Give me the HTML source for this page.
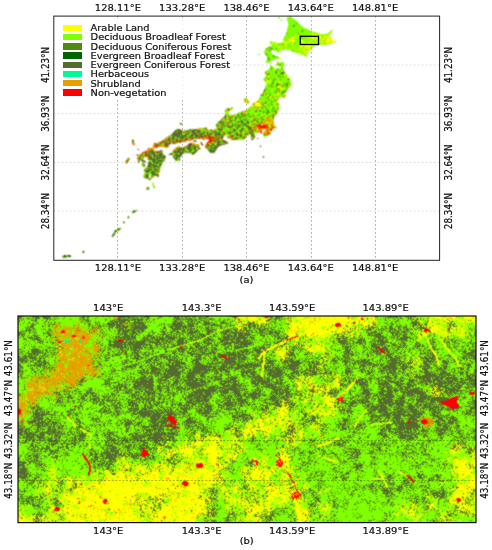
<!DOCTYPE html>
<html><head><meta charset="utf-8"><title>Land cover map of Japan</title>
<style>
html,body{margin:0;padding:0;background:#fff;}
body{width:492px;height:550px;overflow:hidden;position:relative;}
svg{position:absolute;left:0;top:0;}
text{font-family:'DejaVu Sans', 'Liberation Sans', sans-serif;fill:#111;stroke:#111;stroke-width:0.22px;}
</style></head><body>
<svg width="492" height="550" viewBox="0 0 492 550" shape-rendering="crispEdges">

<path d="M117.5 16.1V260.3M182.5 16.1V260.3M246.5 16.1V260.3M311.5 16.1V260.3M375.5 16.1V260.3" stroke="#a8a8a8" stroke-width="1" stroke-dasharray="1.5 2.5" fill="none" shape-rendering="auto"/>
<path d="M53.8 65.0H439.6M53.8 113.7H439.6M53.8 162.4H439.6M53.8 211.1H439.6" stroke="#cccccc" stroke-width="0.8" stroke-dasharray="1.6 2.4" fill="none" shape-rendering="auto"/>
<defs><filter id="tb" x="0" y="0" width="492" height="300" filterUnits="userSpaceOnUse" color-interpolation-filters="sRGB"><feConvolveMatrix order="3" kernelMatrix="1 2 1 2 4 2 1 2 1" edgeMode="none"/></filter></defs>
<g id="topmap" filter="url(#tb)"><path stroke="#7fff00" fill="none" d="M290 16.5h1M278 17.5h2m7 0h5M279 18.5h1m7 0h6M281 19.5h1m5 0h8M281 20.5h1m5 0h9M288 21.5h9M288 22.5h10M288 23.5h8m1 0h2M289 24.5h11M288 25.5h5m2 0h6M288 26.5h5m1 0h9M288 27.5h15M287 28.5h19M287 29.5h21M287 30.5h15m1 0h7m21 0h2M287 31.5h15m1 0h8m19 0h1M286 32.5h26m1 0h3m13 0h3M287 33.5h2m1 0h8m1 0h13m1 0h6m9 0h3M286 34.5h8m1 0h15m1 0h1m2 0h1m2 0h2m1 0h3m1 0h5M285 35.5h8m2 0h1m2 0h11m2 0h1m5 0h3m1 0h4m1 0h3M284 36.5h9m1 0h7m1 0h9m3 0h3m4 0h3M284 37.5h5m1 0h1m3 0h1m1 0h1m1 0h3m1 0h6m2 0h2m2 0h2m2 0h2m2 0h2m3 0h1m2 0h1M283 38.5h1m1 0h4m1 0h1m3 0h15m1 0h1m3 0h2m5 0h1m8 0h1M283 39.5h6m5 0h12m1 0h6m3 0h2m1 0h2m1 0h1M283 40.5h6m6 0h5m3 0h9m1 0h5m1 0h2m1 0h5m4 0h1M271 41.5h1m13 0h3m3 0h1m3 0h4m1 0h1m3 0h1m1 0h3m2 0h4m1 0h2m2 0h1m2 0h2m4 0h1m5 0h1M270 42.5h6m5 0h2m6 0h3m1 0h9m2 0h4m1 0h3m1 0h4m1 0h1m1 0h1m3 0h2m3 0h1M270 43.5h2m3 0h1m1 0h1m3 0h2m1 0h1m2 0h5m1 0h1m1 0h5m1 0h3m2 0h2m2 0h2m3 0h2m2 0h4m1 0h3m1 0h2m1 0h1M272 44.5h4m1 0h4m1 0h10m1 0h5m1 0h3m1 0h3m6 0h1m1 0h2m1 0h1m1 0h2m1 0h5M272 45.5h4m1 0h6m1 0h1m1 0h3m1 0h2m1 0h7m4 0h1m6 0h2m1 0h3M270 46.5h9m1 0h2m1 0h2m2 0h8m1 0h4m3 0h2m6 0h3M270 47.5h8m2 0h1m1 0h2m1 0h7m2 0h6m2 0h2m3 0h1m2 0h2M267 48.5h1m1 0h1m2 0h4m1 0h1m1 0h2m1 0h7m1 0h3m1 0h5m1 0h4m1 0h1m4 0h2M265 49.5h2m1 0h1m1 0h1m2 0h7m1 0h4m2 0h8m1 0h1m2 0h1m5 0h4M265 50.5h4m5 0h6m1 0h1m11 0h9m3 0h2m1 0h1M264 51.5h7m6 0h3m12 0h12M264 52.5h7m7 0h1m16 0h2m1 0h1m1 0h4m2 0h2M266 53.5h6m26 0h1m2 0h1m1 0h1m2 0h2M258 54.5h2m7 0h6m28 0h5M266 55.5h1m1 0h5m1 0h1m29 0h3M267 56.5h6m2 0h3m28 0h1M267 57.5h1m1 0h7m1 0h2M267 58.5h1m1 0h9m2 0h1M267 59.5h1m2 0h4M266 60.5h6M266 61.5h5m6 0h1M266 62.5h4m8 0h1m2 0h3M277 63.5h7M276 64.5h1m1 0h1m2 0h3M270 65.5h1m5 0h1m1 0h6M270 66.5h3m6 0h5M270 67.5h1m1 0h2m7 0h2M269 68.5h5m6 0h1M269 69.5h2m1 0h12M268 70.5h7m2 0h2m1 0h4M265 71.5h10m2 0h6M266 72.5h9m2 0h4M265 73.5h3m2 0h6m1 0h3m4 0h2M265 74.5h1m4 0h2m1 0h7m3 0h1m1 0h1M268 75.5h10m1 0h5m1 0h2M267 76.5h1m1 0h9m2 0h1m1 0h1m1 0h4M266 77.5h5m1 0h12m1 0h2m1 0h1M264 78.5h4m1 0h2m1 0h2m1 0h3m1 0h1m1 0h3m1 0h2m1 0h2M263 79.5h5m1 0h4m1 0h1m1 0h8m1 0h2M266 80.5h1m2 0h4m1 0h6m1 0h3m1 0h5M265 81.5h2m4 0h2m1 0h5m2 0h10M266 82.5h2m1 0h1m1 0h1m1 0h5m2 0h8m1 0h2M267 83.5h5m2 0h3m4 0h3m1 0h1m2 0h3M266 84.5h5m1 0h3m7 0h2m1 0h1m2 0h2m1 0h1M266 85.5h4m1 0h5m7 0h3m2 0h2M265 86.5h3m1 0h2m2 0h2m1 0h3m5 0h1m1 0h3M265 87.5h6m1 0h5m3 0h3m2 0h2m1 0h1M266 88.5h11m5 0h1m1 0h5M265 89.5h2m2 0h8m2 0h1m1 0h1m2 0h2m1 0h1M266 90.5h3m1 0h1m1 0h4m1 0h2m2 0h3m1 0h2M265 91.5h10m1 0h3m1 0h2m3 0h1M264 92.5h12m1 0h3m1 0h1m1 0h1m1 0h1M264 93.5h2m1 0h2m1 0h4m1 0h2m2 0h2m2 0h2M263 94.5h3m1 0h3m1 0h3m5 0h2m3 0h1M261 95.5h1m2 0h3m3 0h2m1 0h2m3 0h6M260 96.5h1m1 0h6m1 0h1m1 0h1m1 0h3m1 0h4m2 0h1M260 97.5h5m1 0h2m3 0h4m1 0h1m2 0h1M244 98.5h3m13 0h6m1 0h1m1 0h5m3 0h2M247 99.5h1m11 0h12m1 0h4m2 0h1M245 100.5h2m11 0h7m1 0h2m1 0h6m1 0h1M261 101.5h1m1 0h6m3 0h1m1 0h3M247 102.5h1m10 0h4m1 0h2m2 0h10M247 103.5h1m6 0h1m7 0h1m3 0h5m1 0h1m1 0h3M254 104.5h1m5 0h2m4 0h2m1 0h2m2 0h1m1 0h1M254 105.5h2m8 0h15M253 106.5h4m2 0h2m1 0h2m2 0h3m1 0h9M231 107.5h1m17 0h2m2 0h1m2 0h1m2 0h3m1 0h7m2 0h1m1 0h5M229 108.5h4m15 0h4m1 0h1m4 0h2m3 0h3m1 0h5m2 0h3M247 109.5h7m2 0h1m1 0h1m1 0h1m1 0h4m1 0h11M226 110.5h2m1 0h1m18 0h1m1 0h5m2 0h2m2 0h6m2 0h3m1 0h1m2 0h3M225 111.5h1m1 0h2m14 0h1m3 0h8m2 0h3m1 0h2m2 0h2m2 0h3m1 0h2m1 0h2M225 112.5h1m1 0h2m10 0h2m1 0h2m3 0h16m1 0h2m4 0h5m2 0h1M225 113.5h4m8 0h1m1 0h2m4 0h3m1 0h4m1 0h12m2 0h3m1 0h2M226 114.5h3m6 0h3m1 0h2m6 0h1m1 0h10m1 0h11M227 115.5h2m1 0h1m4 0h2m2 0h2m1 0h2m1 0h4m1 0h2m2 0h3m2 0h3m1 0h1m1 0h2m1 0h3m3 0h1M227 116.5h1m1 0h2m2 0h2m1 0h1m3 0h1m5 0h1m1 0h1m3 0h1m1 0h8m2 0h4m2 0h2m2 0h1M226 117.5h1m6 0h2m2 0h2m1 0h1m1 0h13m1 0h4m2 0h4m3 0h4M224 118.5h1m1 0h1m4 0h4m2 0h2m2 0h2m1 0h2m1 0h4m1 0h2m2 0h1m1 0h3m1 0h4m3 0h1m1 0h2M222 119.5h3m2 0h1m2 0h1m1 0h3m1 0h4m1 0h3m2 0h2m1 0h4m3 0h3m1 0h1m3 0h2m4 0h3M221 120.5h2m3 0h3m6 0h6m2 0h1m1 0h1m1 0h6m5 0h6m4 0h1M222 121.5h1m1 0h5m3 0h3m2 0h1m5 0h3m3 0h2m2 0h4m1 0h3m5 0h1M217 122.5h1m6 0h1m5 0h1m1 0h5m2 0h2m3 0h3m3 0h1m1 0h4m3 0h2m1 0h1M179 123.5h1m37 0h2m1 0h1m3 0h1m4 0h3m1 0h2m1 0h5m1 0h1m6 0h4m2 0h4m6 0h2M180 124.5h1m37 0h2m1 0h1m2 0h1m1 0h1m3 0h2m2 0h1m1 0h1m3 0h1m1 0h1m1 0h1m1 0h6m3 0h2m1 0h1m3 0h1m2 0h1m4 0h1M217 125.5h1m1 0h1m3 0h1m1 0h1m3 0h3m4 0h1m4 0h1m6 0h7m13 0h1m4 0h2M216 126.5h1m9 0h1m6 0h1m2 0h2m3 0h5m4 0h2m2 0h1m13 0h3m2 0h1m1 0h1M206 127.5h1m9 0h5m2 0h5m4 0h4m3 0h3m1 0h3m10 0h1m12 0h2M201 128.5h2m13 0h2m4 0h2m1 0h8m1 0h2m2 0h3m3 0h3m4 0h2m14 0h1m2 0h1M176 129.5h1m14 0h1m6 0h1m1 0h5m5 0h1m5 0h1m6 0h7m2 0h1m3 0h1m1 0h3m2 0h1m1 0h3M185 130.5h1m2 0h1m1 0h1m10 0h4m10 0h4m3 0h4m2 0h2m3 0h1m2 0h3m4 0h1m2 0h4m1 0h1m4 0h2m11 0h1M177 131.5h1m6 0h1m5 0h1m5 0h1m5 0h1m2 0h6m3 0h1m2 0h2m1 0h1m1 0h1m1 0h5m1 0h2m4 0h4m2 0h3m1 0h2m5 0h6m6 0h2m2 0h1M187 132.5h1m2 0h1m5 0h1m3 0h3m2 0h1m3 0h3m5 0h1m3 0h2m3 0h1m6 0h4m1 0h1m3 0h4m1 0h1m5 0h3M182 133.5h4m4 0h1m14 0h1m7 0h1m6 0h2m1 0h1m2 0h2m3 0h4m3 0h2m1 0h3m1 0h1m5 0h1m2 0h1m9 0h3m3 0h1M182 134.5h2m5 0h2m12 0h1m1 0h2m1 0h1m3 0h2m7 0h1m3 0h4m2 0h3m1 0h1m6 0h2m4 0h1m1 0h1m3 0h1m12 0h1M171 135.5h1m8 0h1m6 0h3m4 0h1m4 0h1m11 0h1m1 0h2m2 0h1m6 0h2m1 0h3m4 0h2m7 0h2m1 0h2m15 0h2m1 0h1M169 136.5h3m2 0h1m12 0h1m5 0h2m12 0h1m6 0h1m2 0h1m2 0h1m13 0h3m1 0h2m2 0h2m2 0h1m6 0h1m10 0h2M168 137.5h1m6 0h2m7 0h1m3 0h1m1 0h1m16 0h1m8 0h1m16 0h2m2 0h1m1 0h1m1 0h1M170 138.5h1m4 0h1m2 0h2m4 0h1m12 0h1m13 0h1m5 0h1m1 0h2m12 0h1m5 0h4m9 0h1m5 0h1M166 139.5h1m7 0h1m3 0h1m1 0h1m2 0h1m4 0h1m23 0h1m7 0h2m9 0h1m3 0h1m1 0h1m1 0h2M171 140.5h2m1 0h1m3 0h1m38 0h1m1 0h2M164 141.5h1m1 0h1m2 0h1m40 0h1m2 0h1M175 142.5h2m1 0h1m33 0h2m2 0h1m3 0h3M133 143.5h1m28 0h3m41 0h1m1 0h3m1 0h1m2 0h2m3 0h1m1 0h2M160 144.5h1m1 0h2m30 0h1m3 0h1m11 0h1m3 0h2M153 145.5h2m7 0h1m29 0h1m17 0h1M191 146.5h1m4 0h1m11 0h1m3 0h3M166 147.5h1m24 0h1m1 0h1m5 0h1m8 0h3M185 148.5h1m6 0h1m3 0h2m14 0h1M150 149.5h1m25 0h1m8 0h2m5 0h1m3 0h1m10 0h1m1 0h1m2 0h1m1 0h1M153 150.5h1m22 0h1m4 0h1m3 0h4m3 0h3M172 151.5h2m10 0h1m2 0h2m2 0h3M161 152.5h2m9 0h1m12 0h1m4 0h1M149 153.5h2m5 0h1m1 0h1m14 0h1m3 0h1m1 0h1m10 0h1M143 154.5h2m11 0h1m1 0h1m9 0h1m5 0h1m3 0h1M143 155.5h1m7 0h2m3 0h1m17 0h1M139 156.5h2m2 0h1m3 0h1m4 0h1m9 0h1m11 0h1M141 157.5h2m5 0h1m3 0h2m1 0h1m19 0h1m2 0h1M127 158.5h1m13 0h1m13 0h1m4 0h1m4 0h1m12 0h1M139 159.5h1m1 0h1m16 0h1m2 0h1m1 0h2m12 0h2M140 160.5h1m8 0h3m4 0h1m20 0h2M150 161.5h2m4 0h1M151 162.5h2m6 0h1m1 0h2M152 163.5h2m1 0h1m3 0h1M141 164.5h3m11 0h1m1 0h2M142 165.5h1m4 0h1m3 0h1m5 0h2m2 0h1M142 166.5h2m8 0h1m7 0h1M146 167.5h1m2 0h1m5 0h1m3 0h1M145 168.5h1m2 0h1m2 0h2m3 0h1m1 0h1M146 169.5h1m6 0h1M150 170.5h1m1 0h2m1 0h1m1 0h2M144 171.5h1m5 0h1M145 172.5h2m1 0h3m4 0h3M146 173.5h1m1 0h1m1 0h1m4 0h1m1 0h1M144 174.5h2m2 0h1m1 0h2M143 175.5h2m5 0h2M143 176.5h1m1 0h1m8 0h1M148 177.5h1M147 178.5h1m3 0h1M149 180.5h1M152 183.5h2M152 184.5h2M153 185.5h1M153 186.5h1M153 187.5h1M147 188.5h3M134 210.5h2M127 217.5h1M128 218.5h1M119 228.5h1M116 229.5h1M114 232.5h2M115 233.5h1M63 255.5h1M67 256.5h1"/>
<path stroke="#556b2f" fill="none" d="M302 30.5h1M302 31.5h1M286 33.5h1M262 104.5h1M227 108.5h1M228 109.5h2M225 110.5h1m2 0h1m20 0h1m6 0h1m2 0h2m14 0h1M242 111.5h1m13 0h1m18 0h1M241 112.5h1m33 0h1M238 113.5h1m2 0h1m6 0h1m27 0h1M225 114.5h1m12 0h1m2 0h3m1 0h2m1 0h1M229 115.5h1m2 0h1m4 0h2m5 0h1m13 0h1M224 116.5h3m1 0h1m8 0h1m1 0h1m2 0h1m1 0h2m7 0h1M224 117.5h2m4 0h3m2 0h2m2 0h1M225 118.5h1m3 0h2m4 0h2m2 0h1m3 0h1m2 0h1m10 0h1m3 0h1M221 119.5h1m3 0h1m3 0h1m5 0h1m4 0h1m3 0h2M220 120.5h1m2 0h1m1 0h1m4 0h3m1 0h1m6 0h2m1 0h1m1 0h1m6 0h1M220 121.5h2m8 0h1m4 0h1m2 0h5m3 0h3m2 0h1M219 122.5h3m1 0h1m1 0h1m1 0h3m1 0h1m5 0h2m2 0h2m5 0h1M180 123.5h2m37 0h1m1 0h1m1 0h1m8 0h1m2 0h1m5 0h1m1 0h2m1 0h3m11 0h1M181 124.5h1m34 0h2m2 0h1m1 0h2m1 0h1m1 0h1m1 0h1m2 0h1m4 0h1m1 0h1m1 0h1m1 0h1m1 0h1m6 0h1M216 125.5h1m1 0h1m3 0h1m1 0h1m2 0h1m4 0h2m1 0h1m1 0h2m1 0h1m1 0h2m1 0h3M217 126.5h2m3 0h1m1 0h2m1 0h6m2 0h1m2 0h3m5 0h1m1 0h2M221 127.5h2m5 0h4m4 0h3m3 0h1m5 0h3m3 0h1M203 128.5h2m1 0h1m11 0h2m1 0h1m2 0h1m8 0h1m3 0h1m3 0h3m5 0h2M177 129.5h3m9 0h2m2 0h1m1 0h2m8 0h1m11 0h6m7 0h1m2 0h3m1 0h1m3 0h2m1 0h1m3 0h5M175 130.5h7m2 0h1m2 0h1m1 0h1m1 0h9m7 0h1m2 0h2m2 0h1m4 0h1m1 0h1m4 0h1m5 0h1m1 0h2m3 0h4m7 0h1m1 0h1m1 0h2M174 131.5h3m1 0h4m4 0h4m1 0h4m2 0h5m1 0h2m6 0h1m1 0h1m1 0h2m2 0h1m1 0h1m7 0h1m3 0h3m4 0h2m3 0h1m2 0h2m1 0h1M173 132.5h3m1 0h6m1 0h2m2 0h1m2 0h5m1 0h3m3 0h2m1 0h3m4 0h4m1 0h3m2 0h2m2 0h6m4 0h1m3 0h1m4 0h1m3 0h3M173 133.5h9m4 0h4m3 0h4m1 0h1m1 0h3m3 0h2m1 0h4m3 0h4m2 0h1m5 0h3m4 0h2m3 0h1m5 0h1m2 0h2m1 0h1M171 134.5h11m3 0h2m1 0h1m2 0h6m2 0h4m1 0h1m2 0h1m1 0h3m2 0h7m1 0h1m11 0h1m1 0h1m3 0h2m2 0h4m3 0h3M172 135.5h8m1 0h6m3 0h4m1 0h1m1 0h2m1 0h2m2 0h3m2 0h1m5 0h2m1 0h3m1 0h1m7 0h1m1 0h2m2 0h6m9 0h2m1 0h1M168 136.5h1m3 0h2m1 0h12m1 0h5m2 0h6m1 0h3m4 0h2m2 0h1m1 0h2m4 0h3m8 0h2m6 0h2m2 0h1m6 0h2m1 0h1M169 137.5h2m1 0h3m2 0h2m1 0h4m1 0h1m3 0h1m1 0h3m1 0h2m2 0h1m1 0h2m10 0h1m1 0h1m3 0h4m6 0h2m1 0h1m2 0h2m1 0h1m1 0h1m1 0h4m7 0h2M165 138.5h1m2 0h1m3 0h3m2 0h1m2 0h4m1 0h2m3 0h3m2 0h2m5 0h1m12 0h2m1 0h1m2 0h2m11 0h4m6 0h1m8 0h1m3 0h1M168 139.5h2m1 0h3m1 0h3m1 0h1m1 0h2m1 0h2m27 0h1m2 0h1m1 0h2m12 0h2m2 0h1m14 0h1M132 140.5h2m31 0h6m2 0h1m2 0h2m1 0h1m4 0h1m9 0h2m17 0h1m9 0h2M132 141.5h2m28 0h2m1 0h1m2 0h1m1 0h1m1 0h3m2 0h1m1 0h1m2 0h2m9 0h1m2 0h1m19 0h11M162 142.5h2m1 0h2m2 0h2m6 0h1m23 0h1m8 0h1m3 0h1m2 0h3m3 0h3m1 0h1M155 143.5h1m4 0h2m3 0h2m1 0h2m2 0h4m13 0h2m20 0h1m1 0h1m3 0h3m1 0h1m3 0h3M157 144.5h2m2 0h1m3 0h3m1 0h1m18 0h1m2 0h1m9 0h2m9 0h2m3 0h4m1 0h3M155 145.5h4m6 0h3m19 0h5m1 0h2m7 0h1m4 0h3m1 0h5m1 0h4M168 146.5h1m19 0h2m2 0h4m2 0h1m7 0h2m1 0h3m3 0h4M185 147.5h1m1 0h4m1 0h1m1 0h3m1 0h1m6 0h1m1 0h1m3 0h7M178 148.5h7m2 0h5m1 0h3m2 0h2m8 0h4m1 0h4M177 149.5h8m2 0h5m1 0h3m14 0h2m3 0h1M151 150.5h2m7 0h2m13 0h1m1 0h4m1 0h3m4 0h3m3 0h3m10 0h8M148 151.5h2m1 0h3m2 0h3m1 0h1m1 0h1m11 0h7m1 0h2m1 0h2m2 0h2m3 0h3m12 0h6M142 152.5h1m3 0h1m1 0h7m1 0h1m1 0h1m1 0h1m12 0h10m1 0h1m1 0h4m1 0h5m14 0h3m1 0h1M145 153.5h2m1 0h1m2 0h4m2 0h1m1 0h4m7 0h2m4 0h1m4 0h3m8 0h3M140 154.5h1m1 0h1m2 0h2m1 0h4m1 0h3m1 0h1m2 0h3m6 0h4m2 0h3m1 0h2m11 0h1M137 155.5h2m1 0h1m3 0h6m3 0h3m1 0h8m8 0h1m1 0h7M141 156.5h1m6 0h1m1 0h2m1 0h5m1 0h3m1 0h3m7 0h1m1 0h6M139 157.5h2m2 0h1m6 0h2m2 0h1m1 0h9m8 0h2m1 0h2m1 0h1m83 0h1M128 158.5h1m8 0h1m1 0h2m8 0h6m1 0h4m1 0h4m9 0h4m1 0h1M140 159.5h1m1 0h1m5 0h10m1 0h1m2 0h1m12 0h2m2 0h1M126 160.5h3m9 0h1m2 0h3m8 0h4m1 0h6m1 0h1m11 0h1m2 0h1M127 161.5h1m10 0h1m3 0h4m3 0h1m2 0h4m1 0h6M127 162.5h1m10 0h1m5 0h1m3 0h3m2 0h6m1 0h1M142 163.5h2m4 0h4m2 0h1m1 0h3m1 0h2M144 164.5h1m3 0h7m1 0h1m2 0h3M143 165.5h2m3 0h3m1 0h5m2 0h2M144 166.5h1m4 0h3m1 0h7M148 167.5h1m1 0h2m1 0h2m1 0h1m1 0h1M146 168.5h2m1 0h2m3 0h2M144 169.5h1m3 0h5m1 0h5M145 170.5h5m1 0h1m2 0h1m1 0h1M145 171.5h1m2 0h2m1 0h9M147 172.5h1m3 0h4M147 173.5h1m1 0h1m1 0h4m1 0h1M146 174.5h2m4 0h6M145 175.5h4m3 0h1m1 0h1m1 0h3M146 176.5h3m2 0h1m5 0h1M144 177.5h4m3 0h1M146 178.5h1m1 0h2M149 179.5h1M147 187.5h2M146 188.5h1M147 189.5h2M133 210.5h1M134 211.5h2M133 212.5h1M118 230.5h1M113 233.5h2M114 234.5h1M67 255.5h1M62 256.5h1M65 257.5h1"/>
<path stroke="#006400" fill="none" d="M196 135.5h1m70 0h1M252 139.5h1M215 140.5h1M186 146.5h1m3 0h1m69 0h1M176 148.5h1M213 149.5h1M180 153.5h1M181 154.5h1M263 156.5h1M148 166.5h1M159 168.5h1M146 171.5h2M136 210.5h1M133 211.5h1M132 212.5h1M128 216.5h1M128 217.5h1M123 222.5h2M118 228.5h1m1 0h1M118 229.5h2M115 230.5h1M114 231.5h3M113 234.5h1M112 235.5h2M112 236.5h1M83 251.5h1M83 252.5h1M64 255.5h2m2 0h2M64 256.5h3m1 0h3M63 257.5h1"/>
<path stroke="#4f8a10" fill="none" d="M296 23.5h1M293 25.5h2M293 26.5h1M311 31.5h1M298 33.5h1M293 35.5h1m16 0h1M301 36.5h1M301 37.5h1M325 38.5h1M318 44.5h1M268 47.5h2M266 48.5h1m3 0h2m4 0h1M267 49.5h1m3 0h2M269 50.5h2m21 0h1M265 54.5h2M267 55.5h1m5 0h1M273 56.5h2M268 57.5h1m7 0h1M268 58.5h1M268 59.5h2M277 64.5h1m1 0h2M271 67.5h1M277 68.5h1m4 0h1M271 69.5h1M276 70.5h1m2 0h1M275 71.5h2m6 0h1M275 72.5h2m4 0h4M268 73.5h1m7 0h1m3 0h4M267 74.5h2m11 0h1m1 0h1M278 75.5h1M278 76.5h2m1 0h1m1 0h1M265 77.5h1m5 0h1M268 78.5h1m5 0h1m5 0h1m3 0h1M268 79.5h1m4 0h1m1 0h1m11 0h3M273 80.5h1m6 0h1M273 81.5h1M272 82.5h1m15 0h1M272 83.5h2m3 0h2m5 0h1m1 0h2M271 84.5h1m4 0h5m3 0h1m1 0h2M270 85.5h1m5 0h2m2 0h1m1 0h1m3 0h2M268 86.5h1m2 0h2m2 0h1m6 0h2m1 0h1M287 87.5h1M265 88.5h1m11 0h1m1 0h1M264 89.5h1m2 0h1m9 0h2m7 0h1M264 90.5h2m3 0h1m6 0h1m2 0h1m4 0h1M275 91.5h1m6 0h3m1 0h1M276 92.5h1m5 0h1m1 0h1M263 93.5h1m2 0h1m2 0h1m4 0h1m6 0h2M261 94.5h1m4 0h1m3 0h1m5 0h1m5 0h1M260 95.5h1m1 0h2m5 0h1M268 96.5h1m7 0h1M268 97.5h1m14 0h1M259 98.5h1m6 0h1m1 0h1m5 0h1M276 99.5h1M268 100.5h1m6 0h1M270 101.5h2m1 0h1M248 102.5h1m13 0h1m2 0h2M261 103.5h1m2 0h2m5 0h1M268 104.5h1m2 0h2m5 0h1M262 105.5h1M264 106.5h2m3 0h1M257 107.5h2m3 0h1m10 0h1M254 108.5h1m6 0h2m3 0h1m5 0h2m4 0h1M266 109.5h1M255 110.5h1m11 0h2m3 0h1m1 0h1M246 111.5h1m8 0h1m4 0h1m2 0h2m2 0h2m3 0h1M263 112.5h1m2 0h4m6 0h1M266 113.5h2M259 114.5h1m13 0h1M234 115.5h1m6 0h1m7 0h1m3 0h1m17 0h1m1 0h1M241 116.5h1m5 0h1m1 0h2m12 0h1m5 0h1m2 0h2M241 117.5h1m19 0h1m11 0h1M240 118.5h1m14 0h1M248 119.5h1m10 0h1m2 0h1M254 120.5h1m1 0h2m13 0h1M223 121.5h1m33 0h1m3 0h1M222 122.5h1m20 0h1m3 0h1m9 0h1m3 0h1M245 123.5h1M235 124.5h1M234 125.5h1m9 0h1M255 127.5h1M248 128.5h1"/>
<path stroke="#ffff00" fill="none" d="M289 16.5h1M288 24.5h1M303 27.5h1M312 31.5h1m18 0h1M312 32.5h1M312 33.5h1m6 0h1m7 0h1M294 34.5h1m15 0h1m1 0h2m1 0h2m2 0h1m3 0h1m5 0h1M294 35.5h1m1 0h2m11 0h1m2 0h5m3 0h1m4 0h1m3 0h1M293 36.5h1m17 0h3m3 0h4m3 0h6M291 37.5h3m1 0h1m1 0h1m10 0h2m2 0h2m2 0h2m2 0h2m2 0h3m1 0h2M284 38.5h1m4 0h1m1 0h3m15 0h1m1 0h3m2 0h5m1 0h3m1 0h4m1 0h1M289 39.5h5m12 0h1m6 0h3m2 0h1m2 0h1m1 0h9M289 40.5h6m5 0h3m9 0h1m5 0h1m2 0h1m5 0h4m1 0h2M270 41.5h1m12 0h2m3 0h3m1 0h3m4 0h1m1 0h3m1 0h1m3 0h2m4 0h1m2 0h2m1 0h2m2 0h4m1 0h5m1 0h1M283 42.5h6m3 0h1m9 0h2m4 0h1m3 0h1m4 0h1m1 0h1m1 0h3m2 0h3m1 0h5M272 43.5h3m1 0h1m3 0h1m4 0h2m5 0h1m7 0h1m3 0h2m2 0h2m2 0h3m2 0h2m4 0h1m3 0h1m2 0h1M271 44.5h1m4 0h1m15 0h1m5 0h1m3 0h1m3 0h6m1 0h1m2 0h1m4 0h1m5 0h1M271 45.5h1m4 0h1m8 0h1m6 0h1m7 0h4m1 0h6m2 0h1M269 46.5h1m9 0h1m2 0h1m2 0h2m8 0h1m4 0h3m2 0h6M278 47.5h2m1 0h1m10 0h2m6 0h2m2 0h3m1 0h2m2 0h1M278 48.5h1m2 0h1m7 0h1m3 0h1m5 0h1m4 0h1m1 0h4M269 49.5h1m10 0h1m14 0h1m1 0h2m1 0h5m4 0h2M280 50.5h1m9 0h2m10 0h3m2 0h1m1 0h1M304 51.5h5M297 52.5h1m1 0h1m4 0h2M299 53.5h2m1 0h1m1 0h2M306 54.5h1M305 56.5h1M279 57.5h1M278 58.5h2M279 62.5h1M277 65.5h1M274 68.5h1M275 70.5h1M281 74.5h1m2 0h1M267 75.5h1m16 0h1M268 76.5h1M284 77.5h1m2 0h1M271 78.5h1m6 0h1m8 0h1M284 79.5h1M267 80.5h2m15 0h1m5 0h1M267 81.5h4m8 0h2M268 82.5h1m1 0h1m7 0h2M266 83.5h1m12 0h2M275 84.5h1m5 0h1M278 85.5h2m1 0h1M279 86.5h3M278 87.5h2m3 0h2M278 88.5h1m1 0h2m1 0h1M268 89.5h1m11 0h1m1 0h2M271 90.5h1m8 0h1M280 92.5h1M277 93.5h2M274 94.5h2m1 0h2m2 0h1m1 0h1M267 95.5h2m3 0h1m2 0h3M261 96.5h1m8 0h1M269 97.5h2m4 0h1m8 0h1M275 98.5h2M277 99.5h1M246 101.5h1m9 0h1m2 0h1m2 0h1m6 0h1m7 0h1M245 102.5h1m9 0h3m19 0h1M246 103.5h1m8 0h6m12 0h1M255 104.5h5m4 0h2m8 0h1M252 105.5h1m3 0h6M252 106.5h1m4 0h2M252 107.5h1m17 0h2M255 108.5h1m4 0h1M254 109.5h2m3 0h1m1 0h1M226 112.5h1m18 0h2M234 114.5h1m36 0h1M262 115.5h1M227 117.5h1M266 118.5h1M224 120.5h1m45 0h1M263 121.5h1m7 0h1M266 122.5h4m1 0h1M269 123.5h1M269 125.5h1M234 126.5h1M274 128.5h1M257 129.5h1M270 131.5h1M64 257.5h1"/>
<path stroke="#e6a000" fill="none" d="M289 33.5h1M289 37.5h1M278 43.5h2m3 0h1m10 0h1M281 44.5h1M283 45.5h1m5 0h1M284 47.5h1M268 48.5h1M265 53.5h1M277 62.5h1M278 68.5h1m2 0h1M267 70.5h1M269 73.5h1M266 74.5h1m2 0h1m2 0h1m13 0h1M266 75.5h1M266 76.5h1M264 80.5h2M290 84.5h1M290 85.5h1M289 86.5h1M271 87.5h1m5 0h1M263 91.5h1M263 92.5h1M262 93.5h1M262 94.5h1M284 95.5h2M281 96.5h2m1 0h2M265 97.5h1m11 0h2M244 99.5h3m24 0h1M244 100.5h1m2 0h1m17 0h1m11 0h1M244 101.5h2m1 0h2m9 0h1m1 0h1M246 102.5h1m7 0h1M253 103.5h1m9 0h1m13 0h2M252 104.5h2m9 0h1m12 0h2M253 105.5h1m9 0h1M251 106.5h1m9 0h1M232 107.5h1m18 0h1m2 0h2M228 108.5h1m23 0h1m3 0h2m19 0h1M226 109.5h2m2 0h2m25 0h1m20 0h1M245 110.5h3M226 111.5h1m17 0h2M244 112.5h1M242 113.5h3m8 0h1m17 0h1m2 0h2M244 114.5h1m27 0h1m1 0h2M225 115.5h2m4 0h1m1 0h1m18 0h1m4 0h1m6 0h1m2 0h1m4 0h1m2 0h1M231 116.5h2m2 0h1m2 0h1m4 0h1m7 0h1m10 0h1m5 0h1M223 117.5h1m4 0h2m25 0h1m4 0h1m5 0h3M223 118.5h1m3 0h2m22 0h1m2 0h1m13 0h1m1 0h1M226 119.5h1m1 0h1m2 0h1m21 0h1m1 0h1m5 0h1m4 0h4m3 0h1M229 120.5h1m3 0h1m21 0h1m8 0h4m1 0h1m2 0h1M218 121.5h2m9 0h1m1 0h1m4 0h1m27 0h2m1 0h2m1 0h1m1 0h2M218 122.5h1m7 0h1m22 0h1m1 0h1m4 0h1m6 0h3m4 0h1m1 0h2M222 123.5h1m2 0h4m24 0h2m4 0h1m1 0h4m2 0h2m1 0h4M228 124.5h1m4 0h1m4 0h1m14 0h1m6 0h2m1 0h2m2 0h3m1 0h3M220 125.5h2m4 0h1m1 0h1m10 0h1m16 0h1m4 0h2m3 0h1m3 0h1m1 0h1M219 126.5h3m1 0h1m28 0h2m1 0h2m10 0h1m3 0h1m2 0h1M205 127.5h1m40 0h2m4 0h2m3 0h3m5 0h1m5 0h2m1 0h3M198 128.5h3m4 0h1m14 0h1m15 0h1m10 0h1m5 0h6m2 0h3m2 0h1m1 0h2m3 0h1M180 129.5h1m11 0h1m1 0h1m2 0h1m1 0h1m6 0h2m3 0h1m2 0h2m15 0h1m21 0h4m1 0h5m3 0h1m1 0h2M182 130.5h1m3 0h1m13 0h1m4 0h2m1 0h2m2 0h2m6 0h1m6 0h1m2 0h2m12 0h2m7 0h1m4 0h4m3 0h2m1 0h1M182 131.5h2m1 0h1m9 0h1m16 0h1m10 0h1m8 0h1m17 0h1m9 0h1m3 0h1m2 0h2M176 132.5h1m6 0h1m2 0h1m2 0h1m22 0h1m12 0h1m13 0h2m7 0h2m6 0h1m6 0h4m1 0h3M172 133.5h1m18 0h2m4 0h1m1 0h1m4 0h1m3 0h1m5 0h2m9 0h1m18 0h1m2 0h2m4 0h1m7 0h1m1 0h1M184 134.5h1m2 0h1m9 0h2m24 0h1m5 0h2m7 0h2m9 0h1m13 0h1m2 0h1m1 0h2M169 135.5h2m31 0h2m6 0h1m1 0h1m8 0h1m1 0h1m18 0h1m2 0h1m7 0h1m11 0h1M206 136.5h1m4 0h2m5 0h2m7 0h5m5 0h1m7 0h1M166 137.5h2m3 0h1m7 0h1m6 0h2m6 0h1m2 0h2m1 0h1m2 0h3m8 0h1m12 0h2m22 0h2M166 138.5h2m3 0h1m4 0h1m10 0h1m1 0h1m3 0h2m5 0h2m1 0h3m2 0h1m5 0h1m13 0h1m2 0h2m5 0h1m4 0h1m7 0h1M132 139.5h1m31 0h2m1 0h1m2 0h1m18 0h3m1 0h1m10 0h1m3 0h1m5 0h2m14 0h1m7 0h1m2 0h3M162 140.5h1m1 0h1m10 0h1m5 0h3m1 0h5m26 0h1m4 0h2M160 141.5h2m5 0h1m3 0h1m12 0h1m9 0h2m16 0h1m2 0h1M132 142.5h2m24 0h2m1 0h1m5 0h2m2 0h2m1 0h1m4 0h1m20 0h1m7 0h1m6 0h1m10 0h1M134 143.5h1m21 0h4m16 0h1m15 0h3m5 0h3m11 0h1m9 0h1M134 144.5h1m18 0h2m1 0h1m2 0h1m8 0h1m23 0h2m1 0h3m7 0h2m2 0h1m1 0h1m4 0h1M160 145.5h2m1 0h2m3 0h1m26 0h3m7 0h2m9 0h1m43 0h1M154 146.5h1m2 0h7m1 0h1m1 0h1m10 0h2m4 0h2m1 0h1m9 0h1m7 0h1M153 147.5h3m1 0h1m7 0h1m1 0h1m8 0h9m1 0h1m10 0h1m8 0h1M149 148.5h2m1 0h2m21 0h1m1 0h1m8 0h1m13 0h1m5 0h2M137 149.5h1m9 0h3m1 0h3m20 0h2m21 0h3m8 0h1m7 0h1M146 150.5h4m4 0h1m19 0h1M144 151.5h1m1 0h2m2 0h1m3 0h2m5 0h1m19 0h1M144 152.5h1m2 0h1m7 0h1m3 0h1m23 0h1m29 0h1M141 153.5h4m2 0h1m7 0h1m16 0h1m1 0h2m2 0h1m12 0h1M136 154.5h2m3 0h1m5 0h1m4 0h1m20 0h1m19 0h1M139 155.5h1m1 0h1m8 0h1M138 156.5h1m3 0h1m1 0h2m12 0h1M137 157.5h2m8 0h1m17 0h1M129 158.5h1m8 0h1m3 0h2m3 0h2M127 159.5h3m30 0h1M139 160.5h1m4 0h1m18 0h1m11 0h1M125 161.5h2m12 0h1m23 0h1M125 162.5h2M126 163.5h1M147 166.5h1M147 167.5h1m4 0h1m4 0h1m2 0h1M153 168.5h1m3 0h1M145 169.5h1m1 0h1m11 0h1M144 170.5h1m14 0h1M158 172.5h1M144 173.5h2m12 0h1M158 174.5h1M153 175.5h1m1 0h1M144 176.5h1m7 0h2m4 0h1M152 177.5h1M150 178.5h1M150 179.5h1M154 186.5h1M154 187.5h1M134 212.5h1M123 221.5h1M117 229.5h1M116 230.5h2M82 251.5h1m1 0h1M82 252.5h1M70 255.5h1M63 256.5h1"/>
<path stroke="#ff0000" fill="none" d="M265 72.5h1M264 91.5h1m14 0h1M272 96.5h1M257 101.5h1M222 118.5h1m44 0h1m5 0h1M254 119.5h1m8 0h1M252 121.5h1m9 0h1m6 0h1M258 122.5h1M254 124.5h1m2 0h1m1 0h1m6 0h1M255 125.5h1m1 0h4m2 0h3m1 0h1m3 0h1M247 126.5h1m9 0h10m5 0h1M251 127.5h1m8 0h5m1 0h3m4 0h1M259 128.5h2m3 0h2m5 0h2M267 129.5h1m2 0h2M267 130.5h1m2 0h2M252 131.5h1m6 0h1m1 0h1M257 132.5h1m2 0h2m5 0h1M203 133.5h1m20 0h1m12 0h1m29 0h3M224 134.5h1m12 0h1m26 0h2M207 135.5h2m22 0h1M201 136.5h1m3 0h1m2 0h1M206 137.5h1m1 0h5m4 0h2m12 0h1M169 138.5h1m18 0h1m9 0h2m6 0h2m1 0h2m1 0h2M186 139.5h2m4 0h1m10 0h1m5 0h3m5 0h1m4 0h1m11 0h1M163 140.5h1m16 0h1m9 0h1m18 0h4m1 0h1m3 0h1M175 141.5h2m1 0h1m1 0h2m3 0h1m22 0h2m1 0h1m2 0h1M160 142.5h1m3 0h1m8 0h1m6 0h1m26 0h1m1 0h1m1 0h1M132 143.5h1m21 0h1m12 0h1m2 0h1m20 0h1m15 0h1M133 144.5h1m21 0h1m8 0h1m24 0h2m16 0h2m12 0h1M159 145.5h1m38 0h1M153 146.5h1m1 0h2m7 0h1m1 0h1M156 147.5h1M148 148.5h1m2 0h1M138 149.5h1M150 150.5h1m22 0h1M145 151.5h1m13 0h1M143 152.5h1m1 0h1m11 0h1M159 154.5h1M142 155.5h1M146 156.5h1m2 0h1M149 157.5h1M138 159.5h1"/></g>
<g id="topover"></g>
<rect x="56" y="19" width="176" height="81" fill="#fff" fill-opacity="0.85"/>
<rect x="300.2" y="36.3" width="18.3" height="8.2" fill="none" stroke="#000" stroke-width="1.3" shape-rendering="auto"/>
<rect x="53.8" y="16.1" width="385.8" height="244.2" fill="none" stroke="#222" stroke-width="1" shape-rendering="auto"/>
<text transform="translate(117.9 11.1) scale(1 0.88)" font-size="10" text-anchor="middle">128.11°E</text>
<text transform="translate(117.9 271.3) scale(1 0.88)" font-size="10" text-anchor="middle">128.11°E</text>
<text transform="translate(182.2 11.1) scale(1 0.88)" font-size="10" text-anchor="middle">133.28°E</text>
<text transform="translate(182.2 271.3) scale(1 0.88)" font-size="10" text-anchor="middle">133.28°E</text>
<text transform="translate(246.5 11.1) scale(1 0.88)" font-size="10" text-anchor="middle">138.46°E</text>
<text transform="translate(246.5 271.3) scale(1 0.88)" font-size="10" text-anchor="middle">138.46°E</text>
<text transform="translate(310.8 11.1) scale(1 0.88)" font-size="10" text-anchor="middle">143.64°E</text>
<text transform="translate(310.8 271.3) scale(1 0.88)" font-size="10" text-anchor="middle">143.64°E</text>
<text transform="translate(375.1 11.1) scale(1 0.88)" font-size="10" text-anchor="middle">148.81°E</text>
<text transform="translate(375.1 271.3) scale(1 0.88)" font-size="10" text-anchor="middle">148.81°E</text>
<text transform="translate(48.6 65.0) scale(1 0.88) rotate(-90)" font-size="10" text-anchor="middle">41.23°N</text>
<text transform="translate(451.6 65.0) scale(1 0.88) rotate(-90)" font-size="10" text-anchor="middle">41.23°N</text>
<text transform="translate(48.6 113.7) scale(1 0.88) rotate(-90)" font-size="10" text-anchor="middle">36.93°N</text>
<text transform="translate(451.6 113.7) scale(1 0.88) rotate(-90)" font-size="10" text-anchor="middle">36.93°N</text>
<text transform="translate(48.6 162.4) scale(1 0.88) rotate(-90)" font-size="10" text-anchor="middle">32.64°N</text>
<text transform="translate(451.6 162.4) scale(1 0.88) rotate(-90)" font-size="10" text-anchor="middle">32.64°N</text>
<text transform="translate(48.6 211.1) scale(1 0.88) rotate(-90)" font-size="10" text-anchor="middle">28.34°N</text>
<text transform="translate(451.6 211.1) scale(1 0.88) rotate(-90)" font-size="10" text-anchor="middle">28.34°N</text>
<text transform="translate(246.5 283.2) scale(1 0.88)" font-size="10" text-anchor="middle">(a)</text>
<rect x="62.8" y="24.80" width="19.5" height="6.3" fill="#ffff00"/>
<text transform="translate(90.6 31.2) scale(1 0.88)" font-size="9.85">Arable Land</text>
<rect x="62.8" y="34.03" width="19.5" height="6.3" fill="#7fff00"/>
<text transform="translate(90.6 40.43) scale(1 0.88)" font-size="9.85">Deciduous Broadleaf Forest</text>
<rect x="62.8" y="43.26" width="19.5" height="6.3" fill="#4f8a10"/>
<text transform="translate(90.6 49.66) scale(1 0.88)" font-size="9.85">Deciduous Coniferous Forest</text>
<rect x="62.8" y="52.49" width="19.5" height="6.3" fill="#006400"/>
<text transform="translate(90.6 58.89) scale(1 0.88)" font-size="9.85">Evergreen Broadleaf Forest</text>
<rect x="62.8" y="61.72" width="19.5" height="6.3" fill="#556b2f"/>
<text transform="translate(90.6 68.12) scale(1 0.88)" font-size="9.85">Evergreen Coniferous Forest</text>
<rect x="62.8" y="70.95" width="19.5" height="6.3" fill="#00fa9a"/>
<text transform="translate(90.6 77.35) scale(1 0.88)" font-size="9.85">Herbaceous</text>
<rect x="62.8" y="80.18" width="19.5" height="6.3" fill="#e6a000"/>
<text transform="translate(90.6 86.58) scale(1 0.88)" font-size="9.85">Shrubland</text>
<rect x="62.8" y="89.41" width="19.5" height="6.3" fill="#ff0000"/>
<text transform="translate(90.6 95.81) scale(1 0.88)" font-size="9.85">Non-vegetation</text>
<defs><clipPath id="bclip"><rect x="18" y="316" width="458" height="206.6"/></clipPath><filter id="bl" x="0" y="0" width="1" height="1" color-interpolation-filters="sRGB"><feConvolveMatrix order="3" kernelMatrix="1 2 1 2 8 2 1 2 1" edgeMode="duplicate" preserveAlpha="true"/></filter></defs>
<g clip-path="url(#bclip)"><g filter="url(#bl)"><rect x="18" y="316" width="458" height="207" fill="#7fff00"/>
<path stroke="#556b2f" fill="none" d="M18 316.5h5m9 0h7m2 0h9m4 0h1m1 0h2m24 0h2m1 0h1m1 0h2m14 0h1m3 0h1m5 0h1m1 0h1m2 0h12m3 0h3m8 0h6m9 0h3m7 0h2m3 0h2m1 0h3m2 0h1m2 0h1m1 0h3m3 0h3m5 0h1m4 0h3m19 0h1m1 0h1m1 0h5m1 0h1m29 0h5m2 0h9m9 0h1m68 0h1m12 0h2m3 0h1m2 0h1m2 0h1m2 0h3m1 0h5m1 0h2m4 0h2m1 0h1m1 0h6m27 0h1m1 0h1m12 0h1M18 317.5h4m5 0h1m2 0h1m2 0h1m1 0h5m3 0h8m3 0h1m9 0h1m15 0h1m1 0h3m2 0h2m8 0h1m11 0h1m8 0h7m1 0h1m1 0h6m2 0h2m2 0h5m1 0h3m10 0h1m1 0h1m11 0h6m2 0h2m1 0h3m2 0h1m2 0h2m1 0h1m2 0h3m1 0h2m1 0h3m25 0h4m30 0h2m1 0h3m2 0h5m1 0h1m6 0h1m86 0h1m1 0h1m7 0h1m1 0h7m1 0h3m2 0h1m6 0h2m1 0h2m2 0h1m2 0h1m2 0h1m7 0h1m20 0h1m6 0h1m16 0h1M18 318.5h3m2 0h1m2 0h1m1 0h2m2 0h2m1 0h5m3 0h6m1 0h1m3 0h1m1 0h1m1 0h1m4 0h1m15 0h1m1 0h3m3 0h1m7 0h1m22 0h3m2 0h1m1 0h1m1 0h3m1 0h1m1 0h3m1 0h2m2 0h1m5 0h3m7 0h2m16 0h6m1 0h1m3 0h2m1 0h3m2 0h1m4 0h3m1 0h3m2 0h1m1 0h3m7 0h1m14 0h1m1 0h1m32 0h1m1 0h1m2 0h5m1 0h1m2 0h2m1 0h2m1 0h1m76 0h1m3 0h1m11 0h1m1 0h1m2 0h1m4 0h1m4 0h1m1 0h3m5 0h4m1 0h1m3 0h1m2 0h1m6 0h1m23 0h1M18 319.5h1m2 0h1m1 0h1m4 0h1m2 0h1m3 0h2m9 0h2m1 0h2m1 0h1m2 0h1m14 0h1m9 0h1m2 0h3m1 0h2m16 0h2m7 0h1m1 0h12m1 0h1m1 0h13m1 0h3m5 0h2m18 0h2m1 0h5m1 0h11m1 0h3m1 0h2m1 0h1m3 0h1m1 0h1m1 0h3m1 0h2m4 0h1m4 0h1m2 0h3m5 0h1m2 0h2m19 0h1m8 0h4m1 0h4m2 0h1m1 0h1m1 0h1m83 0h1m7 0h1m1 0h1m2 0h1m4 0h1m8 0h2m2 0h1m9 0h1m1 0h1m1 0h2m2 0h3m1 0h1m2 0h1m23 0h1M19 320.5h1m1 0h1m9 0h6m5 0h1m3 0h1m6 0h1m28 0h1m2 0h4m1 0h1m14 0h1m4 0h1m1 0h3m1 0h1m1 0h12m1 0h2m1 0h2m1 0h6m3 0h1m2 0h1m3 0h1m11 0h1m8 0h3m1 0h1m1 0h1m1 0h1m5 0h2m1 0h3m1 0h2m3 0h5m1 0h1m1 0h1m3 0h1m5 0h2m3 0h2m2 0h1m4 0h1m1 0h1m4 0h1m26 0h4m5 0h1m3 0h2m10 0h1m93 0h2m2 0h1m7 0h2m8 0h1m3 0h1m3 0h2m11 0h1m20 0h1m18 0h1m1 0h1m4 0h1M18 321.5h2m4 0h1m10 0h2m8 0h2m2 0h1m31 0h1m1 0h1m1 0h1m1 0h3m5 0h1m3 0h1m10 0h3m1 0h12m2 0h2m4 0h2m1 0h3m1 0h1m2 0h1m2 0h1m3 0h1m20 0h1m1 0h4m2 0h2m3 0h4m1 0h3m1 0h1m1 0h1m1 0h2m4 0h3m1 0h1m6 0h2m3 0h1m1 0h2m1 0h1m4 0h1m1 0h1m7 0h2m2 0h1m3 0h1m4 0h1m3 0h1m8 0h1m1 0h1m2 0h3m1 0h1m9 0h1m78 0h1m8 0h1m18 0h1m2 0h3m14 0h1m1 0h3m1 0h1m6 0h1m1 0h1m16 0h1m6 0h2M28 322.5h2m3 0h1m3 0h1m6 0h1m3 0h1m2 0h1m2 0h2m3 0h1m21 0h1m5 0h1m2 0h1m4 0h1m1 0h2m9 0h2m1 0h7m1 0h6m2 0h1m1 0h1m3 0h11m1 0h1m2 0h1m1 0h1m3 0h1m18 0h3m1 0h7m3 0h2m1 0h3m1 0h1m2 0h4m2 0h7m1 0h2m7 0h5m1 0h1m3 0h1m5 0h1m1 0h2m8 0h3m1 0h3m15 0h1m3 0h2m5 0h1m8 0h1m57 0h1m6 0h1m17 0h1m1 0h1m3 0h1m4 0h1m2 0h1m3 0h1m3 0h1m3 0h1m11 0h7m1 0h1m7 0h1m4 0h1m16 0h1m1 0h1m13 0h1M18 323.5h1m4 0h1m5 0h1m2 0h1m3 0h1m1 0h1m5 0h1m3 0h1m1 0h1m3 0h1m4 0h1m24 0h2m2 0h2m5 0h2m2 0h1m3 0h1m3 0h8m1 0h2m1 0h3m1 0h1m1 0h3m2 0h14m1 0h1m15 0h1m1 0h2m7 0h10m1 0h1m4 0h3m1 0h3m1 0h2m3 0h1m2 0h7m2 0h2m1 0h1m4 0h8m1 0h1m16 0h1m1 0h5m2 0h1m4 0h1m1 0h1m2 0h1m1 0h1m1 0h1m3 0h1m2 0h1m6 0h1m1 0h1m1 0h1m83 0h1m1 0h1m10 0h2m3 0h3m2 0h1m15 0h9m5 0h2m12 0h1m7 0h2m1 0h2m2 0h1m16 0h1M20 324.5h1m6 0h1m3 0h5m9 0h1m3 0h1m1 0h4m33 0h3m6 0h1m1 0h1m4 0h1m1 0h17m6 0h1m2 0h1m1 0h2m2 0h7m14 0h1m1 0h1m2 0h1m2 0h3m1 0h12m1 0h1m2 0h7m1 0h3m4 0h8m1 0h5m1 0h1m2 0h2m5 0h1m2 0h1m5 0h1m6 0h3m2 0h4m1 0h3m1 0h1m3 0h1m1 0h1m1 0h2m1 0h1m2 0h1m3 0h1m3 0h1m1 0h1m5 0h2m72 0h1m11 0h3m1 0h1m1 0h1m7 0h2m3 0h2m3 0h1m1 0h1m5 0h1m4 0h1m2 0h4m1 0h2m1 0h2m1 0h3m22 0h2m1 0h3m14 0h1M31 325.5h3m8 0h1m5 0h2m6 0h1m2 0h1m14 0h1m3 0h1m10 0h1m1 0h1m1 0h1m1 0h1m1 0h1m1 0h2m1 0h2m4 0h7m1 0h5m1 0h3m2 0h1m2 0h10m1 0h5m1 0h1m1 0h1m9 0h1m1 0h1m2 0h1m6 0h1m1 0h10m1 0h2m2 0h6m10 0h3m1 0h1m1 0h11m5 0h1m1 0h1m1 0h5m8 0h1m2 0h1m1 0h3m1 0h4m1 0h2m1 0h2m4 0h1m1 0h1m3 0h1m7 0h1m51 0h1m13 0h1m6 0h1m4 0h1m3 0h1m5 0h2m3 0h1m1 0h1m14 0h3m3 0h1m3 0h2m4 0h1m5 0h5m1 0h4m4 0h1m5 0h1m16 0h3m1 0h1M27 326.5h2m1 0h4m8 0h2m1 0h1m2 0h2m2 0h1m4 0h1m30 0h2m2 0h1m5 0h3m2 0h1m1 0h2m1 0h2m1 0h3m2 0h13m3 0h1m1 0h13m10 0h1m6 0h1m3 0h27m1 0h2m1 0h2m1 0h1m5 0h1m2 0h1m4 0h1m1 0h1m1 0h3m2 0h2m2 0h2m8 0h1m1 0h2m5 0h3m1 0h4m1 0h2m2 0h5m2 0h1m6 0h2m69 0h2m7 0h1m9 0h2m1 0h1m2 0h2m3 0h1m4 0h2m1 0h3m2 0h3m4 0h5m2 0h1m1 0h2m3 0h1m1 0h2m3 0h1m2 0h2m1 0h1m2 0h1m20 0h2m1 0h1m2 0h4m4 0h1m6 0h1m5 0h1M25 327.5h1m1 0h1m1 0h4m22 0h1m4 0h1m17 0h1m13 0h3m1 0h1m1 0h1m1 0h2m7 0h4m2 0h6m1 0h6m2 0h18m15 0h3m4 0h3m2 0h6m1 0h5m1 0h1m1 0h2m5 0h1m1 0h1m1 0h1m3 0h5m1 0h2m1 0h1m5 0h2m2 0h1m2 0h1m5 0h1m1 0h1m7 0h4m1 0h4m2 0h2m1 0h1m2 0h2m2 0h1m4 0h1m1 0h1m1 0h2m6 0h1m6 0h1m42 0h1m23 0h1m2 0h1m4 0h1m4 0h2m1 0h5m1 0h1m7 0h1m3 0h4m2 0h1m2 0h2m1 0h1m1 0h4m6 0h1m2 0h1m1 0h7m1 0h1m2 0h2m18 0h2M26 328.5h2m1 0h1m2 0h3m8 0h1m5 0h1m23 0h1m3 0h1m10 0h1m3 0h1m2 0h1m1 0h1m1 0h1m4 0h1m3 0h2m2 0h1m3 0h2m1 0h5m1 0h2m4 0h1m1 0h14m13 0h1m2 0h3m5 0h10m1 0h2m1 0h2m1 0h1m1 0h5m1 0h1m4 0h1m1 0h1m1 0h4m1 0h1m1 0h1m3 0h1m3 0h3m1 0h1m5 0h3m1 0h1m1 0h2m3 0h1m1 0h4m2 0h2m2 0h2m1 0h5m1 0h1m1 0h5m1 0h2m6 0h1m1 0h2m1 0h1m59 0h1m6 0h1m1 0h1m2 0h1m6 0h1m5 0h3m1 0h2m4 0h1m2 0h3m1 0h3m1 0h4m1 0h1m3 0h3m2 0h2m1 0h2m1 0h1m1 0h1m2 0h1m2 0h2m1 0h6m21 0h3m1 0h1m17 0h2m2 0h1M22 329.5h1m3 0h1m1 0h3m2 0h1m1 0h1m5 0h1m2 0h2m2 0h3m39 0h1m1 0h1m8 0h2m6 0h1m8 0h6m1 0h1m1 0h11m1 0h6m16 0h1m1 0h1m1 0h1m6 0h10m1 0h2m2 0h5m1 0h2m2 0h1m2 0h1m5 0h4m1 0h5m10 0h4m3 0h3m1 0h1m2 0h2m1 0h1m1 0h2m2 0h1m4 0h1m3 0h3m1 0h4m1 0h1m3 0h4m12 0h1m57 0h1m4 0h1m3 0h1m6 0h2m1 0h2m1 0h5m1 0h1m2 0h1m1 0h1m1 0h2m1 0h2m4 0h7m2 0h1m1 0h1m2 0h1m1 0h4m1 0h3m1 0h3m3 0h2m2 0h1m23 0h2m6 0h1m12 0h1m1 0h1m2 0h2M25 330.5h7m1 0h1m1 0h1m13 0h1m1 0h1m25 0h1m1 0h1m9 0h1m4 0h1m1 0h1m4 0h1m4 0h1m2 0h1m4 0h1m2 0h4m1 0h9m1 0h3m2 0h3m1 0h3m7 0h2m9 0h1m3 0h1m3 0h1m2 0h3m1 0h1m4 0h4m1 0h2m1 0h3m2 0h4m3 0h1m1 0h2m1 0h6m1 0h1m1 0h1m6 0h9m2 0h4m1 0h3m1 0h10m2 0h2m2 0h6m2 0h2m1 0h1m1 0h1m2 0h1m1 0h3m4 0h1m62 0h1m4 0h1m5 0h1m7 0h6m3 0h1m2 0h2m1 0h2m2 0h2m2 0h2m1 0h1m1 0h3m1 0h4m2 0h1m1 0h3m9 0h1m1 0h1m26 0h3m21 0h2M18 331.5h1m2 0h4m1 0h1m2 0h1m3 0h1m12 0h3m1 0h2m3 0h1m33 0h1m3 0h2m5 0h1m2 0h1m7 0h1m3 0h1m2 0h3m1 0h7m2 0h9m1 0h3m1 0h1m6 0h1m7 0h6m5 0h4m1 0h3m2 0h4m2 0h1m1 0h9m1 0h1m2 0h1m3 0h7m2 0h1m4 0h1m1 0h2m1 0h5m1 0h2m2 0h2m1 0h1m1 0h1m1 0h2m2 0h3m2 0h1m4 0h1m2 0h4m2 0h2m1 0h5m1 0h3m2 0h2m1 0h1m14 0h1m34 0h1m2 0h1m6 0h1m2 0h1m2 0h1m1 0h1m12 0h1m2 0h1m6 0h4m4 0h1m1 0h1m4 0h3m1 0h1m1 0h1m1 0h3m3 0h4m1 0h1m1 0h1m11 0h2m7 0h1m18 0h1m25 0h1M18 332.5h4m3 0h1m3 0h2m1 0h1m1 0h3m6 0h1m3 0h2m40 0h1m1 0h1m8 0h1m1 0h1m1 0h1m13 0h2m2 0h6m1 0h1m1 0h5m2 0h3m1 0h1m6 0h2m1 0h2m1 0h1m6 0h3m2 0h1m1 0h4m3 0h4m3 0h4m1 0h9m1 0h2m7 0h4m1 0h2m6 0h9m1 0h13m1 0h1m1 0h1m1 0h2m1 0h3m1 0h3m1 0h6m1 0h1m2 0h11m2 0h1m60 0h2m2 0h2m1 0h1m4 0h1m4 0h1m5 0h3m1 0h7m2 0h1m1 0h1m5 0h1m2 0h6m1 0h3m1 0h6m1 0h1m1 0h1m1 0h1m17 0h1m17 0h1m1 0h1m14 0h1m3 0h1m4 0h2M18 333.5h4m1 0h2m4 0h1m4 0h1m8 0h8m1 0h1m49 0h1m3 0h1m7 0h1m2 0h3m1 0h2m1 0h3m2 0h2m1 0h6m2 0h1m7 0h1m4 0h2m3 0h1m2 0h1m1 0h3m1 0h1m3 0h1m2 0h2m1 0h1m1 0h4m4 0h7m1 0h1m1 0h1m1 0h2m1 0h1m3 0h4m1 0h1m3 0h2m4 0h1m1 0h4m2 0h2m1 0h5m1 0h12m8 0h1m1 0h1m1 0h1m1 0h1m1 0h1m1 0h5m2 0h5m3 0h1m12 0h1m39 0h1m2 0h1m1 0h1m2 0h1m4 0h1m18 0h5m1 0h2m1 0h6m8 0h3m1 0h4m1 0h1m3 0h1m1 0h1m3 0h3m2 0h1m1 0h1m2 0h1m9 0h1m3 0h1m30 0h1m4 0h1m4 0h1M18 334.5h2m1 0h4m9 0h1m1 0h1m11 0h3m46 0h1m2 0h1m2 0h1m1 0h1m2 0h1m7 0h1m1 0h1m1 0h8m2 0h4m2 0h2m1 0h1m8 0h2m2 0h1m5 0h1m1 0h1m1 0h5m1 0h4m1 0h1m2 0h2m1 0h1m2 0h2m2 0h1m1 0h1m1 0h3m2 0h1m1 0h1m1 0h6m1 0h4m3 0h2m1 0h1m4 0h1m1 0h7m1 0h1m2 0h3m1 0h5m1 0h8m5 0h1m2 0h3m1 0h1m1 0h2m1 0h2m1 0h1m1 0h2m1 0h2m2 0h1m2 0h3m9 0h1m8 0h1m28 0h2m1 0h2m3 0h1m1 0h1m1 0h1m6 0h3m4 0h1m7 0h2m1 0h1m1 0h1m1 0h6m5 0h1m5 0h2m1 0h3m1 0h3m1 0h5m3 0h1m1 0h1m6 0h2m10 0h1m1 0h1m34 0h1m4 0h1M18 335.5h2m1 0h2m1 0h1m3 0h1m3 0h4m1 0h1m1 0h1m3 0h1m4 0h4m47 0h1m6 0h1m4 0h1m6 0h1m1 0h1m3 0h6m1 0h2m1 0h2m2 0h1m4 0h1m2 0h7m3 0h1m3 0h1m1 0h2m2 0h3m2 0h1m1 0h2m1 0h1m2 0h2m2 0h1m3 0h2m1 0h1m1 0h3m1 0h2m1 0h7m7 0h2m7 0h1m1 0h1m2 0h5m1 0h4m1 0h12m2 0h4m4 0h5m6 0h1m1 0h2m1 0h3m1 0h1m2 0h1m3 0h1m17 0h1m5 0h1m5 0h1m16 0h1m2 0h2m3 0h2m6 0h1m8 0h2m6 0h15m1 0h1m3 0h1m4 0h2m1 0h3m1 0h1m2 0h4m5 0h1m2 0h1m6 0h1m7 0h2m3 0h1m16 0h1m1 0h1m16 0h2m2 0h2M22 336.5h2m3 0h1m3 0h1m2 0h4m8 0h2m2 0h1m4 0h1m3 0h1m39 0h1m2 0h1m1 0h1m4 0h1m3 0h1m1 0h5m2 0h14m8 0h1m2 0h5m1 0h2m1 0h1m1 0h2m2 0h1m2 0h7m1 0h2m1 0h1m1 0h2m4 0h1m2 0h1m2 0h1m1 0h3m1 0h1m1 0h2m1 0h5m3 0h3m1 0h3m1 0h1m4 0h15m1 0h7m2 0h1m2 0h2m11 0h2m2 0h1m4 0h1m1 0h3m1 0h2m1 0h2m1 0h1m1 0h3m14 0h1m1 0h1m8 0h1m17 0h1m4 0h2m1 0h5m9 0h1m4 0h1m1 0h1m9 0h1m2 0h10m1 0h1m3 0h1m1 0h1m1 0h2m2 0h3m3 0h5m1 0h1m5 0h1m1 0h1m9 0h1m1 0h1m4 0h1m12 0h2m16 0h1m2 0h1m2 0h1m3 0h1M19 337.5h2m2 0h1m4 0h5m1 0h1m1 0h4m6 0h1m3 0h1m1 0h1m1 0h3m45 0h1m6 0h1m2 0h1m2 0h2m1 0h12m1 0h5m3 0h1m3 0h6m2 0h4m1 0h2m1 0h5m1 0h12m2 0h2m1 0h2m1 0h1m3 0h4m1 0h7m1 0h2m3 0h2m2 0h1m6 0h1m2 0h1m1 0h7m1 0h1m1 0h2m1 0h12m1 0h6m8 0h1m4 0h1m6 0h1m1 0h4m2 0h1m1 0h3m12 0h1m2 0h1m3 0h1m19 0h1m9 0h1m1 0h1m2 0h2m1 0h4m4 0h2m3 0h2m2 0h1m11 0h1m1 0h11m4 0h2m1 0h1m1 0h2m2 0h11m2 0h1m2 0h1m11 0h1m3 0h1m7 0h2m3 0h1m1 0h1m6 0h1m2 0h1m9 0h1m4 0h2M24 338.5h1m1 0h1m2 0h4m1 0h5m1 0h1m61 0h1m8 0h1m1 0h1m1 0h4m1 0h2m1 0h3m1 0h9m6 0h3m1 0h2m2 0h5m1 0h2m1 0h6m1 0h1m1 0h7m1 0h2m1 0h7m1 0h1m2 0h3m2 0h1m1 0h2m1 0h2m3 0h1m1 0h4m1 0h1m5 0h4m1 0h7m1 0h16m4 0h3m8 0h1m2 0h1m8 0h1m2 0h11m15 0h1m26 0h1m2 0h1m1 0h12m3 0h2m1 0h2m1 0h1m3 0h3m1 0h1m3 0h1m1 0h1m2 0h1m1 0h1m2 0h3m1 0h2m1 0h1m3 0h1m1 0h1m1 0h2m2 0h2m1 0h8m2 0h3m3 0h1m15 0h1m12 0h1m2 0h1m5 0h1m5 0h1m5 0h1m1 0h1m1 0h1M23 339.5h3m6 0h9m2 0h1m1 0h1m3 0h1m1 0h1m5 0h1m48 0h2m1 0h1m3 0h1m1 0h1m2 0h1m1 0h12m1 0h1m1 0h1m5 0h1m1 0h8m1 0h1m1 0h12m1 0h8m3 0h6m1 0h1m2 0h6m1 0h2m1 0h1m5 0h8m1 0h1m4 0h3m1 0h13m1 0h4m1 0h1m1 0h3m1 0h1m1 0h1m1 0h1m1 0h2m5 0h1m5 0h1m2 0h2m3 0h1m2 0h2m2 0h2m2 0h1m13 0h2m4 0h1m4 0h2m25 0h3m3 0h2m1 0h2m1 0h2m1 0h1m2 0h1m1 0h5m1 0h2m7 0h1m1 0h2m2 0h6m1 0h3m8 0h1m1 0h9m3 0h1m2 0h1m1 0h1m9 0h1m4 0h1m1 0h4m8 0h1m1 0h1m1 0h1m1 0h4m3 0h1m13 0h1m2 0h1M26 340.5h1m3 0h1m2 0h1m3 0h3m1 0h1m13 0h3m39 0h1m4 0h1m6 0h2m3 0h4m5 0h1m2 0h3m1 0h1m1 0h2m1 0h2m3 0h1m1 0h4m1 0h2m1 0h1m1 0h1m2 0h5m1 0h3m1 0h3m2 0h1m1 0h2m1 0h1m1 0h7m1 0h2m2 0h1m1 0h1m1 0h4m6 0h2m1 0h8m1 0h1m4 0h9m1 0h3m2 0h6m2 0h7m1 0h1m2 0h1m1 0h1m2 0h1m1 0h1m3 0h1m9 0h1m4 0h2m1 0h1m6 0h1m16 0h1m1 0h1m1 0h1m18 0h1m2 0h1m2 0h1m1 0h9m3 0h2m1 0h1m4 0h7m7 0h3m1 0h8m1 0h1m1 0h1m4 0h1m3 0h2m1 0h1m1 0h2m1 0h4m5 0h1m15 0h2m1 0h1m11 0h2m3 0h1m1 0h2m2 0h2m1 0h2m1 0h1m9 0h1M28 341.5h1m5 0h1m4 0h5m3 0h1m2 0h1m8 0h1m40 0h1m7 0h11m3 0h2m1 0h2m2 0h3m1 0h2m1 0h11m1 0h7m1 0h4m2 0h3m1 0h6m4 0h8m2 0h2m3 0h1m11 0h4m1 0h1m3 0h1m1 0h1m5 0h5m1 0h2m3 0h4m1 0h12m1 0h2m1 0h1m9 0h1m3 0h1m2 0h1m2 0h1m1 0h1m2 0h5m1 0h1m6 0h1m3 0h1m4 0h1m5 0h1m26 0h3m3 0h10m1 0h1m2 0h2m3 0h5m1 0h3m4 0h2m2 0h2m1 0h11m13 0h3m2 0h1m2 0h2m5 0h1m13 0h1m1 0h3m3 0h1m4 0h2m2 0h2m2 0h1m1 0h3m4 0h1m9 0h2M25 342.5h1m11 0h4m1 0h1m3 0h2m2 0h1m1 0h2m1 0h1m37 0h1m2 0h1m2 0h1m9 0h2m2 0h32m2 0h1m1 0h13m1 0h1m1 0h2m1 0h3m1 0h2m3 0h10m1 0h1m6 0h3m1 0h1m1 0h1m1 0h3m1 0h5m2 0h1m2 0h2m1 0h3m1 0h29m2 0h1m2 0h1m5 0h4m2 0h1m2 0h2m1 0h4m6 0h1m9 0h1m1 0h1m2 0h1m1 0h2m3 0h1m7 0h1m16 0h1m4 0h8m1 0h1m1 0h1m3 0h9m1 0h1m1 0h1m3 0h2m1 0h2m1 0h1m1 0h2m1 0h9m1 0h2m3 0h1m2 0h1m2 0h1m1 0h2m7 0h1m3 0h3m11 0h1m1 0h4m8 0h1m1 0h4m2 0h1m1 0h2m1 0h1m4 0h3m3 0h3m2 0h1m1 0h1M23 343.5h1m5 0h1m5 0h1m4 0h1m1 0h1m9 0h2m42 0h1m1 0h2m2 0h1m6 0h2m3 0h9m1 0h2m2 0h6m1 0h11m3 0h1m2 0h1m1 0h4m1 0h2m2 0h4m2 0h1m1 0h1m3 0h1m1 0h7m1 0h2m6 0h7m1 0h1m2 0h8m2 0h1m2 0h1m1 0h1m3 0h9m2 0h5m1 0h12m1 0h1m16 0h1m3 0h4m6 0h3m2 0h1m8 0h2m26 0h1m1 0h1m4 0h2m1 0h1m3 0h8m1 0h2m1 0h2m2 0h2m1 0h4m1 0h2m5 0h1m1 0h3m2 0h1m1 0h5m5 0h2m1 0h2m3 0h1m1 0h1m1 0h4m9 0h2m1 0h2m6 0h1m3 0h2m1 0h1m5 0h1m6 0h1m2 0h1m4 0h1m1 0h1m1 0h2m5 0h1m1 0h1m2 0h3m1 0h2M26 344.5h1m4 0h1m11 0h1m8 0h1m2 0h1m1 0h1m42 0h1m1 0h1m5 0h43m4 0h8m1 0h1m2 0h2m2 0h4m2 0h7m5 0h2m2 0h3m1 0h3m2 0h1m4 0h3m1 0h1m1 0h1m1 0h2m1 0h1m2 0h7m1 0h2m3 0h1m1 0h1m1 0h13m1 0h2m9 0h8m7 0h1m4 0h3m2 0h1m4 0h1m2 0h1m1 0h1m2 0h1m1 0h1m14 0h1m19 0h1m1 0h1m1 0h3m1 0h3m1 0h1m2 0h1m5 0h2m1 0h1m2 0h1m3 0h1m1 0h14m1 0h1m5 0h5m2 0h2m1 0h1m1 0h2m4 0h1m4 0h3m1 0h2m1 0h1m4 0h1m3 0h3m2 0h1m5 0h1m4 0h1m1 0h1m2 0h1m1 0h1m3 0h1m9 0h1m3 0h2m1 0h1M24 345.5h2m2 0h1m5 0h1m11 0h1m11 0h1m42 0h2m2 0h1m2 0h15m1 0h2m1 0h1m1 0h2m1 0h10m1 0h1m1 0h3m1 0h4m3 0h2m2 0h1m2 0h2m2 0h1m5 0h7m5 0h1m7 0h1m1 0h5m2 0h1m1 0h5m2 0h2m1 0h4m3 0h1m1 0h3m2 0h4m2 0h2m1 0h2m1 0h2m1 0h5m1 0h1m1 0h1m9 0h1m1 0h1m3 0h1m1 0h1m3 0h1m6 0h3m1 0h1m10 0h1m1 0h1m1 0h1m1 0h2m1 0h1m5 0h2m9 0h1m10 0h1m2 0h1m6 0h1m1 0h1m1 0h1m3 0h1m1 0h1m1 0h1m1 0h1m6 0h2m6 0h6m1 0h1m1 0h3m1 0h1m1 0h1m1 0h2m1 0h5m1 0h1m2 0h2m1 0h3m1 0h1m5 0h1m1 0h1m1 0h4m1 0h2m9 0h1m1 0h1m11 0h1m1 0h1m3 0h1m3 0h1m6 0h1m1 0h3m3 0h1M31 346.5h1m1 0h1m1 0h1m3 0h1m1 0h1m3 0h1m3 0h1m4 0h1m4 0h3m36 0h1m1 0h1m4 0h1m4 0h2m1 0h10m1 0h3m1 0h1m1 0h2m1 0h8m1 0h3m5 0h2m3 0h2m1 0h1m1 0h2m1 0h2m1 0h3m2 0h5m6 0h5m3 0h2m3 0h7m1 0h2m1 0h1m5 0h1m3 0h2m7 0h1m1 0h2m2 0h1m2 0h14m8 0h1m1 0h2m2 0h3m1 0h1m2 0h1m7 0h1m1 0h1m1 0h2m3 0h1m2 0h3m1 0h4m1 0h1m2 0h2m6 0h1m21 0h1m10 0h2m1 0h7m4 0h1m4 0h1m1 0h2m3 0h1m2 0h9m2 0h1m1 0h2m1 0h3m5 0h1m1 0h4m1 0h3m1 0h1m7 0h6m1 0h4m2 0h2m3 0h2m1 0h1m11 0h1m1 0h1m4 0h3m1 0h1m2 0h3m3 0h1m4 0h4M22 347.5h1m1 0h1m7 0h1m1 0h1m3 0h1m2 0h1m5 0h4m1 0h1m5 0h1m3 0h1m41 0h1m2 0h3m2 0h3m1 0h11m1 0h1m1 0h12m2 0h4m1 0h4m1 0h1m2 0h1m4 0h2m1 0h1m1 0h2m1 0h3m6 0h1m2 0h1m3 0h1m3 0h3m2 0h4m1 0h7m2 0h1m1 0h5m5 0h1m2 0h1m1 0h3m2 0h1m2 0h10m2 0h1m6 0h1m1 0h2m2 0h6m2 0h3m6 0h2m1 0h1m1 0h1m4 0h1m2 0h1m2 0h3m1 0h1m1 0h1m1 0h1m9 0h1m14 0h1m4 0h1m12 0h6m1 0h1m2 0h2m8 0h1m1 0h2m2 0h1m1 0h1m1 0h4m2 0h1m2 0h5m4 0h3m1 0h2m1 0h4m1 0h1m1 0h2m6 0h1m1 0h1m1 0h2m7 0h1m5 0h4m12 0h3m2 0h2m1 0h1m5 0h1m6 0h2m1 0h1m2 0h1M24 348.5h1m4 0h1m3 0h1m1 0h2m6 0h1m5 0h1m1 0h1m1 0h5m4 0h1m37 0h1m1 0h1m2 0h1m3 0h2m3 0h1m2 0h2m1 0h4m1 0h1m1 0h2m1 0h2m1 0h10m2 0h1m2 0h1m1 0h4m1 0h1m1 0h1m1 0h1m1 0h1m2 0h3m9 0h12m1 0h6m1 0h1m1 0h5m1 0h1m1 0h3m2 0h1m2 0h3m7 0h3m1 0h1m2 0h1m2 0h6m1 0h1m10 0h4m1 0h1m1 0h8m7 0h1m1 0h1m9 0h1m4 0h1m1 0h2m1 0h2m1 0h1m1 0h1m1 0h1m3 0h1m18 0h1m5 0h1m6 0h1m2 0h1m2 0h4m1 0h1m1 0h1m10 0h2m2 0h1m3 0h1m1 0h1m1 0h3m3 0h7m6 0h1m2 0h2m3 0h1m6 0h2m1 0h2m2 0h2m1 0h1m1 0h1m2 0h2m1 0h1m5 0h2m4 0h1m3 0h1m5 0h1m1 0h1m3 0h1m7 0h1m1 0h1m3 0h1m3 0h1M18 349.5h4m9 0h9m5 0h3m7 0h1m2 0h1m41 0h1m3 0h1m2 0h3m1 0h1m3 0h1m4 0h3m2 0h1m1 0h2m2 0h6m2 0h1m1 0h1m2 0h1m2 0h1m1 0h2m1 0h1m7 0h1m3 0h2m9 0h1m1 0h8m4 0h2m1 0h1m1 0h1m1 0h1m1 0h5m1 0h4m3 0h7m1 0h2m4 0h2m2 0h3m2 0h1m1 0h1m6 0h5m1 0h2m3 0h7m2 0h2m8 0h2m1 0h1m3 0h1m5 0h2m1 0h2m1 0h2m1 0h1m2 0h1m1 0h3m1 0h2m25 0h1m2 0h2m7 0h1m1 0h3m1 0h2m3 0h1m1 0h1m9 0h2m2 0h3m1 0h1m1 0h2m1 0h1m2 0h6m1 0h2m1 0h2m3 0h3m3 0h1m1 0h1m1 0h1m1 0h1m2 0h1m1 0h1m4 0h2m3 0h1m4 0h2m2 0h6m2 0h2m8 0h1m4 0h2m2 0h1m1 0h1m2 0h1m2 0h3m1 0h1m1 0h2M18 350.5h1m4 0h1m4 0h1m2 0h8m1 0h1m1 0h2m1 0h2m2 0h2m1 0h3m44 0h3m1 0h2m3 0h1m1 0h1m6 0h3m1 0h5m1 0h1m2 0h2m1 0h7m8 0h1m3 0h2m11 0h2m2 0h1m1 0h1m1 0h1m1 0h1m2 0h2m1 0h6m2 0h1m2 0h2m1 0h3m1 0h2m1 0h2m1 0h2m1 0h2m1 0h2m1 0h1m1 0h1m1 0h1m3 0h1m2 0h1m7 0h2m4 0h4m1 0h5m3 0h9m5 0h1m3 0h1m4 0h1m2 0h1m10 0h1m1 0h4m3 0h1m1 0h1m5 0h1m20 0h1m7 0h1m1 0h4m4 0h6m12 0h1m1 0h1m2 0h1m3 0h8m3 0h6m5 0h4m3 0h1m7 0h2m7 0h1m1 0h1m1 0h2m1 0h1m1 0h4m3 0h1m2 0h1m13 0h1m7 0h1m1 0h1m2 0h2m4 0h6M19 351.5h1m1 0h2m1 0h1m3 0h1m2 0h10m1 0h1m3 0h2m38 0h1m10 0h2m3 0h2m8 0h2m1 0h1m3 0h1m2 0h2m1 0h2m5 0h1m1 0h2m1 0h2m1 0h1m5 0h1m5 0h2m4 0h1m6 0h3m1 0h1m1 0h1m1 0h4m1 0h6m3 0h2m2 0h5m2 0h1m1 0h3m1 0h3m1 0h1m2 0h4m1 0h1m6 0h1m2 0h1m2 0h1m3 0h1m1 0h1m1 0h2m1 0h9m1 0h1m1 0h1m2 0h8m4 0h2m3 0h2m14 0h3m2 0h1m6 0h1m1 0h1m5 0h1m20 0h1m7 0h1m6 0h6m1 0h2m3 0h1m6 0h2m5 0h2m1 0h6m1 0h1m3 0h1m1 0h4m1 0h1m1 0h1m2 0h1m4 0h1m2 0h2m2 0h2m6 0h1m3 0h1m2 0h1m3 0h1m1 0h1m1 0h1m20 0h1m1 0h1m3 0h3m1 0h5m4 0h5M20 352.5h2m4 0h1m1 0h1m3 0h11m2 0h1m1 0h2m1 0h2m1 0h3m1 0h2m40 0h1m2 0h1m4 0h3m3 0h1m4 0h2m1 0h2m1 0h3m5 0h6m1 0h2m1 0h1m1 0h3m1 0h2m2 0h1m2 0h1m1 0h2m6 0h2m5 0h4m4 0h1m1 0h3m2 0h5m2 0h1m1 0h1m1 0h1m1 0h5m4 0h7m6 0h1m1 0h1m1 0h5m1 0h4m1 0h3m1 0h4m1 0h2m1 0h5m2 0h6m4 0h2m4 0h3m11 0h1m2 0h5m5 0h1m5 0h1m1 0h3m1 0h1m13 0h1m5 0h1m9 0h1m1 0h2m1 0h4m2 0h1m2 0h2m1 0h1m3 0h2m3 0h1m1 0h2m1 0h3m1 0h6m3 0h1m1 0h3m3 0h1m1 0h2m2 0h2m2 0h2m3 0h1m2 0h1m8 0h1m3 0h2m1 0h2m1 0h1m1 0h1m4 0h2m4 0h1m19 0h3m2 0h8M18 353.5h2m2 0h1m4 0h9m1 0h2m1 0h1m1 0h4m5 0h1m1 0h1m2 0h1m32 0h1m11 0h1m6 0h2m5 0h1m1 0h2m1 0h2m2 0h1m1 0h1m2 0h1m1 0h2m1 0h5m2 0h1m2 0h2m2 0h1m1 0h1m1 0h1m2 0h1m8 0h1m4 0h1m2 0h3m1 0h2m1 0h1m2 0h1m4 0h8m1 0h2m1 0h1m2 0h10m1 0h3m1 0h4m3 0h1m1 0h10m1 0h4m1 0h2m1 0h2m1 0h2m4 0h1m2 0h4m10 0h1m14 0h3m1 0h4m2 0h2m7 0h1m1 0h1m1 0h1m1 0h1m4 0h1m4 0h1m3 0h4m2 0h1m12 0h9m1 0h1m4 0h1m7 0h1m3 0h1m3 0h3m1 0h2m4 0h1m1 0h2m1 0h4m3 0h2m1 0h2m9 0h1m3 0h2m3 0h6m1 0h1m1 0h4m4 0h1m16 0h1m6 0h1m1 0h11m1 0h1M18 354.5h1m2 0h1m1 0h1m1 0h1m3 0h3m1 0h6m5 0h3m1 0h1m2 0h1m1 0h3m42 0h1m4 0h1m1 0h1m1 0h2m3 0h1m1 0h4m1 0h2m2 0h1m2 0h2m4 0h1m1 0h1m1 0h3m3 0h3m1 0h1m1 0h2m1 0h3m6 0h5m1 0h2m2 0h1m3 0h2m3 0h4m1 0h1m5 0h15m1 0h3m1 0h1m2 0h2m3 0h9m1 0h16m1 0h4m3 0h1m1 0h1m1 0h2m1 0h1m6 0h1m2 0h1m1 0h1m14 0h1m1 0h7m2 0h1m6 0h5m1 0h1m4 0h1m3 0h1m3 0h1m1 0h2m1 0h1m6 0h1m8 0h3m1 0h1m1 0h4m2 0h1m1 0h1m3 0h1m1 0h1m1 0h3m1 0h2m1 0h1m2 0h5m5 0h6m1 0h1m6 0h1m2 0h1m1 0h1m13 0h2m1 0h1m2 0h1m1 0h2m1 0h1m1 0h2m7 0h1m6 0h1m13 0h1m3 0h7m1 0h2M18 355.5h1m5 0h2m1 0h3m1 0h2m1 0h1m1 0h2m2 0h1m1 0h3m2 0h1m1 0h1m2 0h1m41 0h1m2 0h1m2 0h2m2 0h1m1 0h1m1 0h3m1 0h2m1 0h5m6 0h1m1 0h1m1 0h3m1 0h6m3 0h1m1 0h4m7 0h1m2 0h5m1 0h1m2 0h3m3 0h1m1 0h2m3 0h1m1 0h1m1 0h1m1 0h1m2 0h3m3 0h1m1 0h4m3 0h2m1 0h1m2 0h1m1 0h1m1 0h1m1 0h4m2 0h14m1 0h7m6 0h5m1 0h3m2 0h1m7 0h2m1 0h1m1 0h1m9 0h1m1 0h8m3 0h1m6 0h1m6 0h1m5 0h1m1 0h1m6 0h1m1 0h1m5 0h1m6 0h3m1 0h4m1 0h3m1 0h2m10 0h2m3 0h1m4 0h1m2 0h1m1 0h1m1 0h1m1 0h5m1 0h1m2 0h1m1 0h2m5 0h2m1 0h1m4 0h3m11 0h3m1 0h5m2 0h1m2 0h1m4 0h6m12 0h4m1 0h8M18 356.5h3m1 0h5m1 0h5m1 0h2m3 0h1m1 0h2m2 0h3m4 0h1m2 0h1m38 0h1m4 0h1m2 0h1m2 0h2m5 0h2m12 0h2m2 0h1m3 0h2m1 0h4m4 0h1m1 0h2m4 0h6m1 0h8m1 0h2m1 0h3m1 0h2m6 0h1m2 0h2m3 0h1m1 0h7m4 0h1m2 0h2m4 0h2m2 0h3m4 0h2m1 0h2m1 0h1m1 0h8m2 0h4m8 0h4m3 0h1m5 0h1m4 0h2m5 0h1m8 0h1m1 0h1m2 0h2m11 0h1m1 0h1m2 0h1m1 0h1m4 0h1m4 0h2m2 0h1m7 0h2m1 0h1m3 0h3m1 0h2m2 0h1m6 0h1m3 0h1m4 0h2m1 0h1m2 0h1m2 0h1m3 0h1m2 0h1m1 0h2m1 0h4m2 0h3m2 0h1m1 0h4m13 0h3m3 0h2m2 0h2m2 0h3m9 0h1m4 0h2m7 0h1m1 0h1m2 0h2m1 0h2m1 0h1m1 0h5M18 357.5h2m2 0h1m1 0h4m1 0h8m2 0h2m1 0h2m1 0h1m2 0h1m2 0h1m45 0h1m1 0h1m4 0h2m2 0h2m10 0h2m4 0h2m3 0h1m2 0h5m1 0h4m1 0h1m5 0h3m1 0h2m1 0h1m1 0h2m1 0h5m1 0h2m1 0h1m1 0h3m1 0h2m2 0h1m3 0h1m8 0h2m1 0h4m1 0h2m5 0h1m2 0h10m5 0h8m1 0h9m1 0h1m6 0h2m1 0h1m3 0h2m2 0h3m1 0h1m15 0h3m1 0h1m2 0h1m1 0h2m10 0h1m8 0h1m1 0h2m2 0h2m2 0h2m3 0h1m1 0h1m2 0h1m1 0h1m5 0h7m8 0h1m8 0h1m7 0h1m5 0h3m2 0h1m1 0h5m2 0h6m4 0h1m4 0h2m8 0h3m1 0h4m1 0h7m2 0h1m2 0h2m6 0h1m1 0h1m9 0h6m1 0h2m1 0h1m1 0h3M18 358.5h9m2 0h7m1 0h1m1 0h3m1 0h2m10 0h1m35 0h1m1 0h1m1 0h2m2 0h2m4 0h5m10 0h1m9 0h1m1 0h7m2 0h2m2 0h2m1 0h1m1 0h3m2 0h3m2 0h1m2 0h2m1 0h2m1 0h2m1 0h4m1 0h1m4 0h1m2 0h2m4 0h1m4 0h5m2 0h3m4 0h2m1 0h4m3 0h1m3 0h2m3 0h8m1 0h2m1 0h6m1 0h1m3 0h2m1 0h2m4 0h2m2 0h2m2 0h2m1 0h1m8 0h1m3 0h2m1 0h2m1 0h2m2 0h1m3 0h1m2 0h1m2 0h1m1 0h1m2 0h3m2 0h3m2 0h3m5 0h1m4 0h3m1 0h3m1 0h2m2 0h3m1 0h2m1 0h1m5 0h1m2 0h1m2 0h1m7 0h2m6 0h1m4 0h2m1 0h1m1 0h6m1 0h3m1 0h2m1 0h2m5 0h1m2 0h1m1 0h1m4 0h13m1 0h1m2 0h3m2 0h1m2 0h1m1 0h1m3 0h1m4 0h2m3 0h3m1 0h2m1 0h7M18 359.5h7m1 0h2m4 0h1m1 0h3m2 0h2m3 0h1m56 0h1m4 0h1m19 0h3m4 0h1m2 0h5m7 0h5m1 0h3m1 0h2m1 0h1m4 0h7m1 0h1m1 0h2m1 0h4m3 0h1m4 0h1m1 0h9m3 0h1m2 0h1m2 0h1m1 0h6m2 0h3m1 0h12m1 0h8m1 0h1m1 0h1m2 0h1m1 0h5m1 0h2m4 0h2m1 0h1m4 0h1m5 0h3m2 0h1m1 0h1m1 0h4m1 0h1m4 0h1m1 0h1m3 0h2m1 0h2m3 0h1m4 0h2m3 0h1m8 0h3m3 0h2m1 0h2m1 0h2m1 0h3m1 0h1m1 0h1m6 0h2m1 0h4m1 0h2m1 0h2m7 0h3m3 0h1m3 0h8m1 0h1m4 0h1m5 0h1m1 0h1m7 0h1m2 0h1m1 0h4m2 0h5m3 0h2m6 0h1m2 0h1m2 0h2m3 0h1m1 0h1m2 0h2m1 0h2m5 0h3M18 360.5h9m1 0h1m1 0h1m1 0h2m1 0h1m1 0h4m2 0h3m2 0h1m5 0h1m3 0h2m33 0h1m2 0h1m7 0h5m3 0h2m8 0h1m1 0h3m1 0h1m7 0h2m6 0h7m2 0h6m5 0h1m3 0h10m1 0h1m1 0h1m3 0h2m5 0h7m1 0h1m2 0h1m3 0h1m2 0h1m1 0h3m1 0h2m4 0h1m1 0h11m3 0h2m1 0h1m1 0h2m2 0h1m8 0h3m2 0h2m2 0h1m1 0h7m1 0h2m3 0h2m2 0h10m2 0h4m3 0h2m8 0h1m2 0h1m6 0h1m2 0h2m3 0h7m2 0h1m2 0h5m1 0h1m1 0h4m1 0h4m1 0h5m1 0h3m2 0h1m4 0h1m1 0h2m2 0h1m3 0h14m3 0h1m1 0h1m2 0h3m1 0h1m1 0h1m5 0h1m1 0h2m1 0h6m1 0h2m7 0h4m1 0h2m2 0h1m1 0h2m5 0h2m4 0h1m2 0h2m4 0h1M18 361.5h1m1 0h4m1 0h3m2 0h3m4 0h5m1 0h3m48 0h1m2 0h1m1 0h2m1 0h1m3 0h1m14 0h1m3 0h3m1 0h4m3 0h1m3 0h1m1 0h1m3 0h2m1 0h3m2 0h1m1 0h1m2 0h1m1 0h1m6 0h3m2 0h1m1 0h5m1 0h1m5 0h1m3 0h3m1 0h4m6 0h1m2 0h1m3 0h1m1 0h2m1 0h2m1 0h1m1 0h1m1 0h13m1 0h5m1 0h1m2 0h1m2 0h1m3 0h2m2 0h1m1 0h3m2 0h2m1 0h8m2 0h1m2 0h1m1 0h5m1 0h11m2 0h1m1 0h6m1 0h3m1 0h2m1 0h1m4 0h1m1 0h1m1 0h1m3 0h1m1 0h4m5 0h8m4 0h1m1 0h3m1 0h9m4 0h1m1 0h1m1 0h1m2 0h1m1 0h1m2 0h2m1 0h2m1 0h6m2 0h5m6 0h1m1 0h1m5 0h1m4 0h11m1 0h2m5 0h5m1 0h1m5 0h2m4 0h1m4 0h1m4 0h3m2 0h1M18 362.5h1m2 0h2m1 0h3m3 0h1m2 0h1m1 0h2m1 0h2m1 0h8m6 0h1m35 0h1m1 0h1m4 0h1m18 0h1m4 0h5m2 0h1m1 0h1m3 0h1m2 0h2m3 0h1m1 0h5m2 0h3m1 0h2m2 0h2m1 0h1m1 0h2m2 0h2m1 0h13m5 0h1m1 0h1m2 0h5m1 0h1m1 0h1m4 0h1m2 0h2m3 0h1m1 0h5m1 0h12m1 0h1m1 0h2m1 0h2m3 0h2m2 0h2m1 0h1m2 0h1m1 0h4m4 0h6m9 0h7m1 0h13m5 0h2m1 0h4m1 0h4m2 0h2m6 0h1m2 0h1m1 0h1m1 0h1m4 0h1m1 0h4m1 0h2m1 0h1m1 0h2m1 0h15m4 0h1m2 0h1m7 0h2m1 0h10m1 0h1m1 0h2m2 0h6m3 0h1m6 0h4m1 0h3m1 0h2m2 0h1m5 0h7m1 0h3m1 0h1m4 0h1m7 0h1m4 0h1m1 0h1M18 363.5h1m1 0h1m2 0h1m4 0h1m5 0h4m1 0h3m1 0h4m1 0h1m43 0h1m1 0h1m3 0h3m3 0h1m4 0h1m5 0h1m6 0h1m1 0h1m1 0h2m3 0h1m4 0h1m1 0h1m2 0h1m4 0h1m2 0h1m1 0h1m1 0h2m2 0h6m3 0h1m1 0h2m1 0h3m1 0h11m6 0h9m5 0h15m1 0h10m1 0h7m1 0h1m2 0h3m1 0h5m1 0h2m1 0h2m1 0h1m4 0h10m4 0h1m2 0h1m2 0h1m1 0h2m2 0h10m1 0h1m2 0h1m1 0h1m1 0h2m1 0h3m1 0h3m3 0h1m7 0h1m2 0h1m1 0h2m1 0h1m6 0h2m3 0h1m1 0h5m1 0h1m1 0h1m2 0h4m1 0h6m3 0h1m1 0h1m1 0h1m1 0h2m1 0h1m1 0h15m1 0h2m1 0h5m8 0h1m2 0h5m2 0h2m2 0h2m8 0h4m8 0h1m2 0h7m2 0h2m1 0h2M18 364.5h3m9 0h1m3 0h1m1 0h1m1 0h4m1 0h3m2 0h2m4 0h1m38 0h1m5 0h3m9 0h1m8 0h1m1 0h3m7 0h7m1 0h1m3 0h1m3 0h1m1 0h2m2 0h1m2 0h4m2 0h1m1 0h5m2 0h2m1 0h5m1 0h5m3 0h1m3 0h1m1 0h9m3 0h1m1 0h2m1 0h2m1 0h2m5 0h3m1 0h2m1 0h7m1 0h3m1 0h3m1 0h16m4 0h1m1 0h1m2 0h1m1 0h2m2 0h1m1 0h1m4 0h3m2 0h12m4 0h1m3 0h2m1 0h1m2 0h8m2 0h3m6 0h2m9 0h4m1 0h1m3 0h2m3 0h7m1 0h6m1 0h6m1 0h4m3 0h1m1 0h7m3 0h2m1 0h3m1 0h1m1 0h1m5 0h1m1 0h1m4 0h1m2 0h6m1 0h1m1 0h1m2 0h1m4 0h1m1 0h2m1 0h2m1 0h1m5 0h1m8 0h1m1 0h5M18 365.5h3m6 0h2m1 0h15m2 0h1m2 0h1m1 0h1m35 0h2m7 0h1m2 0h1m3 0h1m1 0h1m3 0h2m2 0h1m3 0h1m8 0h1m1 0h3m1 0h4m4 0h1m1 0h1m3 0h2m1 0h3m1 0h1m1 0h2m2 0h2m1 0h1m2 0h15m4 0h1m1 0h1m3 0h1m1 0h1m1 0h13m1 0h3m2 0h1m2 0h2m2 0h7m1 0h1m1 0h4m1 0h23m1 0h2m2 0h2m1 0h2m1 0h4m1 0h1m1 0h2m6 0h1m1 0h12m4 0h2m3 0h4m1 0h2m1 0h1m1 0h1m4 0h2m1 0h1m13 0h1m2 0h1m1 0h1m3 0h2m2 0h1m1 0h1m5 0h5m1 0h1m1 0h2m1 0h5m1 0h1m1 0h3m2 0h16m1 0h5m1 0h1m1 0h1m3 0h1m5 0h1m2 0h1m1 0h5m3 0h4m4 0h3m1 0h2m15 0h2m2 0h5m4 0h1M18 366.5h5m5 0h1m1 0h1m3 0h1m2 0h4m2 0h4m2 0h1m6 0h1m38 0h4m1 0h1m1 0h1m4 0h1m1 0h2m5 0h1m5 0h1m1 0h12m3 0h4m2 0h2m3 0h5m4 0h3m1 0h2m3 0h15m1 0h2m2 0h2m3 0h19m1 0h5m1 0h8m2 0h4m4 0h11m1 0h3m1 0h8m3 0h7m1 0h1m1 0h1m2 0h1m1 0h1m2 0h3m1 0h12m1 0h2m5 0h1m2 0h3m1 0h4m6 0h2m2 0h1m2 0h1m2 0h1m1 0h1m2 0h1m7 0h3m2 0h1m1 0h1m5 0h7m2 0h1m3 0h3m1 0h2m2 0h2m1 0h13m4 0h8m2 0h3m6 0h11m5 0h1m1 0h1m1 0h1m3 0h5m1 0h1m18 0h2m1 0h1M18 367.5h1m1 0h3m9 0h1m3 0h1m3 0h1m1 0h1m1 0h1m1 0h1m1 0h2m1 0h4m38 0h2m1 0h1m15 0h1m11 0h1m1 0h7m2 0h1m3 0h3m6 0h2m1 0h6m3 0h1m1 0h2m5 0h7m1 0h1m1 0h5m1 0h2m5 0h1m1 0h22m2 0h1m1 0h23m1 0h11m1 0h1m4 0h1m2 0h7m1 0h7m1 0h2m1 0h4m2 0h7m1 0h2m2 0h1m3 0h1m3 0h3m1 0h4m1 0h2m3 0h1m7 0h1m4 0h1m1 0h1m6 0h1m1 0h1m1 0h1m2 0h1m1 0h1m4 0h2m2 0h1m2 0h1m2 0h2m1 0h1m1 0h1m4 0h1m2 0h16m3 0h3m1 0h8m6 0h2m1 0h1m1 0h2m1 0h5m1 0h1m2 0h2m2 0h2m1 0h4m2 0h1m6 0h1m1 0h4m1 0h1m1 0h1m1 0h3m1 0h1m2 0h1M18 368.5h3m1 0h1m7 0h3m3 0h2m5 0h2m1 0h2m1 0h1m1 0h1m44 0h1m4 0h2m9 0h1m1 0h1m6 0h3m1 0h2m4 0h1m1 0h2m6 0h2m2 0h1m1 0h1m2 0h10m1 0h2m1 0h1m1 0h2m1 0h12m1 0h1m2 0h4m1 0h1m1 0h15m1 0h2m3 0h3m1 0h8m2 0h3m1 0h2m1 0h7m1 0h2m1 0h4m4 0h3m8 0h3m1 0h1m1 0h1m1 0h2m1 0h5m1 0h1m1 0h1m1 0h14m2 0h1m4 0h2m1 0h6m1 0h2m2 0h1m3 0h2m2 0h2m3 0h1m1 0h2m4 0h1m4 0h5m1 0h1m1 0h4m1 0h1m2 0h3m1 0h1m2 0h1m2 0h1m5 0h3m1 0h5m1 0h10m1 0h8m3 0h1m2 0h2m7 0h8m1 0h1m3 0h1m1 0h5m1 0h4m6 0h2m2 0h2m1 0h4m3 0h2M18 369.5h2m2 0h1m9 0h2m5 0h1m2 0h1m1 0h1m4 0h2m1 0h1m1 0h1m40 0h1m14 0h1m2 0h2m7 0h2m1 0h2m1 0h1m1 0h1m1 0h1m9 0h3m2 0h1m1 0h1m1 0h10m1 0h1m1 0h3m1 0h11m3 0h3m4 0h2m2 0h24m1 0h10m1 0h1m1 0h1m3 0h4m2 0h4m3 0h7m4 0h3m3 0h8m1 0h7m1 0h2m1 0h1m2 0h1m1 0h6m1 0h1m3 0h2m3 0h2m1 0h2m2 0h2m1 0h4m2 0h1m1 0h2m1 0h1m4 0h1m2 0h1m9 0h2m1 0h2m2 0h1m7 0h3m1 0h1m4 0h1m1 0h1m1 0h1m4 0h1m1 0h2m1 0h2m1 0h5m1 0h5m1 0h1m3 0h4m1 0h1m2 0h1m1 0h1m9 0h6m3 0h1m4 0h1m1 0h5m1 0h2m1 0h1m1 0h1m1 0h2m1 0h1m5 0h4m2 0h3m5 0h1M18 370.5h4m3 0h2m4 0h2m1 0h1m2 0h2m2 0h1m1 0h1m2 0h1m7 0h1m38 0h1m5 0h1m11 0h2m1 0h3m1 0h2m1 0h2m1 0h1m1 0h1m10 0h4m1 0h3m1 0h3m2 0h7m1 0h3m1 0h1m1 0h13m2 0h1m1 0h3m2 0h1m1 0h22m1 0h2m1 0h3m1 0h9m1 0h1m3 0h3m5 0h1m1 0h2m1 0h6m1 0h1m5 0h2m3 0h2m1 0h16m1 0h1m2 0h1m2 0h1m1 0h3m1 0h2m1 0h2m3 0h11m1 0h1m1 0h1m1 0h2m2 0h1m1 0h1m1 0h2m6 0h1m8 0h7m7 0h7m1 0h2m2 0h2m1 0h1m5 0h8m1 0h7m3 0h2m1 0h3m3 0h1m1 0h1m5 0h1m2 0h2m3 0h4m2 0h1m3 0h1m1 0h2m1 0h1m1 0h4m3 0h1m5 0h2m2 0h1m2 0h1m2 0h1m3 0h2m4 0h2M18 371.5h6m10 0h2m4 0h2m2 0h1m4 0h2m53 0h1m3 0h1m1 0h1m1 0h3m8 0h1m10 0h1m5 0h2m1 0h2m1 0h2m3 0h5m1 0h3m2 0h2m1 0h18m4 0h1m1 0h2m1 0h9m1 0h1m1 0h4m1 0h1m1 0h2m1 0h4m2 0h2m3 0h5m4 0h1m3 0h1m1 0h11m1 0h5m7 0h1m1 0h2m1 0h6m1 0h7m1 0h1m2 0h1m5 0h6m2 0h5m3 0h8m1 0h2m2 0h1m2 0h3m2 0h2m1 0h2m7 0h1m2 0h6m1 0h1m5 0h1m2 0h2m2 0h1m1 0h3m1 0h2m1 0h1m3 0h6m2 0h1m2 0h3m1 0h3m2 0h3m2 0h1m1 0h1m3 0h1m3 0h1m1 0h1m4 0h3m1 0h5m2 0h1m1 0h1m2 0h2m2 0h1m1 0h5m4 0h2m1 0h1m3 0h1m1 0h1m1 0h1m2 0h3m6 0h2M18 372.5h2m2 0h1m8 0h1m2 0h3m3 0h1m4 0h1m59 0h1m5 0h1m2 0h1m7 0h1m2 0h1m4 0h1m6 0h24m3 0h2m1 0h14m1 0h3m2 0h21m1 0h1m4 0h1m1 0h3m2 0h1m1 0h1m1 0h5m11 0h15m3 0h1m5 0h1m2 0h14m1 0h2m6 0h8m1 0h3m2 0h4m1 0h1m1 0h5m3 0h1m3 0h3m2 0h3m3 0h1m1 0h1m5 0h1m1 0h8m8 0h3m1 0h1m2 0h4m1 0h1m4 0h1m2 0h2m1 0h1m1 0h10m2 0h1m2 0h4m5 0h2m2 0h1m1 0h1m2 0h1m1 0h2m1 0h9m1 0h1m3 0h1m1 0h7m2 0h2m2 0h2m3 0h6m2 0h3m5 0h2M18 373.5h1m1 0h3m9 0h1m5 0h1m2 0h1m27 0h1m22 0h1m9 0h2m4 0h1m2 0h2m2 0h1m1 0h1m9 0h1m2 0h1m1 0h2m5 0h4m1 0h2m1 0h2m1 0h3m1 0h8m1 0h3m1 0h14m3 0h3m1 0h12m1 0h5m1 0h2m5 0h5m2 0h1m2 0h1m3 0h1m5 0h1m6 0h3m1 0h3m2 0h5m1 0h1m8 0h1m1 0h5m1 0h11m1 0h2m3 0h5m1 0h3m2 0h1m1 0h6m1 0h7m1 0h14m2 0h2m1 0h1m3 0h2m2 0h3m2 0h1m15 0h5m1 0h1m2 0h1m5 0h1m1 0h2m2 0h2m1 0h4m1 0h3m1 0h1m2 0h1m1 0h1m1 0h3m2 0h2m11 0h7m1 0h1m1 0h2m1 0h1m2 0h10m3 0h1m1 0h3m2 0h4m1 0h3m2 0h1m2 0h2M20 374.5h1m1 0h1m12 0h1m5 0h3m41 0h1m1 0h1m7 0h1m5 0h3m1 0h1m3 0h2m2 0h1m2 0h1m6 0h1m6 0h1m2 0h1m1 0h1m5 0h3m2 0h2m3 0h1m1 0h3m1 0h2m1 0h1m1 0h19m1 0h1m4 0h8m1 0h1m2 0h5m1 0h1m5 0h1m2 0h1m1 0h1m2 0h3m3 0h6m6 0h2m2 0h3m2 0h2m2 0h7m1 0h1m5 0h1m2 0h16m2 0h2m1 0h2m1 0h2m2 0h2m1 0h2m3 0h3m1 0h1m1 0h2m1 0h6m2 0h1m3 0h1m1 0h1m1 0h1m1 0h2m3 0h1m10 0h3m1 0h1m1 0h1m14 0h3m3 0h1m3 0h1m2 0h1m1 0h1m4 0h2m3 0h4m1 0h1m1 0h1m2 0h1m1 0h1m2 0h2m1 0h1m2 0h1m1 0h3m1 0h2m4 0h11m1 0h8m1 0h5m2 0h1m6 0h3m3 0h2m2 0h4M20 375.5h2m5 0h1m1 0h1m5 0h1m2 0h1m8 0h1m42 0h1m4 0h1m10 0h1m11 0h1m7 0h1m1 0h1m8 0h2m2 0h1m1 0h3m3 0h1m1 0h1m3 0h4m1 0h2m2 0h5m1 0h10m3 0h1m2 0h10m1 0h1m2 0h5m8 0h1m2 0h1m3 0h3m3 0h1m1 0h1m1 0h1m3 0h1m1 0h1m4 0h5m1 0h3m2 0h3m2 0h3m4 0h1m2 0h1m1 0h13m1 0h1m1 0h1m1 0h2m2 0h3m3 0h3m1 0h1m2 0h1m1 0h2m1 0h4m2 0h1m7 0h1m3 0h1m1 0h1m1 0h1m2 0h1m6 0h4m2 0h1m2 0h1m1 0h2m1 0h1m9 0h2m3 0h4m3 0h1m7 0h1m1 0h2m1 0h1m1 0h2m1 0h2m6 0h1m1 0h4m2 0h1m1 0h1m2 0h2m1 0h1m2 0h15m2 0h4m1 0h12m1 0h1m2 0h1m2 0h1m2 0h5m1 0h4M18 376.5h1m1 0h2m9 0h1m9 0h1m1 0h1m4 0h2m32 0h1m10 0h2m3 0h3m1 0h1m2 0h1m2 0h2m2 0h1m2 0h1m1 0h1m1 0h1m7 0h1m2 0h2m9 0h1m1 0h3m2 0h5m2 0h2m1 0h1m2 0h12m2 0h5m2 0h2m2 0h9m3 0h1m1 0h6m1 0h3m1 0h1m1 0h9m6 0h1m2 0h2m1 0h1m1 0h1m5 0h3m2 0h14m3 0h1m3 0h2m1 0h10m1 0h1m4 0h4m1 0h4m2 0h1m6 0h1m1 0h1m4 0h1m7 0h2m2 0h1m2 0h1m5 0h1m12 0h1m1 0h1m9 0h1m12 0h1m2 0h1m6 0h1m1 0h7m4 0h4m3 0h1m6 0h2m2 0h1m1 0h26m1 0h5m2 0h1m2 0h1m1 0h2m3 0h1m4 0h1m2 0h5m1 0h4M18 377.5h1m2 0h1m1 0h1m1 0h1m1 0h1m4 0h1m6 0h1m1 0h1m3 0h1m38 0h1m12 0h2m7 0h1m3 0h1m1 0h1m9 0h1m1 0h1m2 0h1m2 0h2m1 0h2m4 0h8m1 0h1m2 0h2m5 0h1m1 0h1m1 0h9m3 0h2m1 0h4m1 0h1m1 0h12m5 0h2m1 0h1m3 0h1m2 0h2m1 0h3m1 0h1m1 0h1m7 0h10m1 0h1m3 0h1m1 0h1m3 0h2m1 0h1m1 0h9m1 0h2m1 0h1m1 0h1m2 0h6m1 0h5m5 0h3m1 0h2m1 0h1m8 0h1m14 0h1m1 0h1m4 0h2m2 0h2m3 0h1m1 0h1m2 0h1m3 0h1m1 0h3m1 0h1m1 0h1m1 0h1m3 0h2m4 0h1m2 0h3m1 0h1m1 0h1m3 0h1m1 0h4m1 0h7m1 0h4m3 0h4m6 0h2m2 0h17m1 0h2m1 0h10m1 0h11m3 0h1m4 0h1m1 0h6m2 0h1M21 378.5h2m1 0h1m14 0h1m4 0h1m37 0h3m7 0h1m7 0h1m2 0h1m4 0h2m1 0h1m10 0h3m2 0h2m5 0h1m3 0h1m1 0h5m1 0h7m5 0h1m1 0h3m2 0h4m4 0h2m1 0h4m3 0h1m3 0h7m1 0h6m1 0h1m1 0h2m1 0h1m1 0h4m2 0h8m2 0h4m1 0h7m8 0h1m1 0h2m2 0h6m1 0h5m1 0h1m1 0h4m2 0h2m1 0h1m3 0h2m7 0h6m1 0h2m1 0h1m6 0h1m4 0h1m8 0h1m3 0h1m5 0h1m2 0h2m1 0h1m3 0h1m3 0h3m2 0h1m1 0h2m1 0h1m1 0h1m2 0h1m2 0h3m1 0h1m3 0h3m1 0h1m1 0h5m5 0h2m1 0h5m2 0h2m1 0h1m1 0h1m1 0h2m1 0h1m1 0h1m1 0h1m6 0h1m1 0h3m1 0h9m1 0h1m1 0h5m1 0h3m2 0h13m2 0h4m1 0h1m1 0h6m1 0h2M31 379.5h1m49 0h3m7 0h1m10 0h1m2 0h1m1 0h7m3 0h1m3 0h1m4 0h2m1 0h4m1 0h1m1 0h11m2 0h5m3 0h5m1 0h4m3 0h2m1 0h1m1 0h3m2 0h6m1 0h7m1 0h3m2 0h3m2 0h1m1 0h1m4 0h1m1 0h8m4 0h1m1 0h1m1 0h6m2 0h1m5 0h1m6 0h2m2 0h8m1 0h1m1 0h4m1 0h2m3 0h2m1 0h5m6 0h1m1 0h1m4 0h2m1 0h1m3 0h1m3 0h1m14 0h1m1 0h1m1 0h1m2 0h1m2 0h2m6 0h3m1 0h2m1 0h2m2 0h3m1 0h1m1 0h8m1 0h5m2 0h1m2 0h2m2 0h2m3 0h3m1 0h1m3 0h2m3 0h3m2 0h1m1 0h1m2 0h6m1 0h1m2 0h6m1 0h5m1 0h11m2 0h4m1 0h1m1 0h7m1 0h3m2 0h11M37 380.5h1m27 0h1m11 0h1m2 0h4m2 0h1m17 0h2m1 0h1m1 0h1m10 0h1m5 0h2m5 0h2m1 0h2m2 0h13m3 0h1m1 0h11m3 0h2m1 0h4m1 0h2m2 0h21m3 0h3m2 0h3m1 0h2m1 0h2m1 0h3m1 0h10m2 0h1m3 0h1m6 0h1m1 0h14m1 0h5m4 0h3m1 0h3m8 0h1m2 0h1m5 0h1m3 0h1m1 0h1m14 0h1m2 0h1m2 0h2m2 0h2m6 0h3m2 0h3m2 0h2m2 0h1m2 0h7m2 0h2m3 0h1m5 0h1m1 0h5m1 0h2m1 0h5m1 0h1m1 0h1m2 0h1m1 0h4m4 0h7m1 0h2m3 0h1m1 0h9m1 0h8m1 0h3m2 0h10m4 0h7m1 0h7M24 381.5h1m22 0h1m29 0h1m1 0h4m1 0h2m19 0h5m7 0h2m3 0h1m1 0h2m3 0h2m1 0h22m2 0h1m1 0h1m1 0h2m2 0h1m1 0h1m1 0h2m4 0h5m1 0h1m2 0h4m1 0h3m1 0h5m3 0h6m1 0h4m3 0h1m5 0h11m2 0h6m5 0h1m6 0h5m1 0h13m2 0h2m2 0h2m1 0h3m3 0h1m1 0h1m3 0h1m5 0h1m1 0h1m2 0h1m5 0h1m16 0h2m2 0h1m1 0h1m8 0h1m1 0h3m1 0h1m1 0h3m1 0h2m1 0h5m1 0h3m1 0h3m2 0h2m6 0h2m2 0h5m1 0h7m1 0h3m1 0h4m5 0h5m1 0h2m2 0h16m2 0h6m1 0h9m2 0h8m1 0h1m4 0h7M36 382.5h1m25 0h1m3 0h1m12 0h1m1 0h2m21 0h2m1 0h1m1 0h1m1 0h1m1 0h4m1 0h1m5 0h1m1 0h1m1 0h1m3 0h2m1 0h19m3 0h4m2 0h3m2 0h1m1 0h1m2 0h7m2 0h2m2 0h21m1 0h2m2 0h1m6 0h3m2 0h12m2 0h1m8 0h1m3 0h5m1 0h3m1 0h9m1 0h1m1 0h6m1 0h3m1 0h2m6 0h2m9 0h1m3 0h1m8 0h1m10 0h1m2 0h1m7 0h2m8 0h3m4 0h13m2 0h1m4 0h1m2 0h2m1 0h2m1 0h5m1 0h11m6 0h7m3 0h2m1 0h4m1 0h2m1 0h4m1 0h2m1 0h1m1 0h9m1 0h7m2 0h1m1 0h11m1 0h1m1 0h3M19 383.5h1m38 0h1m17 0h1m1 0h1m1 0h1m24 0h5m1 0h1m1 0h1m1 0h1m2 0h2m2 0h1m2 0h1m8 0h13m1 0h5m6 0h5m2 0h1m1 0h2m3 0h5m1 0h1m1 0h2m2 0h15m1 0h2m1 0h2m1 0h1m4 0h1m5 0h1m1 0h7m1 0h1m2 0h1m1 0h4m1 0h2m1 0h4m1 0h1m4 0h8m1 0h8m1 0h3m3 0h8m1 0h1m10 0h1m6 0h1m1 0h1m2 0h1m4 0h1m1 0h1m6 0h1m1 0h1m16 0h4m3 0h1m1 0h2m4 0h3m1 0h7m1 0h1m2 0h1m4 0h2m1 0h11m5 0h5m1 0h5m1 0h4m1 0h1m1 0h2m3 0h3m1 0h1m1 0h4m2 0h1m2 0h19m1 0h6m1 0h1m1 0h4m1 0h1m1 0h7M24 384.5h1m38 0h1m7 0h1m6 0h4m20 0h6m1 0h2m7 0h5m1 0h4m1 0h2m2 0h3m1 0h17m5 0h1m2 0h1m3 0h1m1 0h2m1 0h4m1 0h2m2 0h1m3 0h1m1 0h21m1 0h1m2 0h1m3 0h1m4 0h5m2 0h3m2 0h7m1 0h2m10 0h1m1 0h5m2 0h3m1 0h12m1 0h4m1 0h1m3 0h3m4 0h1m1 0h1m12 0h1m13 0h1m1 0h1m1 0h1m12 0h3m1 0h2m1 0h2m5 0h1m2 0h1m1 0h9m10 0h13m5 0h7m1 0h1m1 0h6m1 0h4m1 0h1m2 0h1m1 0h1m1 0h4m1 0h1m1 0h1m1 0h9m2 0h1m1 0h3m1 0h3m2 0h4m1 0h3m2 0h3m1 0h6M73 385.5h1m3 0h1m2 0h1m1 0h1m18 0h1m6 0h2m3 0h1m2 0h4m1 0h3m1 0h1m3 0h1m3 0h9m1 0h11m3 0h4m2 0h2m1 0h1m1 0h1m2 0h3m1 0h2m2 0h2m4 0h1m1 0h17m1 0h1m1 0h1m4 0h1m1 0h1m1 0h2m4 0h20m1 0h3m1 0h2m6 0h3m1 0h1m3 0h2m1 0h8m1 0h1m5 0h2m1 0h1m1 0h2m4 0h3m2 0h1m10 0h2m3 0h1m4 0h1m2 0h1m1 0h1m1 0h1m4 0h1m9 0h7m10 0h1m1 0h5m1 0h4m4 0h1m5 0h1m1 0h4m1 0h2m1 0h1m1 0h1m3 0h6m1 0h1m4 0h7m1 0h1m5 0h2m3 0h1m3 0h5m1 0h1m1 0h5m1 0h4m2 0h3m1 0h3m1 0h4m5 0h3m2 0h4M24 386.5h1m40 0h2m38 0h2m2 0h2m2 0h3m1 0h1m1 0h8m1 0h1m4 0h8m1 0h12m1 0h1m1 0h3m1 0h8m1 0h2m1 0h1m1 0h1m1 0h2m1 0h1m1 0h1m1 0h2m1 0h1m1 0h13m1 0h1m1 0h2m2 0h7m1 0h2m1 0h1m2 0h7m1 0h6m1 0h3m1 0h2m1 0h1m6 0h4m1 0h1m1 0h1m1 0h1m1 0h14m1 0h4m1 0h2m1 0h4m3 0h1m1 0h1m1 0h1m12 0h1m2 0h2m2 0h2m1 0h1m1 0h1m1 0h1m15 0h1m2 0h1m2 0h2m5 0h1m7 0h1m1 0h3m1 0h1m10 0h3m2 0h9m6 0h4m1 0h3m1 0h7m1 0h1m7 0h1m1 0h1m4 0h1m1 0h1m1 0h2m1 0h10m1 0h1m1 0h3m1 0h9m2 0h1m2 0h1m1 0h2m1 0h2M24 387.5h1m43 0h4m1 0h1m17 0h1m19 0h1m2 0h8m2 0h3m5 0h7m1 0h4m1 0h8m4 0h5m5 0h3m2 0h2m2 0h7m2 0h1m1 0h1m1 0h1m1 0h7m1 0h1m1 0h2m3 0h12m1 0h6m1 0h2m1 0h8m1 0h1m1 0h1m4 0h1m11 0h2m2 0h2m2 0h5m1 0h9m1 0h1m1 0h1m1 0h1m1 0h2m4 0h1m2 0h1m6 0h1m2 0h1m5 0h1m1 0h1m5 0h1m1 0h1m1 0h2m4 0h1m4 0h1m7 0h1m1 0h1m8 0h2m5 0h4m1 0h2m5 0h1m5 0h6m1 0h7m1 0h2m1 0h2m1 0h3m1 0h6m2 0h1m3 0h1m1 0h2m8 0h1m2 0h3m2 0h1m1 0h3m1 0h7m3 0h3m1 0h5m3 0h10m1 0h1M25 388.5h1m30 0h1m10 0h1m3 0h1m3 0h1m1 0h1m10 0h4m3 0h1m14 0h1m1 0h3m1 0h2m1 0h2m3 0h4m1 0h1m1 0h1m2 0h3m1 0h3m1 0h1m1 0h10m1 0h1m1 0h4m1 0h7m3 0h1m1 0h1m1 0h4m1 0h5m1 0h8m1 0h1m1 0h2m2 0h2m4 0h7m1 0h5m1 0h4m1 0h18m1 0h1m9 0h4m2 0h1m6 0h7m1 0h1m1 0h3m2 0h5m7 0h1m16 0h1m10 0h1m8 0h1m1 0h1m4 0h2m4 0h1m7 0h2m4 0h1m1 0h3m1 0h1m1 0h1m1 0h1m7 0h1m2 0h3m2 0h4m1 0h2m1 0h1m1 0h1m2 0h4m2 0h6m2 0h7m1 0h2m10 0h1m3 0h3m5 0h11m1 0h4m5 0h3M24 389.5h2m30 0h1m7 0h1m1 0h1m10 0h2m6 0h1m4 0h2m14 0h1m4 0h1m4 0h2m1 0h3m2 0h1m1 0h1m2 0h2m1 0h1m2 0h7m1 0h2m1 0h1m2 0h5m2 0h6m5 0h3m2 0h1m1 0h1m1 0h1m1 0h4m1 0h3m1 0h3m2 0h1m2 0h2m1 0h19m3 0h3m1 0h14m1 0h1m2 0h1m1 0h4m4 0h1m1 0h2m1 0h2m1 0h1m1 0h1m3 0h1m5 0h12m1 0h5m1 0h2m11 0h1m3 0h2m1 0h3m3 0h1m1 0h1m5 0h2m4 0h1m1 0h2m1 0h1m3 0h2m8 0h1m10 0h1m1 0h6m1 0h2m6 0h6m3 0h5m1 0h5m1 0h9m2 0h9m1 0h2m2 0h1m1 0h1m5 0h3m1 0h8m1 0h2m1 0h11m7 0h1m2 0h1m1 0h2M22 390.5h1m40 0h2m2 0h1m6 0h3m7 0h1m2 0h6m2 0h1m2 0h1m1 0h1m6 0h1m1 0h1m4 0h4m1 0h2m1 0h3m1 0h7m1 0h1m4 0h1m1 0h2m1 0h3m1 0h6m1 0h1m3 0h3m1 0h1m2 0h4m1 0h1m5 0h2m1 0h2m2 0h1m1 0h2m4 0h2m2 0h21m1 0h3m1 0h7m1 0h15m6 0h2m2 0h7m6 0h1m4 0h8m1 0h6m2 0h1m2 0h1m2 0h2m7 0h1m3 0h5m1 0h1m1 0h1m2 0h1m4 0h1m3 0h4m1 0h3m1 0h1m1 0h1m2 0h1m5 0h1m1 0h1m3 0h1m3 0h2m1 0h7m1 0h1m1 0h1m8 0h5m1 0h5m1 0h6m1 0h1m1 0h1m2 0h15m1 0h2m3 0h2m1 0h1m2 0h1m4 0h1m1 0h4m2 0h21m3 0h4m1 0h1M56 391.5h1m3 0h1m2 0h4m1 0h3m1 0h1m1 0h1m1 0h1m1 0h4m4 0h2m1 0h2m11 0h1m10 0h2m2 0h2m6 0h2m1 0h2m1 0h1m3 0h4m1 0h3m2 0h5m1 0h1m1 0h3m1 0h1m1 0h3m3 0h2m1 0h1m3 0h1m3 0h2m3 0h2m1 0h1m5 0h1m2 0h23m1 0h1m1 0h10m4 0h7m5 0h4m4 0h3m1 0h1m1 0h2m1 0h1m1 0h1m6 0h2m1 0h4m1 0h2m1 0h2m1 0h6m4 0h2m1 0h3m1 0h1m2 0h2m3 0h5m2 0h1m4 0h2m6 0h1m1 0h1m1 0h2m1 0h2m6 0h1m3 0h2m1 0h3m8 0h7m7 0h1m1 0h14m1 0h4m2 0h6m1 0h16m1 0h1m1 0h2m6 0h5m1 0h1m2 0h5m1 0h6m1 0h3m1 0h2m4 0h3m1 0h1m3 0h1M38 392.5h1m7 0h1m6 0h7m6 0h1m2 0h1m2 0h1m5 0h1m7 0h9m3 0h1m12 0h1m4 0h3m4 0h1m1 0h4m1 0h2m3 0h5m4 0h11m1 0h1m3 0h1m3 0h2m1 0h5m1 0h2m2 0h1m2 0h2m2 0h1m1 0h1m1 0h1m2 0h12m1 0h7m1 0h2m2 0h2m2 0h9m2 0h9m1 0h1m2 0h1m1 0h1m3 0h1m1 0h5m1 0h3m3 0h1m6 0h7m1 0h11m7 0h2m4 0h1m5 0h1m2 0h2m1 0h1m1 0h1m6 0h2m1 0h6m1 0h5m10 0h2m7 0h1m1 0h1m1 0h8m8 0h6m1 0h1m1 0h6m2 0h1m5 0h25m2 0h1m2 0h2m1 0h1m6 0h1m2 0h8m1 0h4m3 0h1m1 0h1m2 0h2m2 0h1M19 393.5h1m2 0h1m18 0h1m12 0h1m1 0h2m1 0h1m4 0h1m2 0h2m3 0h1m2 0h2m2 0h3m2 0h1m1 0h3m1 0h5m1 0h1m7 0h1m2 0h2m2 0h3m1 0h1m5 0h1m1 0h1m1 0h6m1 0h1m1 0h3m2 0h1m1 0h1m1 0h2m2 0h9m1 0h3m1 0h1m6 0h1m1 0h1m1 0h4m1 0h1m3 0h1m2 0h1m3 0h2m1 0h2m1 0h9m1 0h8m1 0h1m1 0h1m1 0h1m3 0h1m1 0h5m1 0h2m3 0h7m2 0h6m1 0h11m1 0h2m6 0h2m1 0h1m1 0h9m2 0h4m1 0h2m1 0h3m2 0h3m2 0h1m17 0h2m1 0h1m2 0h8m1 0h1m11 0h2m5 0h1m4 0h13m1 0h1m1 0h1m1 0h5m2 0h6m1 0h1m1 0h1m1 0h1m5 0h2m1 0h7m1 0h12m6 0h3m5 0h4m2 0h2m1 0h4m1 0h2m1 0h2m1 0h2m1 0h1M19 394.5h1m28 0h1m3 0h1m3 0h1m1 0h3m1 0h1m1 0h3m1 0h2m4 0h1m4 0h1m1 0h1m2 0h3m1 0h1m2 0h2m2 0h2m1 0h1m6 0h1m2 0h1m2 0h4m1 0h1m1 0h1m12 0h4m1 0h1m1 0h2m3 0h3m1 0h4m1 0h3m3 0h3m1 0h1m4 0h2m1 0h1m1 0h2m1 0h1m1 0h1m6 0h2m3 0h9m1 0h5m1 0h6m1 0h2m6 0h4m1 0h1m6 0h1m1 0h7m2 0h3m2 0h12m1 0h2m1 0h2m4 0h3m1 0h1m1 0h2m1 0h4m2 0h7m1 0h1m1 0h3m2 0h2m3 0h1m2 0h2m2 0h1m6 0h1m4 0h1m3 0h1m1 0h3m1 0h1m1 0h1m6 0h1m4 0h1m1 0h2m3 0h1m1 0h1m1 0h2m1 0h3m1 0h5m3 0h1m1 0h2m1 0h14m3 0h1m5 0h4m1 0h8m2 0h7m1 0h2m8 0h2m3 0h1m1 0h1m2 0h1m1 0h3m1 0h1m1 0h1m1 0h1m1 0h1m1 0h1m1 0h1m2 0h1m3 0h1M18 395.5h3m37 0h3m8 0h3m9 0h1m1 0h5m2 0h1m1 0h4m3 0h1m2 0h1m1 0h1m1 0h2m2 0h1m1 0h1m1 0h2m2 0h2m9 0h1m1 0h8m1 0h1m2 0h1m1 0h1m1 0h3m1 0h2m1 0h2m3 0h5m1 0h1m1 0h3m2 0h3m7 0h2m2 0h1m1 0h7m1 0h16m6 0h2m1 0h3m1 0h1m1 0h5m1 0h1m1 0h1m1 0h9m2 0h9m1 0h3m1 0h5m1 0h1m3 0h5m1 0h2m1 0h1m1 0h1m1 0h3m1 0h1m1 0h1m2 0h1m2 0h6m6 0h1m2 0h1m9 0h2m3 0h1m5 0h1m1 0h2m4 0h1m2 0h1m5 0h1m5 0h3m2 0h1m3 0h5m1 0h1m1 0h5m1 0h1m1 0h14m2 0h2m1 0h1m1 0h2m2 0h4m1 0h3m1 0h1m1 0h1m2 0h7m1 0h1m1 0h4m1 0h1m1 0h1m1 0h2m1 0h3m3 0h2m1 0h2m6 0h1m15 0h1M56 396.5h1m4 0h2m2 0h1m1 0h4m2 0h1m4 0h2m1 0h3m1 0h2m3 0h1m1 0h7m3 0h3m1 0h1m1 0h3m1 0h1m1 0h1m3 0h1m2 0h1m1 0h2m3 0h2m1 0h2m1 0h2m2 0h1m1 0h3m2 0h2m1 0h1m3 0h3m1 0h2m2 0h1m2 0h1m1 0h1m4 0h1m2 0h2m7 0h1m3 0h15m1 0h7m1 0h2m7 0h1m1 0h1m1 0h3m2 0h4m2 0h8m2 0h5m1 0h7m1 0h3m3 0h1m4 0h7m1 0h1m1 0h1m1 0h12m8 0h1m3 0h1m5 0h2m9 0h1m7 0h2m1 0h3m16 0h2m1 0h2m1 0h3m1 0h2m1 0h4m1 0h1m2 0h1m1 0h1m1 0h2m1 0h2m1 0h1m1 0h9m3 0h1m1 0h1m1 0h5m1 0h1m1 0h4m1 0h2m1 0h14m3 0h1m2 0h1m1 0h1m3 0h1m4 0h1m1 0h1m7 0h2m1 0h1m2 0h2m6 0h2M45 397.5h1m4 0h1m7 0h4m1 0h1m1 0h1m1 0h6m1 0h1m6 0h4m4 0h2m3 0h1m1 0h1m1 0h1m4 0h6m1 0h1m2 0h2m1 0h1m15 0h4m1 0h2m1 0h3m2 0h2m1 0h5m1 0h1m3 0h4m2 0h1m1 0h1m2 0h2m8 0h1m2 0h2m1 0h1m1 0h5m2 0h14m1 0h3m1 0h1m6 0h1m3 0h1m1 0h3m1 0h3m3 0h1m1 0h1m1 0h3m3 0h4m1 0h8m8 0h1m2 0h7m1 0h3m1 0h3m1 0h3m1 0h2m2 0h1m4 0h2m3 0h2m2 0h2m21 0h1m11 0h1m4 0h1m1 0h1m1 0h3m3 0h1m3 0h1m1 0h3m1 0h3m1 0h2m3 0h2m1 0h1m1 0h13m1 0h1m2 0h6m4 0h1m2 0h1m1 0h1m2 0h1m1 0h8m1 0h18m1 0h1m1 0h1m9 0h1m2 0h3m1 0h1m4 0h2m2 0h1M38 398.5h1m3 0h1m3 0h1m1 0h1m7 0h1m1 0h1m1 0h1m1 0h1m4 0h2m1 0h3m4 0h1m2 0h5m2 0h1m2 0h1m1 0h8m4 0h1m3 0h2m2 0h1m3 0h1m2 0h1m2 0h1m3 0h2m3 0h2m2 0h6m1 0h4m1 0h3m1 0h4m3 0h3m2 0h2m3 0h2m3 0h1m10 0h3m1 0h2m1 0h11m1 0h4m1 0h1m1 0h1m5 0h1m5 0h9m2 0h1m1 0h1m1 0h5m3 0h1m1 0h1m1 0h1m2 0h6m1 0h1m1 0h2m3 0h1m2 0h9m2 0h7m1 0h1m4 0h1m1 0h1m3 0h1m6 0h1m4 0h1m32 0h1m1 0h1m1 0h1m1 0h3m2 0h1m1 0h1m3 0h2m1 0h6m2 0h1m1 0h2m2 0h2m1 0h5m1 0h5m5 0h8m5 0h2m1 0h1m2 0h2m1 0h11m1 0h18m14 0h3m6 0h2m1 0h1M48 399.5h1m2 0h1m2 0h1m2 0h2m1 0h1m1 0h1m1 0h1m3 0h1m8 0h3m2 0h3m1 0h1m3 0h7m1 0h2m1 0h4m1 0h3m1 0h1m1 0h1m1 0h1m1 0h1m3 0h1m1 0h2m2 0h1m1 0h3m5 0h4m1 0h9m1 0h4m3 0h3m1 0h3m1 0h2m1 0h1m2 0h2m6 0h2m2 0h2m1 0h1m1 0h4m1 0h1m1 0h4m1 0h9m7 0h1m1 0h1m1 0h1m3 0h1m1 0h1m1 0h2m1 0h3m1 0h12m4 0h3m4 0h1m4 0h12m1 0h3m1 0h1m2 0h4m1 0h1m9 0h3m1 0h1m7 0h1m24 0h1m13 0h2m3 0h1m1 0h1m1 0h2m1 0h3m1 0h2m3 0h2m1 0h2m2 0h16m2 0h1m1 0h1m1 0h3m1 0h1m1 0h1m1 0h2m1 0h4m1 0h10m1 0h21m10 0h1m1 0h1m1 0h1m6 0h2m1 0h1m2 0h1M36 400.5h1m4 0h1m7 0h1m3 0h1m3 0h4m1 0h1m4 0h2m3 0h3m4 0h1m2 0h1m1 0h3m2 0h2m2 0h4m1 0h2m2 0h2m1 0h13m1 0h1m5 0h1m2 0h2m1 0h6m2 0h2m2 0h1m2 0h3m1 0h5m3 0h1m4 0h1m6 0h1m1 0h1m1 0h1m5 0h1m4 0h1m1 0h1m1 0h5m1 0h14m3 0h2m2 0h1m1 0h2m3 0h8m2 0h2m2 0h9m2 0h1m4 0h1m1 0h1m2 0h1m1 0h2m1 0h3m4 0h1m1 0h7m1 0h1m3 0h5m1 0h1m1 0h1m9 0h1m5 0h1m1 0h3m1 0h1m20 0h1m7 0h4m5 0h3m1 0h13m4 0h1m4 0h4m1 0h10m1 0h11m3 0h3m2 0h1m2 0h8m2 0h1m1 0h1m1 0h17m13 0h1m11 0h4M48 401.5h1m7 0h5m1 0h1m2 0h1m1 0h1m1 0h2m1 0h1m1 0h1m3 0h1m2 0h1m1 0h1m3 0h1m2 0h1m2 0h2m1 0h4m1 0h3m3 0h3m1 0h2m2 0h1m3 0h1m3 0h1m3 0h2m1 0h3m1 0h1m1 0h1m1 0h2m1 0h3m1 0h2m1 0h3m2 0h3m1 0h1m1 0h1m2 0h3m1 0h2m1 0h1m1 0h2m1 0h1m2 0h1m8 0h6m1 0h10m1 0h5m6 0h1m1 0h2m1 0h1m1 0h2m3 0h4m1 0h1m1 0h1m1 0h1m1 0h10m4 0h1m1 0h1m7 0h1m2 0h1m1 0h1m3 0h3m1 0h4m1 0h3m4 0h1m1 0h2m1 0h1m2 0h1m3 0h1m20 0h1m9 0h1m6 0h2m2 0h3m1 0h1m2 0h3m1 0h4m2 0h2m1 0h3m1 0h5m1 0h1m2 0h1m2 0h5m1 0h10m2 0h3m1 0h7m2 0h1m3 0h2m3 0h10m1 0h1m1 0h5m2 0h6m17 0h1m7 0h1m1 0h1m1 0h4M27 402.5h1m1 0h1m26 0h3m1 0h4m3 0h2m4 0h2m2 0h2m1 0h1m1 0h1m9 0h2m1 0h3m2 0h2m1 0h2m5 0h2m2 0h2m1 0h4m7 0h7m1 0h1m1 0h2m2 0h2m2 0h1m1 0h3m2 0h1m2 0h8m2 0h1m5 0h2m2 0h1m2 0h2m1 0h1m3 0h8m1 0h1m1 0h3m2 0h3m1 0h1m2 0h1m6 0h1m3 0h3m1 0h13m1 0h1m1 0h4m1 0h3m1 0h1m1 0h1m1 0h1m5 0h1m3 0h4m2 0h1m4 0h5m1 0h2m2 0h6m1 0h2m17 0h1m21 0h1m1 0h2m1 0h3m1 0h5m4 0h8m1 0h11m2 0h1m6 0h15m1 0h10m1 0h2m3 0h1m4 0h3m1 0h4m1 0h1m1 0h1m2 0h6m1 0h1m29 0h2m1 0h2m1 0h3M32 403.5h2m4 0h1m11 0h1m5 0h1m2 0h2m4 0h1m4 0h1m2 0h1m6 0h2m3 0h1m7 0h2m1 0h1m2 0h2m1 0h3m1 0h1m5 0h3m2 0h3m1 0h1m2 0h1m1 0h1m1 0h9m2 0h1m3 0h1m1 0h2m1 0h3m2 0h3m1 0h3m2 0h1m3 0h2m2 0h1m1 0h1m2 0h1m1 0h1m1 0h3m3 0h2m1 0h10m1 0h2m1 0h2m1 0h4m1 0h1m5 0h3m5 0h9m2 0h2m1 0h7m1 0h2m1 0h1m4 0h1m2 0h1m7 0h16m3 0h3m1 0h1m1 0h3m1 0h2m4 0h1m6 0h1m1 0h2m3 0h1m3 0h1m2 0h1m12 0h1m2 0h2m2 0h1m1 0h14m1 0h1m1 0h1m1 0h4m2 0h1m1 0h3m5 0h13m1 0h12m1 0h1m1 0h4m1 0h1m1 0h1m1 0h3m1 0h1m2 0h1m1 0h8m2 0h1m3 0h1m17 0h1m3 0h1m1 0h1m4 0h2m2 0h4M36 404.5h1m15 0h1m2 0h1m5 0h1m1 0h1m16 0h1m2 0h1m9 0h1m2 0h1m2 0h5m2 0h1m4 0h2m1 0h1m1 0h2m1 0h2m4 0h1m2 0h3m1 0h6m6 0h2m3 0h3m2 0h5m2 0h1m4 0h2m3 0h5m1 0h5m2 0h1m1 0h3m3 0h4m3 0h6m1 0h2m1 0h1m2 0h1m5 0h3m1 0h15m1 0h1m1 0h2m2 0h1m2 0h4m1 0h4m4 0h3m4 0h1m1 0h2m1 0h3m1 0h4m1 0h1m4 0h1m1 0h7m6 0h1m11 0h2m4 0h1m1 0h1m3 0h1m11 0h2m2 0h1m4 0h2m2 0h4m3 0h1m4 0h1m2 0h1m1 0h4m1 0h1m1 0h1m1 0h3m1 0h4m1 0h2m1 0h7m1 0h8m3 0h1m1 0h3m3 0h3m1 0h3m1 0h4m1 0h3m1 0h3m1 0h1m1 0h5m15 0h1m8 0h1m2 0h3m1 0h2M30 405.5h1m5 0h1m1 0h1m11 0h1m3 0h1m2 0h3m1 0h2m1 0h2m3 0h1m5 0h1m3 0h3m17 0h2m3 0h1m2 0h2m1 0h1m1 0h5m2 0h4m5 0h6m1 0h4m2 0h1m2 0h4m2 0h4m1 0h3m1 0h1m1 0h1m9 0h2m2 0h1m2 0h12m1 0h3m1 0h1m2 0h1m2 0h1m2 0h8m1 0h1m4 0h4m1 0h1m1 0h8m1 0h1m2 0h1m1 0h5m1 0h1m2 0h2m2 0h1m7 0h1m1 0h6m1 0h1m1 0h1m2 0h8m1 0h1m1 0h2m2 0h1m2 0h3m2 0h1m1 0h1m8 0h1m9 0h1m7 0h1m7 0h2m6 0h1m2 0h1m2 0h5m2 0h2m6 0h1m1 0h5m1 0h3m2 0h1m1 0h8m2 0h5m3 0h8m4 0h5m1 0h3m1 0h4m1 0h5m1 0h4m1 0h1m1 0h1m1 0h1m1 0h1m1 0h1m2 0h1m18 0h1m4 0h1m3 0h3M30 406.5h1m3 0h1m1 0h3m16 0h1m8 0h2m6 0h1m3 0h3m1 0h3m8 0h1m11 0h3m2 0h2m1 0h1m2 0h4m1 0h1m2 0h1m2 0h1m1 0h1m3 0h3m1 0h3m6 0h2m1 0h2m1 0h2m1 0h1m2 0h1m2 0h1m1 0h2m3 0h1m4 0h2m5 0h1m1 0h1m2 0h2m1 0h1m1 0h2m1 0h2m2 0h2m1 0h5m2 0h7m1 0h1m4 0h1m2 0h4m2 0h3m1 0h5m4 0h3m2 0h1m1 0h1m3 0h1m3 0h2m2 0h1m3 0h1m1 0h3m8 0h1m1 0h4m3 0h1m3 0h3m1 0h1m2 0h2m3 0h1m3 0h1m6 0h1m4 0h2m15 0h2m1 0h1m1 0h2m2 0h1m1 0h1m2 0h3m1 0h4m7 0h2m1 0h4m1 0h16m2 0h3m2 0h3m1 0h2m1 0h3m1 0h10m1 0h3m1 0h1m1 0h1m1 0h7m2 0h6m1 0h2m1 0h1m3 0h1m11 0h1m2 0h1m2 0h6m1 0h1m1 0h2M28 407.5h1m1 0h1m1 0h4m1 0h3m1 0h1m1 0h1m5 0h1m2 0h1m9 0h1m12 0h1m2 0h2m2 0h1m7 0h1m5 0h1m6 0h1m1 0h2m6 0h1m1 0h6m2 0h1m1 0h1m1 0h1m3 0h1m1 0h1m1 0h1m1 0h2m2 0h2m1 0h2m1 0h6m4 0h1m2 0h4m1 0h1m1 0h4m2 0h3m2 0h1m1 0h3m1 0h4m1 0h2m1 0h1m5 0h1m2 0h2m1 0h8m3 0h1m2 0h4m1 0h1m2 0h2m1 0h3m5 0h1m1 0h1m12 0h1m1 0h1m1 0h1m2 0h1m1 0h2m2 0h4m4 0h3m4 0h1m7 0h1m1 0h4m1 0h1m8 0h2m5 0h1m5 0h1m11 0h2m4 0h1m1 0h3m1 0h3m2 0h1m2 0h2m14 0h1m1 0h2m1 0h9m1 0h8m3 0h1m1 0h2m1 0h6m2 0h1m1 0h1m1 0h7m2 0h2m3 0h18m1 0h4m2 0h1m10 0h4m8 0h6M31 408.5h4m2 0h1m1 0h3m7 0h1m2 0h1m17 0h1m3 0h1m3 0h2m2 0h1m4 0h2m3 0h1m1 0h1m6 0h3m1 0h1m1 0h3m2 0h1m1 0h5m1 0h2m6 0h11m3 0h5m1 0h5m5 0h1m4 0h2m2 0h1m2 0h2m1 0h1m3 0h1m2 0h10m1 0h1m1 0h1m1 0h3m1 0h2m1 0h4m1 0h5m1 0h1m7 0h2m1 0h1m1 0h4m1 0h1m1 0h3m2 0h2m7 0h1m3 0h1m1 0h1m1 0h1m1 0h1m3 0h3m1 0h4m5 0h1m1 0h1m10 0h1m2 0h1m6 0h1m5 0h1m7 0h1m27 0h1m2 0h1m1 0h1m2 0h2m1 0h2m13 0h2m2 0h3m1 0h5m1 0h8m1 0h2m4 0h1m1 0h8m2 0h1m1 0h6m1 0h2m1 0h1m1 0h5m1 0h1m2 0h5m1 0h2m1 0h1m2 0h3m1 0h1m1 0h2m5 0h5m2 0h1m3 0h1m4 0h6M33 409.5h1m2 0h6m1 0h1m2 0h2m3 0h1m13 0h1m4 0h6m2 0h1m3 0h1m3 0h2m3 0h1m8 0h3m1 0h2m3 0h2m4 0h2m3 0h1m7 0h4m1 0h6m2 0h7m1 0h1m3 0h1m1 0h1m1 0h4m1 0h1m1 0h2m1 0h2m1 0h2m4 0h3m2 0h6m1 0h3m5 0h1m2 0h3m2 0h1m1 0h7m4 0h2m2 0h1m2 0h13m2 0h1m13 0h2m2 0h1m1 0h6m1 0h1m1 0h1m3 0h3m14 0h2m1 0h2m1 0h1m3 0h1m1 0h1m1 0h1m12 0h1m12 0h1m9 0h2m1 0h4m2 0h3m3 0h1m9 0h1m2 0h3m1 0h18m1 0h1m2 0h6m1 0h6m1 0h10m3 0h1m2 0h1m2 0h1m1 0h8m1 0h6m2 0h6m1 0h3m1 0h1m1 0h1m7 0h1m1 0h1m1 0h3m1 0h1M32 410.5h1m2 0h4m1 0h1m1 0h1m1 0h1m7 0h1m15 0h1m1 0h3m1 0h1m4 0h1m16 0h1m2 0h2m2 0h7m4 0h1m1 0h4m2 0h1m5 0h1m1 0h8m1 0h4m1 0h3m1 0h5m1 0h3m2 0h3m1 0h4m1 0h5m2 0h1m1 0h1m2 0h1m2 0h5m8 0h13m1 0h2m4 0h2m1 0h2m7 0h1m1 0h1m4 0h2m2 0h1m1 0h2m2 0h2m7 0h1m2 0h1m1 0h1m2 0h5m4 0h1m7 0h1m3 0h1m5 0h2m10 0h1m2 0h1m8 0h2m4 0h1m12 0h1m2 0h1m3 0h6m1 0h4m1 0h1m5 0h1m1 0h1m7 0h2m1 0h6m2 0h9m2 0h3m2 0h2m1 0h6m1 0h1m1 0h2m2 0h9m1 0h1m2 0h1m1 0h1m3 0h2m1 0h4m1 0h2m1 0h2m2 0h1m2 0h2m1 0h1m1 0h2m2 0h2m2 0h1m5 0h2m1 0h3m3 0h1M27 411.5h2m4 0h1m1 0h3m2 0h3m1 0h1m1 0h4m1 0h1m2 0h2m2 0h1m7 0h5m2 0h1m6 0h1m13 0h1m1 0h1m1 0h4m1 0h4m1 0h1m1 0h2m2 0h4m1 0h1m1 0h1m1 0h1m2 0h2m1 0h3m1 0h3m1 0h1m1 0h15m1 0h5m1 0h2m1 0h5m1 0h2m1 0h1m1 0h1m2 0h4m1 0h4m9 0h1m1 0h4m2 0h8m1 0h1m1 0h1m1 0h1m1 0h2m1 0h1m3 0h1m2 0h1m5 0h1m1 0h2m3 0h1m1 0h2m6 0h1m9 0h1m3 0h1m1 0h2m23 0h1m5 0h1m1 0h2m9 0h1m7 0h1m5 0h1m12 0h1m1 0h1m2 0h1m1 0h8m14 0h4m1 0h2m3 0h11m4 0h2m1 0h11m1 0h11m1 0h4m5 0h1m1 0h1m1 0h4m1 0h2m9 0h1m3 0h3m6 0h3m1 0h1m1 0h4m1 0h3M30 412.5h1m1 0h2m1 0h6m1 0h3m1 0h1m1 0h2m4 0h1m1 0h2m3 0h2m4 0h2m1 0h1m2 0h1m3 0h1m1 0h1m9 0h1m9 0h1m1 0h4m1 0h2m1 0h3m1 0h1m2 0h5m2 0h1m1 0h1m1 0h3m3 0h2m2 0h13m1 0h4m1 0h3m1 0h5m1 0h9m1 0h1m2 0h9m7 0h1m1 0h3m1 0h9m4 0h1m1 0h1m1 0h1m3 0h3m4 0h1m2 0h1m2 0h3m1 0h4m2 0h1m11 0h1m4 0h4m2 0h1m1 0h1m14 0h1m3 0h1m9 0h1m1 0h2m2 0h1m4 0h1m29 0h2m1 0h1m3 0h2m1 0h2m17 0h4m2 0h1m1 0h6m1 0h4m2 0h12m1 0h6m1 0h1m1 0h5m1 0h3m1 0h3m6 0h10m16 0h1m4 0h1m3 0h3m1 0h3m1 0h1M30 413.5h1m2 0h7m1 0h4m1 0h3m5 0h2m5 0h1m7 0h4m1 0h3m1 0h1m1 0h2m8 0h1m2 0h1m7 0h1m3 0h1m1 0h3m3 0h2m2 0h2m2 0h1m1 0h1m1 0h1m5 0h21m1 0h11m1 0h1m1 0h7m1 0h1m1 0h2m3 0h3m2 0h1m1 0h1m1 0h1m7 0h11m1 0h1m1 0h1m1 0h3m7 0h1m3 0h4m1 0h1m1 0h2m1 0h1m2 0h2m1 0h1m3 0h1m5 0h1m1 0h1m3 0h1m5 0h1m2 0h2m5 0h1m18 0h1m6 0h1m1 0h3m1 0h1m23 0h1m8 0h4m1 0h1m2 0h2m6 0h1m6 0h7m1 0h2m5 0h1m1 0h10m1 0h3m1 0h8m3 0h2m2 0h11m1 0h1m4 0h1m2 0h3m1 0h3m1 0h1m8 0h2m6 0h1m4 0h1m1 0h7m3 0h2M21 414.5h1m6 0h1m4 0h22m6 0h2m4 0h4m4 0h3m7 0h1m2 0h3m10 0h1m3 0h1m5 0h1m1 0h2m1 0h5m4 0h1m5 0h1m1 0h4m2 0h22m3 0h1m1 0h11m1 0h4m1 0h3m2 0h2m1 0h1m3 0h1m3 0h1m2 0h2m1 0h2m1 0h1m1 0h1m1 0h2m1 0h2m1 0h1m5 0h1m2 0h1m1 0h1m2 0h1m3 0h2m1 0h1m1 0h7m1 0h1m2 0h1m6 0h1m1 0h1m3 0h2m9 0h1m11 0h1m9 0h1m4 0h4m10 0h1m22 0h1m7 0h1m3 0h1m7 0h1m3 0h2m2 0h1m1 0h1m1 0h2m1 0h1m4 0h1m1 0h9m1 0h13m1 0h6m1 0h10m3 0h1m3 0h1m1 0h4m1 0h1m1 0h2m6 0h2m13 0h1m2 0h3m1 0h2m1 0h1m1 0h1M33 415.5h1m1 0h11m5 0h2m1 0h2m1 0h1m1 0h1m1 0h1m1 0h1m3 0h3m2 0h2m1 0h3m4 0h1m9 0h1m2 0h2m4 0h1m9 0h2m2 0h1m1 0h2m12 0h2m5 0h1m1 0h11m1 0h10m1 0h4m3 0h2m2 0h3m2 0h1m3 0h1m2 0h1m1 0h2m5 0h1m5 0h2m1 0h4m2 0h1m8 0h1m5 0h1m6 0h5m1 0h13m9 0h1m2 0h1m5 0h1m3 0h1m30 0h3m1 0h1m2 0h2m4 0h1m4 0h1m6 0h1m1 0h1m3 0h1m8 0h1m3 0h2m18 0h1m2 0h7m1 0h12m1 0h9m1 0h15m1 0h2m1 0h1m8 0h9m1 0h4m1 0h5m2 0h1m4 0h1m2 0h1m3 0h1m3 0h1m1 0h1m1 0h3M31 416.5h3m1 0h5m1 0h2m6 0h1m1 0h1m7 0h1m3 0h1m1 0h1m2 0h1m9 0h1m10 0h1m7 0h1m3 0h1m6 0h1m3 0h1m2 0h2m15 0h1m1 0h1m2 0h2m1 0h1m1 0h4m1 0h14m1 0h3m8 0h2m7 0h4m1 0h1m1 0h1m14 0h3m1 0h9m3 0h1m6 0h1m4 0h4m1 0h8m1 0h1m1 0h1m1 0h2m1 0h1m6 0h1m24 0h1m3 0h2m7 0h1m5 0h3m2 0h2m1 0h3m1 0h2m3 0h1m10 0h1m14 0h1m1 0h1m1 0h1m17 0h5m1 0h7m1 0h2m1 0h4m1 0h1m2 0h7m2 0h3m1 0h2m1 0h11m2 0h1m9 0h7m1 0h1m1 0h2m1 0h1m4 0h3m12 0h1m6 0h1M33 417.5h10m2 0h3m3 0h2m1 0h2m1 0h1m6 0h1m1 0h1m2 0h1m2 0h2m2 0h1m4 0h1m6 0h1m1 0h1m1 0h2m4 0h1m1 0h1m5 0h1m10 0h1m4 0h1m13 0h3m1 0h1m1 0h3m2 0h1m2 0h6m1 0h4m1 0h6m5 0h4m1 0h4m4 0h1m2 0h2m1 0h3m4 0h1m7 0h3m1 0h2m8 0h1m10 0h6m1 0h2m1 0h6m2 0h3m7 0h1m19 0h1m21 0h1m1 0h2m5 0h5m1 0h2m4 0h1m18 0h1m5 0h2m7 0h1m6 0h1m6 0h6m1 0h2m2 0h1m2 0h6m1 0h9m8 0h6m1 0h4m2 0h2m9 0h1m2 0h7m1 0h12m9 0h1m4 0h1M30 418.5h2m2 0h10m3 0h2m2 0h1m7 0h1m3 0h1m1 0h1m4 0h1m5 0h2m4 0h1m9 0h2m1 0h4m16 0h1m8 0h1m1 0h1m4 0h1m3 0h2m2 0h1m5 0h1m4 0h10m1 0h7m6 0h2m6 0h1m4 0h6m3 0h1m10 0h2m9 0h1m10 0h1m4 0h1m1 0h3m3 0h2m1 0h8m3 0h1m5 0h1m39 0h2m3 0h2m1 0h1m1 0h4m1 0h2m1 0h1m17 0h1m3 0h3m1 0h2m6 0h1m15 0h3m4 0h5m3 0h1m1 0h3m3 0h10m1 0h2m1 0h10m2 0h1m12 0h3m3 0h5m4 0h1m2 0h5m1 0h2m7 0h1m8 0h1M22 419.5h1m5 0h1m4 0h3m1 0h6m2 0h5m1 0h1m1 0h4m1 0h1m1 0h1m10 0h1m2 0h1m1 0h4m11 0h6m1 0h2m9 0h1m8 0h1m3 0h2m1 0h1m1 0h2m6 0h1m2 0h2m2 0h2m3 0h1m3 0h8m1 0h2m1 0h5m8 0h2m9 0h4m1 0h1m1 0h1m1 0h1m2 0h1m6 0h3m4 0h1m3 0h1m14 0h4m2 0h1m1 0h2m1 0h4m1 0h1m2 0h2m10 0h1m19 0h1m12 0h1m4 0h3m1 0h3m3 0h4m19 0h1m8 0h5m1 0h2m1 0h1m1 0h1m15 0h2m1 0h5m2 0h1m3 0h2m2 0h1m2 0h3m1 0h5m2 0h1m3 0h1m1 0h9m10 0h1m8 0h1m1 0h5m1 0h1m1 0h2m1 0h2m1 0h5m15 0h2M23 420.5h1m3 0h1m3 0h9m1 0h2m1 0h2m3 0h3m5 0h1m1 0h1m16 0h1m1 0h2m10 0h1m1 0h1m2 0h2m2 0h1m6 0h1m2 0h3m7 0h3m2 0h2m1 0h4m1 0h3m6 0h1m6 0h10m1 0h1m1 0h8m7 0h1m3 0h1m4 0h8m1 0h2m5 0h1m5 0h1m4 0h1m21 0h1m2 0h2m1 0h1m2 0h2m1 0h2m1 0h1m20 0h1m3 0h1m7 0h1m6 0h1m9 0h2m1 0h1m3 0h1m1 0h8m4 0h1m4 0h1m12 0h1m1 0h1m2 0h6m15 0h1m2 0h1m1 0h4m2 0h4m1 0h1m2 0h2m2 0h2m1 0h1m1 0h3m1 0h8m2 0h1m1 0h3m1 0h7m1 0h1m9 0h1m5 0h3m1 0h5m3 0h3m1 0h6m8 0h1m6 0h1M21 421.5h2m4 0h10m1 0h2m1 0h4m2 0h4m1 0h2m1 0h2m1 0h1m3 0h1m12 0h1m1 0h4m12 0h2m1 0h2m1 0h2m1 0h1m5 0h1m1 0h1m6 0h1m2 0h1m3 0h2m1 0h2m1 0h2m1 0h1m1 0h1m3 0h1m1 0h2m5 0h2m1 0h6m1 0h11m14 0h13m1 0h1m1 0h2m5 0h1m1 0h1m2 0h1m2 0h2m17 0h2m1 0h1m5 0h3m1 0h2m4 0h1m35 0h4m12 0h3m1 0h2m1 0h1m1 0h3m1 0h1m2 0h1m17 0h1m3 0h5m1 0h1m1 0h1m1 0h1m3 0h1m2 0h1m1 0h1m1 0h1m3 0h2m1 0h1m1 0h5m2 0h5m1 0h3m3 0h1m1 0h7m1 0h3m3 0h2m1 0h5m1 0h3m13 0h1m1 0h6m2 0h4m2 0h6m1 0h2m1 0h1m1 0h1m10 0h1M18 422.5h1m1 0h2m1 0h1m4 0h8m1 0h10m1 0h2m1 0h6m1 0h1m1 0h1m3 0h2m8 0h1m1 0h2m1 0h2m1 0h1m13 0h1m1 0h1m2 0h1m3 0h1m2 0h1m8 0h1m2 0h1m1 0h2m1 0h7m3 0h1m1 0h5m3 0h1m4 0h6m1 0h10m2 0h2m7 0h1m3 0h1m1 0h1m1 0h12m1 0h1m2 0h1m5 0h1m2 0h1m18 0h1m2 0h1m3 0h2m3 0h1m5 0h1m23 0h1m21 0h1m4 0h1m3 0h1m2 0h3m2 0h2m2 0h1m19 0h1m3 0h2m3 0h2m1 0h1m1 0h1m4 0h1m5 0h1m3 0h1m6 0h3m3 0h1m2 0h2m2 0h1m8 0h3m1 0h8m1 0h2m3 0h6m12 0h1m5 0h6m3 0h1m1 0h1m1 0h6m1 0h1m1 0h1m1 0h1m13 0h1M19 423.5h1m2 0h1m5 0h2m1 0h2m2 0h9m1 0h4m1 0h1m1 0h6m1 0h2m3 0h1m6 0h1m4 0h1m2 0h2m1 0h2m9 0h1m9 0h2m2 0h1m1 0h3m3 0h3m3 0h2m2 0h8m1 0h1m2 0h4m2 0h1m1 0h1m3 0h1m2 0h7m2 0h6m1 0h1m1 0h3m5 0h1m3 0h1m1 0h1m1 0h6m1 0h2m3 0h1m1 0h2m9 0h1m3 0h1m13 0h1m1 0h1m1 0h1m10 0h2m12 0h1m11 0h1m6 0h1m9 0h1m4 0h1m1 0h1m3 0h1m1 0h1m1 0h4m4 0h1m4 0h5m3 0h2m3 0h1m6 0h1m3 0h3m1 0h3m1 0h1m1 0h1m1 0h1m1 0h1m4 0h1m1 0h1m1 0h3m4 0h3m20 0h17m1 0h8m10 0h1m3 0h1m4 0h3m1 0h5m1 0h7m1 0h3M18 424.5h1m2 0h2m6 0h1m2 0h1m1 0h1m1 0h4m1 0h2m1 0h5m1 0h2m1 0h3m1 0h1m2 0h1m16 0h3m4 0h1m5 0h1m1 0h1m1 0h1m1 0h1m1 0h3m2 0h2m14 0h1m1 0h1m2 0h7m1 0h2m2 0h4m1 0h1m7 0h3m1 0h6m1 0h4m1 0h1m3 0h5m2 0h4m2 0h1m1 0h4m1 0h1m2 0h1m2 0h2m1 0h3m1 0h2m2 0h2m3 0h1m12 0h1m1 0h1m2 0h1m5 0h1m8 0h1m13 0h1m10 0h1m16 0h1m3 0h1m2 0h1m5 0h1m1 0h3m2 0h1m3 0h2m3 0h1m1 0h1m2 0h2m2 0h2m1 0h1m2 0h1m5 0h3m1 0h6m1 0h1m1 0h1m1 0h1m2 0h1m2 0h5m1 0h3m3 0h1m13 0h2m1 0h7m2 0h2m1 0h6m1 0h13m1 0h1m15 0h1m1 0h5m1 0h1m1 0h3m2 0h1m1 0h1m4 0h1m8 0h1m7 0h1M18 425.5h3m2 0h1m8 0h13m1 0h2m1 0h1m1 0h1m1 0h2m1 0h1m1 0h1m1 0h4m1 0h1m13 0h2m5 0h1m2 0h1m1 0h2m2 0h1m3 0h2m2 0h2m2 0h1m2 0h1m5 0h4m5 0h5m4 0h3m1 0h1m2 0h1m1 0h2m4 0h1m1 0h8m1 0h3m1 0h2m3 0h1m2 0h1m1 0h2m9 0h1m1 0h5m2 0h3m4 0h3m5 0h1m16 0h1m1 0h3m1 0h2m1 0h1m1 0h1m2 0h2m12 0h1m20 0h1m7 0h1m5 0h2m1 0h2m1 0h1m7 0h3m1 0h1m6 0h1m4 0h1m1 0h3m1 0h2m11 0h3m1 0h4m2 0h1m8 0h1m1 0h4m15 0h1m1 0h2m1 0h1m2 0h5m4 0h3m1 0h21m8 0h1m8 0h5m1 0h4m1 0h2m1 0h1m3 0h5m5 0h2M18 426.5h1m1 0h2m2 0h1m6 0h1m5 0h4m1 0h5m1 0h4m1 0h2m1 0h1m1 0h2m1 0h3m2 0h1m5 0h1m3 0h1m1 0h4m5 0h1m3 0h1m2 0h2m1 0h1m3 0h1m2 0h1m7 0h1m11 0h3m2 0h1m4 0h1m3 0h2m1 0h29m2 0h1m1 0h1m1 0h2m1 0h1m4 0h1m1 0h4m1 0h4m1 0h5m2 0h1m1 0h1m1 0h1m3 0h1m1 0h1m1 0h1m11 0h1m3 0h2m6 0h1m2 0h1m1 0h1m9 0h1m3 0h1m17 0h1m11 0h6m3 0h1m1 0h1m3 0h1m4 0h1m11 0h1m2 0h1m1 0h1m10 0h2m1 0h1m2 0h2m2 0h3m3 0h2m2 0h5m3 0h3m7 0h2m5 0h2m2 0h5m1 0h1m5 0h8m1 0h14m2 0h1m7 0h1m4 0h1m3 0h2m1 0h7m4 0h1m2 0h4m3 0h1m2 0h1m1 0h1M18 427.5h1m1 0h1m1 0h3m3 0h1m1 0h2m3 0h1m1 0h4m1 0h1m5 0h3m1 0h3m2 0h4m1 0h1m8 0h2m3 0h7m2 0h2m1 0h1m11 0h1m17 0h1m7 0h1m1 0h2m4 0h1m7 0h7m2 0h5m1 0h1m1 0h3m1 0h1m3 0h2m2 0h3m3 0h1m7 0h1m2 0h3m1 0h1m4 0h2m1 0h1m1 0h5m2 0h1m3 0h1m10 0h1m2 0h4m1 0h1m2 0h2m1 0h1m1 0h1m5 0h1m6 0h1m4 0h2m26 0h1m1 0h1m2 0h2m1 0h1m8 0h1m1 0h1m11 0h1m6 0h1m1 0h3m9 0h2m1 0h5m2 0h2m3 0h1m2 0h3m1 0h3m1 0h1m6 0h1m1 0h1m6 0h1m2 0h2m1 0h5m5 0h1m1 0h23m1 0h1m2 0h1m1 0h1m7 0h4m4 0h5m1 0h3m2 0h2m1 0h2m4 0h1M19 428.5h4m1 0h1m1 0h2m1 0h1m3 0h1m3 0h2m1 0h2m1 0h1m1 0h1m1 0h4m1 0h1m1 0h2m2 0h5m1 0h1m1 0h1m2 0h1m1 0h1m1 0h2m2 0h1m1 0h1m2 0h2m2 0h1m2 0h1m6 0h1m2 0h1m5 0h1m8 0h1m2 0h1m2 0h2m4 0h3m1 0h1m3 0h1m5 0h1m1 0h1m1 0h1m1 0h1m2 0h1m3 0h11m3 0h1m4 0h4m1 0h1m7 0h4m3 0h2m1 0h1m1 0h2m1 0h2m1 0h2m2 0h1m1 0h1m1 0h1m12 0h6m4 0h3m1 0h2m3 0h1m45 0h1m2 0h3m2 0h1m2 0h2m3 0h1m13 0h1m1 0h3m11 0h1m2 0h1m3 0h5m1 0h1m2 0h2m1 0h3m2 0h1m1 0h2m1 0h1m13 0h1m3 0h3m1 0h6m1 0h19m1 0h2m1 0h2m4 0h2m4 0h2m3 0h1m2 0h8m1 0h3m2 0h1m3 0h1m1 0h2m1 0h1m6 0h1m3 0h1m1 0h2M18 429.5h6m1 0h6m3 0h5m1 0h1m1 0h3m3 0h8m1 0h2m2 0h1m1 0h1m2 0h1m3 0h2m3 0h4m5 0h2m3 0h1m16 0h1m1 0h1m17 0h3m6 0h1m1 0h2m4 0h14m1 0h6m1 0h12m7 0h1m2 0h1m2 0h3m4 0h1m1 0h1m1 0h7m2 0h1m2 0h2m10 0h4m1 0h1m1 0h2m1 0h2m13 0h1m17 0h1m11 0h1m6 0h3m1 0h2m1 0h2m3 0h1m15 0h1m6 0h2m1 0h2m3 0h1m2 0h1m6 0h7m2 0h2m2 0h1m2 0h4m3 0h1m14 0h1m1 0h7m1 0h3m1 0h4m1 0h8m1 0h6m1 0h6m3 0h3m1 0h2m1 0h1m5 0h1m1 0h2m1 0h11m5 0h1m2 0h1m14 0h2M18 430.5h5m1 0h3m1 0h1m2 0h1m5 0h2m1 0h1m1 0h1m4 0h4m1 0h5m2 0h1m2 0h1m6 0h1m7 0h1m1 0h1m1 0h1m4 0h3m7 0h1m2 0h2m2 0h2m3 0h2m11 0h1m4 0h2m2 0h1m4 0h1m1 0h3m1 0h3m2 0h7m1 0h2m1 0h4m1 0h2m3 0h2m1 0h3m3 0h1m1 0h1m11 0h2m1 0h3m1 0h1m3 0h3m1 0h1m1 0h1m10 0h1m5 0h2m9 0h4m17 0h2m1 0h2m26 0h7m3 0h1m6 0h1m12 0h1m2 0h2m4 0h1m5 0h1m1 0h1m1 0h1m3 0h1m1 0h1m6 0h1m4 0h1m3 0h1m4 0h1m2 0h1m9 0h1m3 0h3m1 0h1m1 0h1m1 0h3m4 0h3m1 0h4m1 0h2m1 0h2m1 0h2m2 0h2m2 0h1m1 0h6m1 0h1m3 0h1m2 0h12m1 0h1m2 0h1m1 0h1m3 0h3m1 0h4m4 0h1m1 0h1m1 0h4M18 431.5h1m1 0h7m1 0h2m2 0h1m2 0h5m2 0h1m1 0h1m1 0h10m1 0h4m1 0h1m1 0h1m4 0h3m1 0h1m2 0h1m1 0h2m1 0h1m5 0h4m1 0h1m3 0h1m4 0h1m5 0h1m1 0h1m2 0h1m1 0h1m2 0h1m7 0h4m7 0h1m6 0h1m2 0h5m1 0h1m1 0h1m1 0h1m1 0h4m1 0h1m6 0h2m2 0h3m1 0h2m6 0h1m7 0h2m5 0h3m1 0h5m1 0h1m2 0h1m16 0h1m3 0h3m1 0h3m9 0h1m10 0h2m1 0h1m18 0h2m2 0h1m1 0h3m1 0h1m11 0h1m14 0h2m13 0h1m8 0h1m4 0h1m2 0h2m1 0h1m24 0h5m2 0h6m1 0h1m1 0h4m1 0h1m1 0h5m1 0h2m1 0h1m1 0h2m2 0h1m1 0h8m2 0h1m1 0h1m2 0h1m1 0h4m2 0h2m2 0h1m1 0h3m1 0h2m2 0h3m10 0h1m1 0h3M18 432.5h5m1 0h4m1 0h3m1 0h5m2 0h9m1 0h12m2 0h1m2 0h2m1 0h2m2 0h1m1 0h2m1 0h1m1 0h2m13 0h1m1 0h1m4 0h1m1 0h1m1 0h6m1 0h1m1 0h2m3 0h1m4 0h1m6 0h2m1 0h1m1 0h3m2 0h1m1 0h3m1 0h3m2 0h6m1 0h5m1 0h3m1 0h4m1 0h2m7 0h1m5 0h5m7 0h2m1 0h1m1 0h1m1 0h2m3 0h1m2 0h1m4 0h1m11 0h1m1 0h1m1 0h1m3 0h1m8 0h1m13 0h1m14 0h2m2 0h1m1 0h2m1 0h3m1 0h2m1 0h1m25 0h2m1 0h1m21 0h2m2 0h4m1 0h1m1 0h2m18 0h4m2 0h1m3 0h1m1 0h2m1 0h18m1 0h3m2 0h2m3 0h1m2 0h1m6 0h1m2 0h1m1 0h1m1 0h5m1 0h1m4 0h1m5 0h3m3 0h1m3 0h1m4 0h1m1 0h1M18 433.5h4m2 0h10m1 0h1m3 0h6m1 0h5m1 0h4m1 0h3m1 0h4m2 0h1m3 0h2m1 0h1m2 0h3m1 0h3m1 0h2m8 0h1m7 0h2m2 0h1m1 0h5m8 0h1m7 0h2m2 0h4m5 0h4m1 0h1m1 0h2m1 0h13m1 0h9m1 0h1m4 0h1m4 0h1m3 0h1m1 0h2m2 0h1m7 0h2m3 0h2m1 0h1m2 0h1m14 0h1m1 0h4m2 0h1m1 0h1m21 0h1m16 0h1m4 0h4m1 0h1m1 0h1m2 0h1m7 0h1m16 0h1m1 0h1m2 0h1m2 0h1m12 0h1m4 0h1m7 0h1m1 0h1m2 0h1m2 0h1m1 0h2m11 0h9m5 0h1m1 0h4m2 0h4m2 0h1m1 0h3m1 0h3m2 0h3m1 0h1m1 0h2m1 0h2m1 0h2m5 0h1m1 0h8m1 0h1m1 0h1m2 0h3m2 0h1m1 0h5m4 0h1m2 0h2m1 0h1M18 434.5h7m1 0h10m1 0h1m1 0h6m3 0h5m2 0h4m1 0h3m1 0h2m1 0h2m1 0h1m1 0h2m1 0h1m3 0h7m9 0h3m3 0h2m1 0h7m1 0h2m2 0h1m5 0h1m5 0h6m1 0h4m1 0h3m1 0h1m1 0h21m1 0h10m1 0h1m5 0h1m3 0h1m1 0h1m1 0h3m4 0h2m1 0h2m3 0h2m6 0h2m1 0h1m15 0h2m1 0h1m1 0h3m5 0h2m9 0h1m1 0h1m8 0h1m15 0h1m1 0h3m1 0h1m10 0h1m8 0h1m8 0h1m1 0h1m28 0h2m4 0h1m3 0h1m6 0h2m7 0h5m1 0h4m1 0h1m2 0h1m3 0h11m1 0h1m1 0h10m1 0h1m2 0h2m12 0h5m2 0h1m2 0h1m1 0h2m7 0h2m2 0h1m2 0h4m4 0h1M20 435.5h3m2 0h5m1 0h8m1 0h5m4 0h1m2 0h1m1 0h4m1 0h2m1 0h1m5 0h2m3 0h1m1 0h1m1 0h9m7 0h1m1 0h3m6 0h2m2 0h2m1 0h1m1 0h3m1 0h1m7 0h1m3 0h1m2 0h2m1 0h2m1 0h3m1 0h10m1 0h10m1 0h5m1 0h1m1 0h2m2 0h2m1 0h1m3 0h1m1 0h3m1 0h1m1 0h2m8 0h3m5 0h2m1 0h2m1 0h2m1 0h3m2 0h1m9 0h1m2 0h2m1 0h2m1 0h1m4 0h1m5 0h1m9 0h1m14 0h1m2 0h1m1 0h4m3 0h1m2 0h1m3 0h1m14 0h1m9 0h2m19 0h1m4 0h3m3 0h1m13 0h1m8 0h1m3 0h6m7 0h2m3 0h13m2 0h2m5 0h1m1 0h5m3 0h1m2 0h1m2 0h5m1 0h1m3 0h2m3 0h2m7 0h2m1 0h1m4 0h1m4 0h1M18 436.5h2m3 0h2m1 0h8m2 0h8m3 0h1m3 0h1m2 0h7m3 0h1m1 0h2m6 0h4m1 0h7m2 0h1m5 0h1m2 0h1m4 0h1m1 0h1m1 0h5m4 0h3m1 0h1m4 0h1m6 0h15m1 0h1m1 0h2m1 0h10m1 0h2m2 0h7m1 0h1m11 0h1m2 0h1m2 0h1m6 0h3m1 0h3m7 0h1m2 0h4m15 0h4m1 0h1m1 0h1m8 0h2m6 0h1m4 0h2m4 0h1m2 0h2m4 0h1m1 0h2m1 0h2m5 0h2m1 0h1m7 0h1m5 0h1m7 0h1m2 0h2m13 0h1m4 0h1m6 0h2m1 0h1m1 0h2m5 0h1m7 0h2m10 0h1m3 0h6m3 0h1m4 0h2m1 0h13m1 0h4m5 0h2m1 0h2m12 0h1m2 0h1m6 0h1m3 0h3m2 0h4m3 0h2m3 0h1m2 0h2M18 437.5h1m1 0h1m1 0h13m2 0h9m1 0h2m2 0h2m1 0h1m1 0h1m1 0h3m2 0h1m1 0h1m4 0h3m1 0h2m3 0h5m12 0h1m8 0h1m1 0h1m1 0h3m1 0h1m3 0h2m2 0h2m1 0h2m1 0h1m2 0h1m1 0h6m1 0h6m1 0h1m1 0h15m1 0h3m1 0h6m9 0h1m4 0h3m2 0h2m2 0h1m5 0h1m1 0h1m13 0h1m2 0h1m14 0h2m13 0h2m1 0h1m8 0h1m16 0h1m1 0h2m2 0h4m2 0h1m1 0h1m2 0h1m5 0h1m18 0h2m9 0h1m8 0h3m1 0h1m1 0h3m8 0h1m4 0h1m1 0h2m13 0h3m1 0h1m1 0h1m3 0h1m5 0h8m1 0h1m1 0h5m1 0h3m5 0h2m3 0h1m1 0h1m7 0h1m1 0h3m11 0h1m1 0h3m1 0h2m1 0h2m1 0h1m1 0h2m1 0h5M18 438.5h3m2 0h1m1 0h3m1 0h3m1 0h1m1 0h1m2 0h6m1 0h1m2 0h5m1 0h3m1 0h2m7 0h1m1 0h1m2 0h5m1 0h3m1 0h4m11 0h2m7 0h6m1 0h2m3 0h3m1 0h4m1 0h1m1 0h1m1 0h1m1 0h9m2 0h1m2 0h17m1 0h1m3 0h2m1 0h3m5 0h1m8 0h1m4 0h1m5 0h2m1 0h1m16 0h1m22 0h1m6 0h6m6 0h1m1 0h1m5 0h1m1 0h1m1 0h1m10 0h1m2 0h1m1 0h2m11 0h1m4 0h1m2 0h1m3 0h2m4 0h1m6 0h1m2 0h3m6 0h2m7 0h1m8 0h3m17 0h1m2 0h1m2 0h1m4 0h2m8 0h7m1 0h7m3 0h1m10 0h1m8 0h1m2 0h3m10 0h1m3 0h1m1 0h1m3 0h3m1 0h1m5 0h2M26 439.5h10m1 0h1m1 0h2m2 0h2m1 0h6m3 0h3m1 0h1m1 0h1m4 0h2m2 0h1m1 0h1m1 0h3m1 0h5m9 0h1m14 0h1m1 0h7m1 0h2m2 0h1m1 0h5m1 0h10m1 0h2m2 0h1m2 0h4m1 0h7m1 0h11m1 0h3m1 0h1m12 0h2m1 0h1m2 0h1m2 0h1m4 0h1m4 0h1m30 0h1m7 0h1m4 0h2m21 0h1m3 0h1m2 0h1m2 0h1m4 0h1m1 0h1m4 0h1m3 0h1m2 0h1m4 0h3m2 0h1m4 0h1m7 0h1m12 0h2m2 0h1m1 0h1m1 0h1m3 0h1m6 0h1m3 0h1m12 0h1m3 0h1m1 0h2m2 0h1m1 0h1m4 0h1m2 0h1m4 0h1m3 0h10m1 0h1m3 0h1m7 0h1m2 0h2m1 0h1m1 0h1m4 0h1m10 0h1m1 0h2m4 0h2m1 0h1m1 0h1m2 0h2m2 0h1m1 0h2M23 440.5h1m1 0h2m1 0h2m2 0h3m2 0h7m1 0h1m2 0h10m1 0h1m3 0h1m2 0h1m2 0h1m1 0h2m1 0h2m3 0h1m1 0h4m10 0h1m1 0h1m6 0h1m2 0h3m1 0h5m1 0h1m3 0h7m1 0h2m3 0h1m1 0h11m1 0h1m1 0h2m1 0h10m1 0h1m1 0h5m1 0h2m1 0h2m7 0h1m3 0h1m4 0h3m4 0h3m18 0h1m16 0h2m1 0h1m7 0h2m1 0h2m1 0h1m1 0h1m1 0h1m8 0h2m4 0h1m2 0h2m7 0h1m2 0h2m1 0h1m5 0h1m2 0h1m1 0h3m4 0h6m1 0h1m3 0h1m2 0h1m4 0h1m4 0h1m2 0h3m1 0h2m3 0h2m2 0h1m20 0h1m6 0h1m7 0h1m3 0h1m2 0h1m1 0h1m4 0h1m2 0h1m3 0h1m1 0h1m9 0h2m2 0h1m3 0h4m3 0h3m2 0h1m1 0h1m9 0h2m3 0h3m3 0h1m11 0h1M18 441.5h2m4 0h3m2 0h1m2 0h3m7 0h1m2 0h1m2 0h10m1 0h2m2 0h3m2 0h2m1 0h1m1 0h3m1 0h1m1 0h2m2 0h1m18 0h1m2 0h3m2 0h2m1 0h2m3 0h3m1 0h2m1 0h4m3 0h3m2 0h2m1 0h5m2 0h1m2 0h1m1 0h1m1 0h6m2 0h1m1 0h2m7 0h3m14 0h1m4 0h1m6 0h1m37 0h2m1 0h1m4 0h1m2 0h3m1 0h1m3 0h1m4 0h1m1 0h1m7 0h1m2 0h1m5 0h1m5 0h2m1 0h1m9 0h1m1 0h1m5 0h1m1 0h3m19 0h1m1 0h2m2 0h1m2 0h3m2 0h1m4 0h2m3 0h1m2 0h1m4 0h1m1 0h1m2 0h1m2 0h2m4 0h1m1 0h2m8 0h1m1 0h2m10 0h1m1 0h1m15 0h1m2 0h1m1 0h2m2 0h1m3 0h1m12 0h1m2 0h1m4 0h1m1 0h1m1 0h2m2 0h1M18 442.5h1m1 0h8m4 0h1m2 0h3m1 0h2m3 0h3m2 0h1m1 0h1m1 0h1m1 0h4m5 0h1m1 0h1m4 0h2m1 0h2m1 0h2m16 0h2m3 0h1m4 0h5m1 0h1m1 0h3m1 0h2m2 0h2m2 0h6m1 0h2m1 0h2m3 0h1m2 0h5m5 0h5m1 0h1m2 0h5m7 0h1m13 0h1m5 0h1m21 0h3m32 0h1m12 0h1m1 0h2m5 0h1m2 0h1m8 0h1m4 0h2m1 0h1m14 0h2m1 0h2m7 0h1m3 0h1m7 0h4m2 0h2m2 0h4m1 0h2m6 0h1m1 0h2m2 0h1m5 0h1m3 0h1m1 0h1m1 0h1m2 0h2m1 0h1m4 0h1m1 0h1m3 0h1m3 0h1m4 0h2m3 0h1m2 0h2m7 0h1m3 0h2m4 0h2m2 0h1m16 0h1m8 0h1m1 0h2m1 0h3M22 443.5h1m1 0h1m3 0h1m2 0h3m4 0h2m7 0h3m1 0h7m2 0h6m1 0h2m1 0h7m2 0h1m2 0h2m2 0h2m3 0h1m4 0h1m1 0h2m5 0h2m1 0h1m1 0h1m1 0h1m1 0h5m1 0h4m1 0h1m6 0h1m1 0h1m3 0h2m1 0h1m1 0h5m4 0h1m2 0h6m3 0h2m2 0h1m3 0h1m17 0h1m60 0h1m1 0h2m3 0h2m17 0h1m10 0h2m19 0h1m1 0h1m2 0h1m1 0h2m2 0h2m12 0h2m1 0h4m1 0h2m1 0h1m11 0h1m1 0h1m4 0h2m2 0h1m2 0h5m1 0h1m2 0h2m1 0h2m1 0h1m5 0h2m1 0h2m15 0h2m2 0h4m2 0h2m2 0h1m3 0h1m2 0h1m15 0h1m4 0h1m2 0h3m2 0h2m1 0h1m3 0h1m2 0h1M20 444.5h1m9 0h3m2 0h1m1 0h1m5 0h2m4 0h1m1 0h5m2 0h1m2 0h2m3 0h4m1 0h1m1 0h3m2 0h1m7 0h2m3 0h1m2 0h1m3 0h2m5 0h2m1 0h2m1 0h2m1 0h1m1 0h2m1 0h2m1 0h1m1 0h1m3 0h4m2 0h2m1 0h1m1 0h1m2 0h3m2 0h1m1 0h2m2 0h1m1 0h1m2 0h4m1 0h2m7 0h2m13 0h2m1 0h1m2 0h1m25 0h1m12 0h1m1 0h2m20 0h1m2 0h1m10 0h1m4 0h1m1 0h1m6 0h1m15 0h1m4 0h1m1 0h1m5 0h1m4 0h1m10 0h3m2 0h1m1 0h7m2 0h1m4 0h1m6 0h1m5 0h1m3 0h2m1 0h5m1 0h1m1 0h4m2 0h2m1 0h1m1 0h2m12 0h1m3 0h2m7 0h1m3 0h3m3 0h1m1 0h1m13 0h1m4 0h2m1 0h1m2 0h1m1 0h1m1 0h2m1 0h3m1 0h2m2 0h1M18 445.5h1m12 0h3m1 0h2m2 0h3m4 0h2m1 0h1m1 0h3m8 0h1m3 0h2m6 0h2m4 0h1m2 0h2m2 0h1m8 0h2m2 0h1m2 0h10m5 0h2m3 0h1m1 0h2m1 0h4m1 0h2m1 0h1m2 0h9m4 0h1m1 0h3m2 0h6m2 0h1m3 0h1m1 0h1m7 0h1m21 0h1m4 0h1m9 0h1m2 0h1m9 0h1m4 0h1m1 0h1m4 0h1m13 0h2m1 0h1m1 0h1m4 0h2m13 0h2m5 0h3m17 0h4m1 0h1m11 0h1m4 0h1m1 0h3m1 0h4m1 0h3m5 0h2m9 0h2m4 0h1m2 0h2m1 0h2m1 0h2m1 0h1m2 0h1m1 0h3m1 0h1m5 0h1m6 0h2m3 0h2m1 0h5m2 0h1m5 0h2m1 0h2m7 0h1m3 0h1m13 0h1m1 0h2m4 0h1m4 0h1m2 0h1m4 0h1M25 446.5h1m1 0h1m1 0h5m1 0h3m4 0h1m3 0h3m3 0h1m2 0h1m1 0h2m1 0h1m1 0h2m1 0h3m3 0h3m5 0h3m3 0h2m4 0h2m7 0h1m6 0h9m6 0h2m1 0h6m2 0h2m1 0h1m2 0h3m1 0h1m1 0h4m5 0h1m2 0h1m3 0h1m3 0h5m4 0h1m1 0h1m10 0h1m2 0h1m2 0h1m1 0h1m5 0h1m21 0h1m15 0h1m16 0h2m18 0h1m5 0h2m9 0h1m4 0h1m15 0h1m1 0h1m5 0h2m2 0h1m1 0h2m10 0h3m1 0h1m2 0h1m1 0h1m3 0h1m3 0h1m6 0h1m8 0h1m1 0h1m1 0h1m1 0h1m1 0h1m6 0h3m2 0h1m3 0h2m2 0h1m2 0h2m1 0h2m3 0h1m1 0h1m6 0h2m3 0h1m1 0h1m16 0h2m3 0h1m2 0h3m1 0h1m3 0h1m1 0h1m2 0h1m2 0h1m5 0h1M29 447.5h1m3 0h3m1 0h2m3 0h2m2 0h4m3 0h1m4 0h6m2 0h3m2 0h1m2 0h1m4 0h1m21 0h3m1 0h1m1 0h1m2 0h1m1 0h5m1 0h1m2 0h1m2 0h6m1 0h1m1 0h2m2 0h2m1 0h5m1 0h4m2 0h3m1 0h1m6 0h1m1 0h2m1 0h4m5 0h1m6 0h1m9 0h1m24 0h1m1 0h1m9 0h1m4 0h1m1 0h1m1 0h1m13 0h1m1 0h1m19 0h1m3 0h1m1 0h2m2 0h1m2 0h1m2 0h1m3 0h2m11 0h2m1 0h1m2 0h1m3 0h1m7 0h1m11 0h1m5 0h1m9 0h1m3 0h1m2 0h1m2 0h1m5 0h2m3 0h5m5 0h1m10 0h2m7 0h1m1 0h1m4 0h1m1 0h1m3 0h3m1 0h1m2 0h1m4 0h1m21 0h3m2 0h1m3 0h5m2 0h1m1 0h1m2 0h2M27 448.5h2m2 0h2m1 0h1m3 0h2m1 0h9m7 0h2m1 0h1m5 0h3m14 0h2m6 0h2m9 0h2m2 0h11m2 0h2m2 0h1m3 0h3m1 0h1m1 0h1m1 0h1m2 0h5m2 0h3m1 0h3m1 0h2m1 0h2m2 0h2m6 0h1m1 0h2m9 0h1m11 0h1m2 0h1m5 0h1m18 0h1m7 0h1m5 0h1m3 0h1m1 0h1m4 0h1m2 0h1m9 0h2m3 0h1m11 0h2m2 0h1m4 0h1m1 0h1m1 0h1m4 0h2m1 0h2m1 0h1m6 0h1m7 0h1m1 0h3m3 0h1m10 0h1m9 0h1m1 0h1m1 0h6m1 0h1m13 0h1m3 0h1m4 0h3m5 0h2m9 0h1m6 0h3m4 0h1m3 0h1m4 0h1m2 0h2m7 0h1m17 0h4m2 0h1m1 0h1m3 0h1m1 0h1m2 0h1m1 0h3m2 0h1M28 449.5h2m1 0h4m1 0h2m2 0h3m2 0h3m1 0h2m4 0h2m1 0h1m3 0h3m3 0h1m3 0h1m6 0h1m9 0h5m9 0h1m1 0h1m1 0h1m2 0h5m1 0h1m1 0h2m2 0h1m2 0h1m1 0h2m1 0h1m1 0h1m2 0h1m1 0h1m1 0h4m5 0h4m2 0h3m7 0h1m4 0h1m8 0h1m22 0h2m2 0h1m16 0h1m4 0h1m3 0h1m1 0h1m5 0h1m3 0h1m9 0h1m3 0h3m1 0h2m3 0h1m8 0h1m11 0h1m3 0h1m1 0h1m1 0h1m3 0h1m14 0h1m3 0h2m1 0h2m5 0h1m13 0h1m4 0h1m1 0h1m1 0h1m1 0h6m1 0h1m6 0h1m5 0h1m1 0h2m1 0h3m8 0h1m11 0h1m1 0h1m2 0h6m2 0h1m1 0h1m2 0h1m2 0h1m1 0h3m4 0h2m5 0h1m14 0h1m3 0h1m2 0h1m6 0h5m1 0h2M30 450.5h2m2 0h2m1 0h2m1 0h1m4 0h2m2 0h5m1 0h4m5 0h1m4 0h3m15 0h1m2 0h2m1 0h1m1 0h1m1 0h2m5 0h5m1 0h9m1 0h1m3 0h1m2 0h3m1 0h1m5 0h1m2 0h1m1 0h1m3 0h2m2 0h1m2 0h1m2 0h1m5 0h2m2 0h1m6 0h1m1 0h1m24 0h1m34 0h2m5 0h1m17 0h2m19 0h1m3 0h1m4 0h1m1 0h2m1 0h1m1 0h1m1 0h1m3 0h1m1 0h1m3 0h1m2 0h1m2 0h1m3 0h1m2 0h3m4 0h1m1 0h1m6 0h1m4 0h2m5 0h1m3 0h3m1 0h2m2 0h1m1 0h1m4 0h1m1 0h1m1 0h1m2 0h2m1 0h4m2 0h2m2 0h1m1 0h1m5 0h1m1 0h1m5 0h1m6 0h1m6 0h1m4 0h2m3 0h1m8 0h1m8 0h1m7 0h2m11 0h1m1 0h3m2 0h1M23 451.5h1m8 0h6m2 0h2m1 0h3m1 0h1m2 0h6m1 0h1m1 0h1m1 0h1m5 0h1m5 0h1m3 0h1m5 0h1m5 0h1m2 0h4m5 0h1m2 0h1m1 0h3m1 0h9m2 0h2m2 0h1m1 0h1m1 0h1m3 0h1m6 0h2m5 0h1m2 0h1m2 0h1m1 0h1m5 0h1m7 0h1m2 0h1m27 0h1m34 0h1m4 0h1m1 0h1m44 0h1m6 0h1m4 0h1m2 0h2m3 0h1m1 0h2m1 0h1m3 0h1m4 0h1m1 0h3m5 0h1m13 0h2m1 0h2m1 0h3m1 0h2m1 0h2m9 0h5m5 0h1m3 0h1m1 0h2m10 0h1m3 0h1m3 0h1m6 0h3m1 0h1m4 0h2m1 0h2m4 0h1m6 0h2m27 0h1m1 0h3m1 0h2M28 452.5h2m4 0h1m3 0h1m6 0h1m4 0h3m1 0h4m5 0h1m1 0h2m10 0h1m1 0h1m9 0h3m3 0h1m2 0h1m2 0h1m1 0h8m1 0h2m1 0h4m2 0h1m2 0h1m3 0h3m5 0h2m2 0h1m9 0h1m1 0h1m3 0h1m3 0h1m3 0h1m4 0h1m1 0h1m26 0h1m31 0h1m6 0h2m22 0h1m16 0h1m3 0h2m2 0h2m4 0h1m1 0h1m5 0h3m2 0h1m2 0h4m1 0h2m8 0h1m1 0h1m6 0h2m9 0h1m1 0h3m2 0h2m1 0h7m1 0h1m8 0h1m1 0h2m1 0h1m1 0h1m2 0h1m14 0h2m1 0h1m2 0h6m2 0h1m1 0h2m1 0h2m5 0h2m2 0h1m39 0h2m1 0h3m4 0h1M23 453.5h1m3 0h1m2 0h1m1 0h2m1 0h1m1 0h1m1 0h3m7 0h3m1 0h2m2 0h1m1 0h1m3 0h1m1 0h1m1 0h2m6 0h1m11 0h1m2 0h3m1 0h4m3 0h10m1 0h1m1 0h5m1 0h2m1 0h5m1 0h4m1 0h3m1 0h2m12 0h3m4 0h1m6 0h1m16 0h1m17 0h1m16 0h1m15 0h1m3 0h1m4 0h1m1 0h1m31 0h3m8 0h3m7 0h6m5 0h5m6 0h1m1 0h3m1 0h1m2 0h6m1 0h1m3 0h1m3 0h2m6 0h3m1 0h2m1 0h2m4 0h1m1 0h6m1 0h1m5 0h1m1 0h1m2 0h1m1 0h1m1 0h1m2 0h1m5 0h1m1 0h1m1 0h2m2 0h1m1 0h4m1 0h1m2 0h3m2 0h1m1 0h1m1 0h1m2 0h1m12 0h1m6 0h1m19 0h4M18 454.5h1m7 0h2m4 0h1m1 0h1m1 0h3m9 0h2m2 0h2m11 0h3m18 0h1m3 0h3m1 0h4m1 0h4m1 0h1m1 0h11m1 0h4m1 0h2m2 0h3m1 0h2m1 0h1m1 0h3m1 0h1m8 0h1m2 0h1m13 0h1m4 0h1m1 0h5m3 0h1m12 0h1m6 0h1m1 0h1m3 0h1m26 0h1m10 0h1m21 0h2m10 0h1m2 0h1m11 0h1m9 0h1m6 0h1m7 0h1m2 0h1m1 0h1m2 0h2m5 0h2m1 0h1m3 0h1m5 0h3m1 0h2m1 0h1m1 0h5m10 0h1m3 0h2m2 0h1m2 0h1m1 0h1m4 0h1m1 0h1m1 0h1m3 0h1m4 0h4m2 0h1m4 0h1m4 0h1m4 0h7m44 0h1M20 455.5h2m3 0h1m2 0h4m1 0h5m1 0h1m2 0h1m1 0h1m3 0h2m5 0h3m3 0h2m1 0h1m2 0h3m10 0h1m5 0h1m2 0h4m2 0h2m4 0h3m1 0h12m1 0h8m2 0h2m1 0h10m5 0h4m1 0h2m5 0h1m11 0h1m2 0h1m1 0h1m102 0h2m14 0h1m4 0h3m1 0h1m1 0h1m3 0h1m4 0h1m1 0h1m5 0h1m12 0h2m3 0h1m2 0h1m3 0h1m2 0h3m2 0h4m30 0h1m2 0h1m2 0h1m3 0h2m1 0h2m1 0h1m1 0h1m6 0h1m1 0h1m4 0h1m1 0h1m1 0h1m1 0h1m1 0h1m1 0h1M19 456.5h2m4 0h1m2 0h3m2 0h6m1 0h1m3 0h3m5 0h1m2 0h3m1 0h2m4 0h1m23 0h1m3 0h5m1 0h5m2 0h7m1 0h3m1 0h1m2 0h2m2 0h3m1 0h1m1 0h7m1 0h1m5 0h1m1 0h2m3 0h3m1 0h1m7 0h1m7 0h2m2 0h2m4 0h1m54 0h1m5 0h1m41 0h1m4 0h1m1 0h1m15 0h2m3 0h1m8 0h1m4 0h1m1 0h1m2 0h1m2 0h1m1 0h1m6 0h1m1 0h1m3 0h1m1 0h3m1 0h2m12 0h2m1 0h2m10 0h1m4 0h1m5 0h1m5 0h1m2 0h2m1 0h1m1 0h2m5 0h1m10 0h1m5 0h1m13 0h1m21 0h2M18 457.5h1m6 0h1m1 0h2m2 0h1m1 0h1m1 0h4m7 0h1m4 0h7m30 0h1m5 0h5m4 0h14m1 0h3m5 0h1m4 0h4m1 0h1m1 0h1m2 0h1m2 0h2m1 0h1m1 0h2m1 0h3m6 0h1m2 0h1m5 0h2m1 0h1m2 0h1m2 0h1m21 0h1m15 0h2m2 0h2m9 0h1m14 0h1m11 0h1m10 0h1m17 0h2m1 0h2m10 0h1m4 0h2m1 0h1m2 0h1m5 0h1m9 0h1m6 0h1m1 0h1m9 0h1m1 0h1m2 0h5m1 0h1m11 0h4m1 0h1m6 0h1m4 0h1m6 0h1m4 0h1m1 0h1m2 0h1m2 0h1m2 0h1m7 0h1m8 0h2m10 0h1m13 0h2M18 458.5h2m5 0h1m3 0h3m2 0h1m1 0h2m2 0h2m2 0h1m9 0h1m1 0h1m7 0h1m12 0h1m13 0h2m1 0h4m1 0h1m1 0h3m1 0h10m10 0h1m3 0h1m3 0h6m1 0h1m4 0h2m1 0h3m1 0h2m1 0h1m2 0h1m8 0h1m3 0h2m1 0h1m6 0h1m1 0h1m22 0h1m11 0h1m1 0h1m7 0h1m1 0h1m5 0h1m5 0h1m4 0h1m51 0h3m2 0h1m2 0h1m6 0h1m3 0h1m12 0h1m5 0h2m9 0h7m2 0h1m14 0h1m1 0h1m2 0h1m28 0h1m6 0h1m3 0h1m3 0h1m3 0h1m2 0h1m3 0h1m1 0h1m3 0h2m5 0h1m7 0h1m20 0h1M18 459.5h2m3 0h1m2 0h3m1 0h1m2 0h4m1 0h1m2 0h1m14 0h2m4 0h1m24 0h1m3 0h3m1 0h3m3 0h1m1 0h1m1 0h1m3 0h7m1 0h1m1 0h1m6 0h1m7 0h1m5 0h2m2 0h2m1 0h1m2 0h2m1 0h2m7 0h3m1 0h3m1 0h3m1 0h2m1 0h1m2 0h2m37 0h1m10 0h1m1 0h1m13 0h2m32 0h1m10 0h2m5 0h2m8 0h3m12 0h1m15 0h2m2 0h1m3 0h2m6 0h1m18 0h1m2 0h1m2 0h1m9 0h1m6 0h1m5 0h2m10 0h1m10 0h1m1 0h1m1 0h3m1 0h1m1 0h1m1 0h1m20 0h1M18 460.5h1m7 0h1m1 0h1m2 0h2m1 0h1m1 0h3m10 0h1m4 0h1m4 0h1m6 0h2m7 0h1m13 0h3m1 0h3m1 0h1m2 0h1m1 0h3m4 0h3m1 0h3m17 0h1m1 0h1m4 0h1m2 0h3m1 0h1m6 0h1m12 0h4m2 0h1m2 0h1m2 0h1m43 0h1m6 0h1m1 0h1m1 0h1m10 0h1m2 0h1m42 0h1m9 0h1m7 0h1m1 0h2m3 0h1m9 0h1m11 0h1m5 0h1m6 0h1m3 0h3m13 0h1m1 0h1m1 0h1m26 0h1m1 0h1m1 0h1m7 0h1m5 0h1m11 0h3m11 0h1M18 461.5h4m1 0h2m3 0h10m1 0h3m13 0h1m6 0h1m9 0h1m2 0h1m1 0h1m13 0h1m1 0h3m1 0h5m2 0h2m1 0h7m1 0h2m19 0h1m3 0h1m1 0h1m5 0h1m10 0h1m6 0h1m1 0h2m3 0h2m2 0h4m37 0h1m13 0h3m1 0h1m7 0h1m3 0h1m1 0h3m8 0h1m23 0h1m3 0h1m12 0h1m1 0h1m3 0h1m1 0h1m1 0h1m2 0h1m10 0h1m1 0h1m10 0h3m1 0h4m3 0h1m1 0h2m5 0h1m3 0h1m8 0h1m14 0h1m9 0h1m3 0h2m4 0h1m1 0h1m13 0h1m1 0h1m5 0h1m2 0h1m5 0h1m4 0h2M18 462.5h9m2 0h2m2 0h1m1 0h1m2 0h2m4 0h1m10 0h1m29 0h1m5 0h1m1 0h2m5 0h1m1 0h3m1 0h2m1 0h1m1 0h2m1 0h1m6 0h1m6 0h1m2 0h2m9 0h1m3 0h1m4 0h1m7 0h2m3 0h1m4 0h3m1 0h1m4 0h1m5 0h1m1 0h1m33 0h1m3 0h4m4 0h1m1 0h1m5 0h1m1 0h1m3 0h1m1 0h5m5 0h1m26 0h1m7 0h1m8 0h4m1 0h2m5 0h3m11 0h1m1 0h2m10 0h1m1 0h1m1 0h1m1 0h1m6 0h1m8 0h1m5 0h2m2 0h1m3 0h1m5 0h1m1 0h1m6 0h1m18 0h1m2 0h3m4 0h5m4 0h1m4 0h1m1 0h1m4 0h1M18 463.5h2m1 0h5m3 0h2m2 0h1m1 0h3m1 0h1m1 0h2m18 0h1m16 0h2m11 0h1m3 0h1m1 0h1m1 0h1m1 0h4m1 0h2m1 0h3m9 0h1m10 0h1m7 0h1m6 0h1m11 0h2m2 0h1m1 0h1m2 0h1m2 0h6m3 0h1m8 0h1m26 0h1m15 0h1m15 0h5m6 0h1m4 0h1m33 0h1m1 0h1m2 0h1m2 0h2m1 0h2m7 0h1m21 0h1m1 0h1m1 0h1m8 0h3m2 0h3m2 0h1m7 0h2m1 0h2m8 0h1m1 0h1m13 0h1m8 0h1m1 0h1m4 0h2m3 0h2m4 0h1m10 0h1m4 0h1m1 0h1m1 0h1M18 464.5h6m3 0h2m6 0h1m1 0h6m1 0h2m3 0h1m34 0h3m6 0h2m2 0h6m2 0h9m4 0h1m10 0h1m7 0h2m3 0h1m1 0h3m1 0h1m23 0h1m1 0h2m42 0h1m2 0h2m6 0h2m13 0h1m1 0h1m3 0h1m1 0h3m4 0h1m21 0h1m19 0h2m2 0h1m1 0h1m2 0h1m3 0h1m8 0h1m8 0h3m1 0h1m3 0h1m5 0h1m2 0h1m3 0h5m1 0h4m7 0h2m1 0h4m7 0h3m3 0h1m6 0h1m7 0h1m13 0h2m1 0h2m2 0h1m12 0h1m2 0h3m1 0h2m2 0h1m15 0h1m2 0h1m2 0h1M18 465.5h7m2 0h1m8 0h1m2 0h3m1 0h2m18 0h1m9 0h1m7 0h1m8 0h1m3 0h1m2 0h3m1 0h5m2 0h2m3 0h1m7 0h1m2 0h1m6 0h1m3 0h1m12 0h1m11 0h1m6 0h2m5 0h1m42 0h2m13 0h1m12 0h4m1 0h2m3 0h1m20 0h1m13 0h1m4 0h1m6 0h4m8 0h1m12 0h1m3 0h1m11 0h1m12 0h7m2 0h1m3 0h1m16 0h1m13 0h1m10 0h4m1 0h3m1 0h1m7 0h5m4 0h1m1 0h1m4 0h1m1 0h1m4 0h2m16 0h2M18 466.5h3m1 0h3m10 0h4m2 0h1m3 0h2m35 0h1m4 0h1m4 0h1m1 0h2m2 0h1m1 0h2m3 0h5m3 0h1m1 0h1m7 0h1m23 0h1m3 0h1m6 0h2m12 0h1m40 0h1m9 0h1m3 0h2m2 0h1m7 0h1m10 0h3m1 0h1m10 0h1m1 0h1m13 0h1m4 0h1m9 0h1m1 0h1m1 0h1m6 0h2m29 0h2m10 0h1m2 0h1m1 0h7m5 0h1m3 0h1m37 0h1m2 0h1m2 0h2m1 0h1m6 0h1m6 0h1m4 0h1m1 0h1m5 0h1m3 0h1m1 0h1m18 0h1m1 0h1M18 467.5h1m3 0h3m1 0h1m3 0h1m8 0h1m1 0h3m4 0h1m14 0h1m18 0h1m3 0h1m6 0h3m1 0h1m1 0h1m2 0h1m4 0h2m1 0h2m11 0h1m6 0h1m16 0h1m5 0h1m14 0h1m4 0h2m14 0h1m35 0h1m3 0h1m3 0h1m4 0h1m17 0h1m6 0h1m4 0h2m16 0h1m3 0h1m9 0h1m1 0h1m4 0h1m3 0h1m22 0h2m11 0h1m3 0h1m1 0h6m1 0h3m8 0h1m2 0h1m3 0h1m7 0h1m14 0h1m14 0h1m1 0h1m1 0h1m5 0h1m3 0h1m10 0h1m2 0h1m7 0h1m17 0h1m2 0h1m1 0h1M18 468.5h9m1 0h1m8 0h1m6 0h1m13 0h1m22 0h2m11 0h1m2 0h1m1 0h1m3 0h1m2 0h4m9 0h1m5 0h1m4 0h2m14 0h1m2 0h1m5 0h1m1 0h1m4 0h1m60 0h1m1 0h5m1 0h1m18 0h1m17 0h2m3 0h1m3 0h1m21 0h2m4 0h1m8 0h1m15 0h1m2 0h2m1 0h1m2 0h1m2 0h2m8 0h1m3 0h3m1 0h1m5 0h1m22 0h3m17 0h1m2 0h1m2 0h1m2 0h2m15 0h1m4 0h1m2 0h1m1 0h1m2 0h1m1 0h1m1 0h1m17 0h1m2 0h1m1 0h1M19 469.5h8m6 0h1m2 0h1m1 0h1m2 0h3m13 0h2m3 0h1m2 0h1m14 0h1m14 0h1m6 0h2m1 0h1m1 0h2m2 0h2m2 0h1m3 0h1m2 0h1m3 0h2m2 0h1m3 0h1m16 0h1m7 0h1m11 0h1m1 0h1m16 0h1m30 0h1m1 0h1m3 0h1m2 0h1m2 0h2m5 0h1m1 0h1m8 0h1m2 0h1m4 0h1m33 0h1m1 0h4m1 0h1m2 0h1m3 0h1m10 0h1m13 0h3m4 0h1m10 0h1m5 0h2m1 0h1m14 0h1m1 0h1m32 0h1m1 0h1m21 0h1m9 0h1M18 470.5h1m1 0h8m13 0h1m1 0h3m1 0h1m12 0h1m7 0h1m1 0h1m24 0h1m13 0h2m1 0h2m1 0h1m5 0h1m2 0h4m1 0h2m9 0h1m9 0h1m4 0h1m3 0h1m12 0h2m40 0h1m4 0h1m5 0h1m2 0h1m3 0h2m3 0h1m10 0h1m26 0h1m6 0h1m21 0h1m2 0h1m1 0h1m12 0h1m12 0h2m10 0h1m2 0h1m4 0h2m2 0h1m1 0h2m11 0h1m12 0h1m5 0h1m1 0h1m4 0h2m1 0h1m12 0h1m19 0h1m1 0h1M18 471.5h9m1 0h1m15 0h1m4 0h1m12 0h1m3 0h1m27 0h2m7 0h1m8 0h2m16 0h1m20 0h1m7 0h1m53 0h1m5 0h1m9 0h2m9 0h1m22 0h1m7 0h1m3 0h1m19 0h1m4 0h1m4 0h2m5 0h1m1 0h1m1 0h1m1 0h2m1 0h1m2 0h2m3 0h1m2 0h1m1 0h1m1 0h1m1 0h2m2 0h1m6 0h2m1 0h1m8 0h3m10 0h1m1 0h1m6 0h2m20 0h1m14 0h3m8 0h1m2 0h1m7 0h1m2 0h1m7 0h1M18 472.5h8m1 0h2m1 0h1m5 0h1m29 0h1m12 0h1m12 0h1m6 0h1m10 0h1m12 0h1m15 0h1m7 0h1m23 0h1m14 0h1m44 0h2m9 0h2m2 0h1m1 0h1m23 0h1m10 0h1m1 0h1m1 0h1m7 0h1m19 0h3m3 0h1m3 0h1m9 0h1m1 0h1m2 0h3m3 0h3m6 0h1m1 0h1m7 0h1m7 0h1m2 0h1m7 0h1m8 0h1m8 0h1m1 0h1m2 0h1m8 0h2m32 0h1m20 0h1M18 473.5h10m2 0h1m6 0h1m3 0h1m25 0h1m31 0h3m1 0h1m8 0h4m21 0h1m7 0h1m1 0h1m71 0h1m1 0h1m3 0h1m6 0h1m2 0h1m8 0h1m2 0h1m1 0h2m10 0h1m29 0h1m18 0h3m2 0h2m3 0h1m1 0h2m17 0h1m3 0h5m7 0h1m2 0h1m14 0h2m8 0h1m1 0h1m5 0h2m9 0h1m12 0h3m2 0h1m31 0h1M18 474.5h1m1 0h10m2 0h1m1 0h1m2 0h2m1 0h1m12 0h1m8 0h1m1 0h1m2 0h1m30 0h1m13 0h3m21 0h1m5 0h2m74 0h1m1 0h1m12 0h1m8 0h1m4 0h1m31 0h1m26 0h1m4 0h1m3 0h1m5 0h1m2 0h1m3 0h1m1 0h1m2 0h1m2 0h1m2 0h1m3 0h1m1 0h2m1 0h1m28 0h1m7 0h1m2 0h1m1 0h1m1 0h1m5 0h1m10 0h1m8 0h2m1 0h3m8 0h1m3 0h2m2 0h1m16 0h1m5 0h1M18 475.5h4m1 0h4m2 0h3m3 0h2m2 0h1m1 0h1m1 0h1m2 0h1m22 0h1m34 0h1m20 0h1m3 0h1m7 0h2m75 0h1m34 0h1m14 0h1m9 0h1m1 0h1m19 0h1m10 0h1m1 0h3m2 0h1m2 0h3m1 0h3m8 0h1m8 0h4m13 0h1m3 0h1m1 0h1m8 0h1m1 0h1m10 0h1m1 0h4m1 0h1m3 0h1m1 0h1m3 0h1m13 0h5m1 0h1m1 0h1m4 0h1m3 0h5m1 0h2m9 0h1M18 476.5h10m1 0h2m5 0h1m1 0h1m8 0h1m8 0h1m6 0h1m1 0h1m6 0h1m25 0h1m18 0h1m8 0h1m92 0h1m24 0h1m15 0h1m15 0h1m17 0h1m3 0h1m15 0h2m1 0h1m3 0h2m12 0h2m3 0h2m1 0h1m4 0h1m9 0h2m14 0h2m2 0h2m7 0h5m3 0h1m14 0h2m2 0h1m2 0h5m2 0h1m1 0h1m6 0h1m1 0h5m13 0h1m3 0h1M19 477.5h8m1 0h1m3 0h1m1 0h1m1 0h4m20 0h2m1 0h1m1 0h1m9 0h1m3 0h1m23 0h1m31 0h1m1 0h1m78 0h1m2 0h2m1 0h1m21 0h2m1 0h1m2 0h1m45 0h3m9 0h3m1 0h1m1 0h1m15 0h1m2 0h1m1 0h3m2 0h2m1 0h6m8 0h1m2 0h1m1 0h1m16 0h2m4 0h1m1 0h4m1 0h1m1 0h1m7 0h4m8 0h2m2 0h4m1 0h2m1 0h1m4 0h3m3 0h4m10 0h2M18 478.5h1m2 0h5m1 0h1m6 0h3m4 0h1m7 0h1m7 0h2m1 0h1m11 0h1m1 0h1m51 0h1m4 0h1m7 0h1m74 0h1m3 0h1m2 0h1m5 0h1m22 0h1m12 0h1m6 0h1m35 0h2m1 0h1m1 0h1m1 0h1m6 0h2m5 0h1m5 0h1m1 0h2m5 0h3m1 0h1m8 0h1m1 0h1m26 0h1m1 0h3m1 0h4m5 0h1m3 0h2m2 0h2m1 0h1m1 0h1m6 0h4m6 0h3m1 0h1m3 0h2m5 0h1M21 479.5h1m1 0h1m1 0h1m1 0h1m1 0h1m2 0h1m1 0h2m4 0h1m4 0h2m12 0h1m3 0h1m3 0h1m31 0h1m1 0h1m35 0h1m83 0h1m1 0h1m10 0h1m5 0h2m2 0h1m6 0h1m27 0h1m2 0h1m7 0h1m3 0h1m11 0h1m1 0h1m6 0h1m1 0h2m13 0h1m1 0h1m7 0h5m10 0h2m29 0h3m14 0h3m6 0h1m7 0h2m4 0h2m1 0h4m1 0h2m1 0h1m8 0h1m1 0h2M23 480.5h1m2 0h2m1 0h3m1 0h2m1 0h1m1 0h1m2 0h2m19 0h1m6 0h1m4 0h2m1 0h1m26 0h1m31 0h1m80 0h1m4 0h1m1 0h2m5 0h2m11 0h1m64 0h2m7 0h1m1 0h2m20 0h1m2 0h1m12 0h1m2 0h1m13 0h1m1 0h4m4 0h1m2 0h2m2 0h1m10 0h4m2 0h1m18 0h4m5 0h1m1 0h2m1 0h2m2 0h2m1 0h1m5 0h1M19 481.5h1m5 0h1m1 0h1m3 0h4m4 0h2m2 0h1m2 0h1m9 0h1m1 0h1m1 0h3m9 0h1m1 0h1m25 0h1m29 0h1m86 0h1m6 0h1m5 0h1m3 0h1m9 0h2m33 0h1m4 0h1m1 0h1m4 0h1m1 0h2m13 0h2m9 0h1m1 0h4m8 0h1m9 0h1m5 0h1m10 0h1m8 0h1m3 0h2m1 0h1m1 0h1m1 0h1m1 0h1m3 0h1m2 0h1m13 0h3m1 0h2m8 0h1m3 0h1m2 0h1m3 0h1m3 0h1m2 0h1m3 0h1m1 0h3m5 0h1M24 482.5h1m1 0h1m2 0h1m1 0h1m1 0h1m3 0h1m1 0h3m16 0h1m1 0h1m1 0h1m10 0h1m145 0h2m3 0h1m5 0h1m3 0h1m4 0h1m4 0h1m19 0h1m2 0h1m14 0h1m6 0h1m4 0h1m23 0h1m18 0h1m15 0h2m23 0h1m3 0h1m4 0h3m2 0h3m6 0h2m1 0h1m1 0h4m2 0h1m6 0h1m1 0h2m1 0h1m2 0h2m8 0h1m13 0h1M28 483.5h6m4 0h1m1 0h1m2 0h1m1 0h1m13 0h5m10 0h3m139 0h1m6 0h1m18 0h2m29 0h2m14 0h1m1 0h1m2 0h1m8 0h1m13 0h1m1 0h3m1 0h1m19 0h1m2 0h1m8 0h2m14 0h3m7 0h1m6 0h4m1 0h1m9 0h5m1 0h1m1 0h1m5 0h1m43 0h1M27 484.5h1m1 0h1m1 0h1m6 0h1m4 0h1m14 0h1m2 0h1m2 0h1m8 0h1m1 0h2m121 0h1m6 0h1m5 0h1m1 0h2m2 0h1m4 0h1m1 0h1m7 0h1m8 0h1m3 0h1m2 0h1m20 0h2m9 0h1m1 0h1m4 0h1m1 0h2m6 0h1m20 0h1m4 0h1m1 0h1m15 0h1m2 0h1m12 0h2m7 0h1m1 0h1m1 0h3m2 0h2m3 0h1m2 0h2m2 0h1m2 0h5m6 0h3m2 0h1m1 0h1m2 0h1m1 0h1m14 0h2m9 0h2m3 0h1m10 0h1M23 485.5h1m3 0h1m3 0h1m2 0h1m3 0h1m4 0h1m2 0h1m4 0h1m4 0h2m2 0h2m10 0h1m2 0h2m136 0h1m2 0h1m3 0h1m1 0h1m2 0h1m1 0h1m1 0h1m4 0h1m2 0h1m5 0h2m1 0h1m1 0h1m12 0h1m7 0h2m3 0h1m1 0h1m3 0h1m5 0h1m8 0h1m19 0h1m1 0h1m1 0h2m1 0h1m5 0h1m11 0h1m3 0h1m3 0h1m5 0h1m2 0h1m2 0h1m2 0h1m1 0h2m2 0h1m1 0h3m3 0h1m1 0h2m3 0h1m3 0h1m1 0h1m2 0h1m2 0h1m2 0h1m1 0h1m2 0h4m1 0h4m3 0h1m3 0h4m1 0h2m2 0h1m8 0h1m11 0h1m2 0h1M27 486.5h1m5 0h1m1 0h1m4 0h1m1 0h1m3 0h2m10 0h1m1 0h1m11 0h1m2 0h1m154 0h1m1 0h1m10 0h2m1 0h2m15 0h2m2 0h1m4 0h1m19 0h1m1 0h1m18 0h1m2 0h1m1 0h1m1 0h1m4 0h1m4 0h1m1 0h1m4 0h1m5 0h1m8 0h1m2 0h1m3 0h1m3 0h2m2 0h8m1 0h1m2 0h5m8 0h1m4 0h6m2 0h1m4 0h1m3 0h1m4 0h2m1 0h1m1 0h2m3 0h1m11 0h1m1 0h1m9 0h1m2 0h1M26 487.5h1m5 0h2m3 0h2m6 0h1m12 0h1m3 0h1m1 0h1m8 0h4m1 0h1m134 0h1m3 0h1m21 0h1m3 0h3m1 0h1m4 0h1m37 0h4m3 0h1m4 0h1m12 0h1m2 0h1m1 0h2m5 0h1m16 0h1m4 0h1m2 0h1m1 0h1m1 0h1m2 0h1m1 0h1m1 0h2m4 0h2m1 0h1m2 0h1m2 0h1m3 0h1m2 0h1m2 0h2m1 0h1m1 0h1m4 0h5m3 0h2m1 0h4m1 0h1m1 0h1m2 0h1m1 0h1m2 0h1m1 0h3m5 0h1m6 0h2m5 0h1m3 0h2m2 0h1m1 0h1M24 488.5h1m2 0h1m6 0h1m2 0h1m14 0h1m7 0h1m9 0h2m1 0h1m1 0h1m12 0h1m119 0h4m1 0h2m4 0h1m17 0h1m2 0h1m1 0h1m1 0h3m2 0h1m3 0h1m8 0h1m13 0h1m2 0h1m7 0h1m1 0h3m9 0h1m7 0h2m7 0h1m1 0h1m16 0h1m2 0h1m3 0h2m1 0h1m1 0h1m5 0h1m6 0h2m1 0h1m4 0h3m1 0h2m3 0h2m1 0h3m1 0h2m1 0h4m1 0h6m1 0h2m8 0h1m1 0h1m3 0h1m8 0h1m1 0h2m1 0h1m5 0h1m1 0h1m1 0h1m1 0h1m2 0h1m2 0h2m5 0h1m10 0h1M19 489.5h1m4 0h1m24 0h1m3 0h1m2 0h1m3 0h1m1 0h1m5 0h1m1 0h2m1 0h1m15 0h1m114 0h1m1 0h1m4 0h3m2 0h1m22 0h1m1 0h1m3 0h1m1 0h3m21 0h1m21 0h1m6 0h1m2 0h1m1 0h1m3 0h2m7 0h1m4 0h2m6 0h1m10 0h1m6 0h1m5 0h3m1 0h1m5 0h1m2 0h1m1 0h2m4 0h2m3 0h1m1 0h5m2 0h1m1 0h2m3 0h5m1 0h1m2 0h1m1 0h1m3 0h2m8 0h2m1 0h1m15 0h3m27 0h1m1 0h2M19 490.5h2m3 0h2m4 0h1m21 0h1m2 0h3m3 0h1m4 0h1m3 0h2m137 0h2m1 0h2m1 0h3m2 0h1m7 0h2m17 0h1m4 0h1m4 0h2m9 0h1m21 0h1m1 0h1m7 0h1m5 0h1m1 0h6m4 0h2m10 0h1m14 0h1m1 0h1m5 0h2m1 0h1m5 0h2m8 0h2m1 0h2m4 0h8m1 0h2m3 0h6m8 0h2m4 0h1m6 0h5m3 0h1m1 0h4m3 0h2m1 0h2m1 0h1m8 0h1m18 0h3M18 491.5h1m2 0h5m1 0h1m25 0h1m1 0h3m3 0h2m7 0h1m1 0h1m132 0h1m2 0h1m1 0h4m2 0h2m7 0h1m31 0h1m8 0h2m3 0h1m16 0h2m13 0h1m6 0h1m3 0h1m7 0h1m11 0h1m2 0h1m3 0h1m6 0h1m3 0h2m16 0h1m1 0h1m2 0h1m1 0h1m5 0h8m3 0h1m3 0h1m1 0h2m4 0h2m5 0h1m7 0h1m4 0h2m2 0h3m3 0h1m1 0h1m1 0h1m1 0h3m1 0h1m5 0h2m19 0h1M20 492.5h1m3 0h1m17 0h1m3 0h1m2 0h1m9 0h1m5 0h1m1 0h1m132 0h1m3 0h1m4 0h1m2 0h5m21 0h1m3 0h1m2 0h1m1 0h1m1 0h3m1 0h3m10 0h1m34 0h2m1 0h1m1 0h1m1 0h2m2 0h4m1 0h1m12 0h2m15 0h1m3 0h1m8 0h1m11 0h1m2 0h1m7 0h2m1 0h3m1 0h3m6 0h1m3 0h2m18 0h1m1 0h1m1 0h1m3 0h1m1 0h7m2 0h3m2 0h1m2 0h1m16 0h1m2 0h1m2 0h1m1 0h1M18 493.5h1m12 0h1m17 0h1m10 0h1m10 0h1m74 0h1m15 0h1m9 0h1m30 0h1m3 0h1m3 0h1m1 0h1m2 0h1m1 0h1m5 0h1m4 0h2m10 0h2m3 0h1m7 0h1m1 0h1m1 0h1m6 0h2m13 0h2m8 0h1m11 0h2m2 0h1m4 0h2m3 0h1m6 0h1m3 0h1m4 0h1m2 0h1m2 0h1m1 0h1m10 0h2m1 0h1m8 0h1m9 0h1m2 0h1m5 0h8m1 0h2m6 0h1m7 0h2m1 0h1m3 0h1m8 0h1m4 0h1m1 0h1m1 0h15m2 0h3m19 0h2M19 494.5h5m8 0h1m6 0h1m2 0h3m3 0h1m5 0h1m1 0h1m102 0h1m3 0h1m1 0h1m45 0h2m1 0h2m8 0h1m24 0h1m7 0h1m27 0h1m15 0h1m2 0h1m7 0h2m2 0h1m1 0h1m29 0h1m1 0h2m1 0h1m4 0h1m16 0h1m9 0h3m2 0h1m1 0h3m8 0h1m11 0h1m1 0h1m3 0h1m1 0h1m3 0h2m2 0h4m1 0h2m2 0h5m5 0h1m20 0h3M21 495.5h1m9 0h1m8 0h1m4 0h2m10 0h1m8 0h1m70 0h1m22 0h2m1 0h1m36 0h1m6 0h1m3 0h1m2 0h2m25 0h2m8 0h3m8 0h2m3 0h1m35 0h2m6 0h1m1 0h2m4 0h1m8 0h1m2 0h2m1 0h1m15 0h1m1 0h1m6 0h1m1 0h1m2 0h1m15 0h1m5 0h1m1 0h1m1 0h2m2 0h1m15 0h1m1 0h2m11 0h2m1 0h1m1 0h1m2 0h7m1 0h4m1 0h1m2 0h1m25 0h1M20 496.5h3m1 0h1m1 0h2m1 0h3m3 0h3m2 0h2m2 0h1m4 0h1m90 0h1m9 0h1m4 0h1m7 0h1m2 0h1m33 0h2m8 0h1m5 0h2m7 0h2m18 0h2m3 0h1m3 0h1m7 0h2m2 0h2m37 0h1m7 0h1m2 0h2m10 0h1m5 0h1m9 0h1m7 0h1m5 0h2m16 0h1m5 0h1m2 0h5m1 0h1m1 0h1m2 0h2m12 0h1m1 0h1m2 0h4m3 0h1m10 0h2m2 0h7m1 0h2m4 0h1m18 0h2m1 0h1M19 497.5h2m1 0h1m5 0h7m1 0h2m2 0h3m9 0h1m2 0h1m1 0h1m79 0h1m10 0h3m4 0h1m1 0h1m41 0h2m7 0h3m2 0h1m14 0h2m11 0h2m4 0h1m1 0h1m7 0h1m1 0h1m29 0h1m14 0h1m3 0h1m3 0h1m1 0h3m1 0h1m1 0h1m7 0h1m4 0h1m35 0h1m18 0h1m2 0h1m10 0h1m2 0h1m2 0h1m6 0h1m2 0h1m2 0h1m1 0h3m5 0h1m2 0h1m1 0h2m2 0h5m17 0h2m2 0h2M18 498.5h1m2 0h3m1 0h5m1 0h1m1 0h1m1 0h1m3 0h1m1 0h2m3 0h1m3 0h1m2 0h4m82 0h1m13 0h1m2 0h1m3 0h1m37 0h1m10 0h8m24 0h1m2 0h1m1 0h1m7 0h1m2 0h1m5 0h2m25 0h1m10 0h1m2 0h1m2 0h1m1 0h1m5 0h5m9 0h1m6 0h2m6 0h1m6 0h1m25 0h1m7 0h1m4 0h1m1 0h1m2 0h1m6 0h1m3 0h1m1 0h1m1 0h2m1 0h4m5 0h4m9 0h1m3 0h3m2 0h1m1 0h1m21 0h1m3 0h1M18 499.5h2m1 0h2m1 0h1m1 0h1m1 0h1m1 0h4m1 0h1m1 0h4m3 0h1m1 0h1m4 0h1m1 0h3m1 0h1m79 0h2m10 0h5m1 0h1m1 0h2m1 0h2m1 0h1m37 0h1m3 0h2m4 0h1m1 0h3m30 0h2m2 0h1m2 0h1m1 0h1m37 0h1m19 0h2m1 0h3m15 0h2m9 0h1m2 0h1m12 0h2m1 0h2m10 0h1m11 0h2m3 0h1m12 0h1m9 0h4m1 0h2m1 0h1m2 0h2m9 0h2m23 0h1m1 0h1m1 0h2m1 0h1m1 0h1M19 500.5h1m3 0h1m1 0h4m1 0h1m1 0h2m3 0h1m1 0h1m10 0h2m4 0h3m71 0h1m5 0h1m7 0h3m8 0h1m1 0h1m4 0h2m41 0h1m1 0h1m3 0h2m3 0h2m6 0h2m16 0h1m5 0h1m5 0h2m36 0h1m11 0h1m6 0h1m3 0h1m1 0h3m7 0h1m1 0h2m1 0h2m3 0h1m2 0h1m2 0h1m2 0h1m19 0h1m3 0h1m16 0h3m19 0h3m2 0h1m1 0h1m6 0h2m13 0h1m6 0h2m1 0h1m4 0h1m1 0h1m9 0h1m4 0h1M20 501.5h5m1 0h4m1 0h3m1 0h1m3 0h1m1 0h3m11 0h4m10 0h1m65 0h1m5 0h1m13 0h1m6 0h2m41 0h4m2 0h1m3 0h1m1 0h1m26 0h1m3 0h1m2 0h1m4 0h3m5 0h1m2 0h1m23 0h1m5 0h1m6 0h1m5 0h2m3 0h2m1 0h3m12 0h3m6 0h1m4 0h1m9 0h1m4 0h1m3 0h1m2 0h2m2 0h1m3 0h1m1 0h1m7 0h2m23 0h1m2 0h4m1 0h1m1 0h2m1 0h3m1 0h1m8 0h1m5 0h1m2 0h2m16 0h1m2 0h1M23 502.5h1m3 0h3m2 0h1m3 0h1m1 0h2m2 0h1m10 0h1m1 0h2m1 0h1m1 0h1m76 0h1m1 0h1m7 0h1m4 0h2m2 0h1m3 0h1m3 0h1m1 0h1m44 0h1m1 0h1m10 0h1m2 0h1m9 0h1m11 0h1m3 0h1m2 0h1m1 0h1m4 0h1m24 0h1m10 0h1m7 0h1m6 0h1m1 0h1m3 0h1m7 0h2m3 0h2m4 0h1m5 0h1m2 0h1m8 0h1m2 0h1m6 0h1m5 0h2m7 0h3m2 0h1m1 0h1m1 0h3m12 0h1m4 0h1m1 0h2m1 0h2m4 0h1m2 0h2m2 0h1m2 0h1m5 0h1m5 0h1m12 0h1m8 0h2m1 0h1M20 503.5h4m1 0h3m1 0h2m1 0h2m1 0h1m3 0h1m1 0h1m5 0h1m3 0h1m1 0h5m1 0h3m86 0h1m4 0h1m4 0h2m45 0h1m1 0h2m1 0h1m2 0h1m2 0h1m8 0h1m1 0h1m12 0h1m8 0h1m6 0h1m27 0h1m23 0h1m2 0h3m1 0h1m13 0h1m3 0h2m1 0h1m6 0h1m1 0h3m7 0h1m2 0h1m8 0h3m5 0h1m5 0h1m4 0h2m3 0h1m21 0h1m1 0h2m1 0h1m4 0h1m1 0h1m2 0h3m7 0h1m10 0h1m8 0h1m3 0h1m2 0h1m1 0h1m1 0h1M23 504.5h1m3 0h1m2 0h1m1 0h3m2 0h2m1 0h1m5 0h1m4 0h1m3 0h1m1 0h1m1 0h1m1 0h1m6 0h1m68 0h1m4 0h1m1 0h1m9 0h1m4 0h2m34 0h1m11 0h1m6 0h1m2 0h1m40 0h1m4 0h1m26 0h3m15 0h6m1 0h1m1 0h1m6 0h1m9 0h2m1 0h2m4 0h1m3 0h1m6 0h2m26 0h1m1 0h1m5 0h2m1 0h2m3 0h1m12 0h1m3 0h1m4 0h1m3 0h1m13 0h1m14 0h1m8 0h1m2 0h1m3 0h1m1 0h1m1 0h1M20 505.5h1m3 0h1m7 0h8m14 0h5m4 0h1m75 0h2m4 0h2m7 0h2m2 0h2m7 0h1m32 0h1m8 0h1m1 0h1m2 0h1m1 0h2m14 0h1m12 0h1m5 0h2m6 0h1m25 0h1m8 0h1m15 0h2m2 0h2m2 0h1m10 0h1m2 0h3m2 0h1m6 0h1m25 0h1m15 0h1m3 0h1m1 0h1m9 0h1m7 0h1m6 0h2m8 0h1m1 0h1m13 0h1m1 0h1m9 0h2m11 0h1m2 0h1M33 506.5h2m1 0h4m2 0h1m5 0h1m7 0h1m3 0h1m2 0h1m76 0h1m6 0h1m7 0h1m2 0h1m1 0h1m43 0h1m2 0h1m4 0h2m3 0h1m2 0h1m9 0h2m9 0h1m8 0h1m2 0h1m10 0h1m17 0h1m10 0h1m16 0h6m6 0h1m1 0h2m7 0h3m1 0h2m1 0h2m1 0h1m3 0h1m21 0h1m5 0h1m7 0h1m8 0h1m9 0h2m10 0h1m8 0h1m1 0h4m9 0h1m16 0h2m1 0h1M39 507.5h2m1 0h1m3 0h2m1 0h2m11 0h1m78 0h1m8 0h2m2 0h1m4 0h2m11 0h1m34 0h2m5 0h1m17 0h1m2 0h1m11 0h1m28 0h1m8 0h1m2 0h1m19 0h2m7 0h1m14 0h1m1 0h1m1 0h1m5 0h1m14 0h1m16 0h1m27 0h1m7 0h2m5 0h1m5 0h1m3 0h2m3 0h1m15 0h1m3 0h1m3 0h3m4 0h1M34 508.5h2m1 0h2m3 0h1m5 0h1m18 0h1m72 0h1m4 0h1m5 0h1m1 0h1m3 0h1m2 0h1m45 0h1m2 0h1m2 0h4m3 0h2m11 0h1m2 0h1m12 0h1m21 0h2m5 0h3m1 0h2m1 0h4m3 0h1m17 0h1m2 0h1m23 0h2m6 0h2m23 0h1m2 0h1m6 0h1m19 0h1m10 0h1m10 0h1m2 0h1m1 0h1m1 0h1m4 0h1m20 0h2m1 0h1m3 0h1m1 0h1M21 509.5h1m18 0h1m3 0h1m1 0h2m92 0h2m11 0h2m5 0h1m41 0h1m4 0h1m2 0h5m1 0h3m12 0h2m6 0h1m5 0h2m4 0h1m12 0h1m1 0h1m8 0h2m6 0h1m6 0h1m16 0h1m3 0h1m4 0h2m28 0h1m5 0h1m2 0h2m15 0h1m1 0h2m33 0h1m3 0h2m1 0h1m8 0h3m3 0h1m2 0h1m30 0h1M19 510.5h1m5 0h1m11 0h1m6 0h1m2 0h1m14 0h1m77 0h1m12 0h3m35 0h1m16 0h1m2 0h3m2 0h1m9 0h1m24 0h1m22 0h1m5 0h2m1 0h1m9 0h2m15 0h1m2 0h1m1 0h1m53 0h1m11 0h1m26 0h1m15 0h1m5 0h1m3 0h1m2 0h2m11 0h1m3 0h4m2 0h1m6 0h1M39 511.5h1m6 0h1m6 0h1m80 0h1m7 0h1m9 0h1m3 0h1m34 0h1m16 0h1m2 0h1m1 0h1m1 0h1m13 0h1m2 0h1m4 0h1m6 0h1m3 0h1m2 0h1m11 0h3m1 0h1m3 0h4m2 0h1m1 0h1m1 0h1m1 0h2m1 0h1m5 0h1m15 0h1m1 0h2m1 0h1m4 0h1m12 0h3m3 0h1m5 0h1m27 0h1m17 0h1m3 0h1m22 0h1m19 0h1m5 0h1m3 0h2m1 0h1m4 0h1m5 0h3m1 0h1m1 0h1m2 0h1M38 512.5h2m1 0h1m11 0h1m13 0h1m74 0h2m8 0h1m54 0h5m1 0h3m1 0h1m7 0h1m3 0h1m2 0h3m5 0h1m4 0h2m2 0h1m7 0h1m3 0h1m5 0h1m2 0h1m1 0h1m2 0h1m6 0h1m1 0h1m2 0h1m4 0h2m15 0h1m4 0h1m1 0h1m1 0h1m17 0h1m47 0h1m4 0h1m2 0h1m3 0h1m11 0h1m2 0h1m5 0h1m4 0h1m2 0h1m1 0h1m19 0h2m4 0h1m3 0h1m2 0h1m1 0h3m1 0h1m2 0h1M34 513.5h1m2 0h1m1 0h1m1 0h1m14 0h1m11 0h1m75 0h1m9 0h1m1 0h1m42 0h1m1 0h3m4 0h2m1 0h3m1 0h2m10 0h3m1 0h3m2 0h1m3 0h1m1 0h1m2 0h1m12 0h1m5 0h1m1 0h1m3 0h1m1 0h3m1 0h3m6 0h1m6 0h1m10 0h1m7 0h1m1 0h2m4 0h1m10 0h1m22 0h1m3 0h1m26 0h3m3 0h1m17 0h1m6 0h1m8 0h1m11 0h1m1 0h2m10 0h4m8 0h1m2 0h3m2 0h1M18 514.5h1m3 0h1m9 0h3m1 0h7m1 0h1m14 0h2m3 0h1m75 0h1m6 0h1m2 0h1m53 0h1m1 0h3m2 0h3m1 0h2m12 0h7m1 0h1m7 0h2m8 0h2m4 0h2m2 0h1m4 0h4m3 0h2m1 0h1m2 0h1m4 0h1m1 0h1m3 0h1m10 0h1m2 0h1m1 0h1m3 0h1m7 0h1m8 0h1m2 0h1m24 0h1m26 0h1m2 0h1m12 0h1m24 0h1m9 0h1m9 0h4m2 0h1m1 0h2m8 0h1m6 0h3M29 515.5h1m6 0h1m1 0h1m1 0h2m17 0h1m13 0h1m66 0h1m1 0h1m10 0h1m43 0h1m2 0h1m2 0h1m3 0h2m1 0h1m1 0h3m13 0h2m4 0h1m1 0h1m2 0h1m5 0h1m8 0h2m4 0h1m3 0h1m1 0h1m2 0h1m1 0h3m5 0h1m9 0h3m2 0h1m10 0h1m4 0h1m8 0h2m1 0h1m10 0h3m19 0h1m5 0h1m22 0h1m1 0h1m2 0h2m10 0h1m33 0h1m3 0h2m7 0h4m3 0h2m10 0h2m6 0h1M19 516.5h1m15 0h3m1 0h3m3 0h1m14 0h3m78 0h1m1 0h1m4 0h1m5 0h1m2 0h1m40 0h1m9 0h1m1 0h1m1 0h3m2 0h1m9 0h2m4 0h3m19 0h2m2 0h1m1 0h3m1 0h7m1 0h3m12 0h1m3 0h1m3 0h1m12 0h3m7 0h2m3 0h1m1 0h1m7 0h1m11 0h1m6 0h1m5 0h1m1 0h1m10 0h1m13 0h2m2 0h1m3 0h1m20 0h1m22 0h1m5 0h3m2 0h1m1 0h1m16 0h1m3 0h2M21 517.5h1m14 0h2m7 0h1m14 0h1m136 0h1m6 0h1m1 0h1m1 0h1m17 0h7m2 0h1m4 0h1m4 0h1m14 0h2m3 0h3m1 0h3m16 0h1m1 0h1m16 0h1m8 0h1m2 0h2m5 0h1m4 0h2m23 0h1m1 0h1m1 0h1m21 0h1m39 0h1m23 0h1m6 0h1M21 518.5h1m11 0h1m1 0h4m1 0h1m3 0h1m2 0h1m13 0h1m1 0h1m140 0h3m16 0h3m1 0h2m4 0h1m1 0h1m25 0h3m1 0h1m1 0h1m1 0h3m3 0h1m15 0h1m1 0h3m11 0h1m9 0h1m1 0h1m10 0h1m5 0h1m20 0h1m26 0h1m1 0h1m6 0h1m11 0h1m29 0h2m3 0h1m17 0h1m16 0h1M33 519.5h2m1 0h1m1 0h1m2 0h1m16 0h1m1 0h2m90 0h1m57 0h1m15 0h3m1 0h1m2 0h1m1 0h1m4 0h1m18 0h1m5 0h1m1 0h2m1 0h3m21 0h1m2 0h1m15 0h2m8 0h1m10 0h1m38 0h2m10 0h2m5 0h1m14 0h1m12 0h1m6 0h1m4 0h1m9 0h1m3 0h2m2 0h1M33 520.5h1m1 0h2m1 0h2m1 0h1m2 0h1m7 0h1m2 0h1m7 0h1m140 0h2m1 0h2m2 0h5m9 0h5m1 0h1m3 0h1m4 0h1m22 0h1m2 0h1m1 0h3m1 0h1m3 0h1m2 0h1m14 0h2m10 0h1m6 0h1m3 0h1m5 0h1m3 0h2m1 0h1m1 0h1m1 0h1m3 0h1m29 0h4m7 0h1m2 0h1m1 0h2m2 0h1m38 0h1m2 0h1m1 0h3m1 0h2m1 0h1m1 0h1m1 0h1m2 0h2m1 0h2m1 0h1m1 0h1m14 0h1m1 0h1M35 521.5h1m1 0h2m2 0h1m6 0h1m3 0h1m2 0h1m13 0h1m80 0h1m55 0h2m3 0h1m1 0h2m1 0h1m3 0h1m3 0h1m1 0h1m1 0h1m9 0h1m3 0h1m14 0h2m3 0h1m1 0h1m1 0h2m1 0h1m20 0h2m2 0h1m10 0h1m4 0h1m16 0h1m6 0h1m2 0h1m3 0h1m7 0h1m14 0h1m12 0h1m4 0h2m36 0h1m9 0h1m2 0h2m3 0h1m2 0h1m29 0h1M32 522.5h7m1 0h2m15 0h3m1 0h1m4 0h1m82 0h1m53 0h1m1 0h1m7 0h4m2 0h1m7 0h1m1 0h2m4 0h1m8 0h1m9 0h2m10 0h1m14 0h1m10 0h1m1 0h1m18 0h1m7 0h1m1 0h2m1 0h1m3 0h5m1 0h1m32 0h2m8 0h3m2 0h2m26 0h1m2 0h1m1 0h1m8 0h2m5 0h4m4 0h1m1 0h1m4 0h1m2 0h2m2 0h1m6 0h1m12 0h1"/>
<path stroke="#ffff00" fill="none" d="M239 316.5h7m2 0h9m2 0h1m4 0h1m22 0h1m2 0h1m1 0h1m4 0h10m1 0h6m2 0h1m2 0h1m1 0h6m1 0h5m1 0h13m3 0h1m1 0h1m3 0h2m1 0h3m1 0h1m2 0h7m1 0h1m42 0h1m1 0h1m8 0h1m1 0h1m1 0h4m1 0h6m1 0h1m1 0h11m3 0h1m2 0h13M237 317.5h10m1 0h8m1 0h1m1 0h1m2 0h2m5 0h1m14 0h2m1 0h1m1 0h1m2 0h11m4 0h1m2 0h1m1 0h7m1 0h27m4 0h1m1 0h1m4 0h3m1 0h2m1 0h2m1 0h7m37 0h2m2 0h1m1 0h2m1 0h1m3 0h1m1 0h1m2 0h11m1 0h1m1 0h2m1 0h2m1 0h6m1 0h2m5 0h9m1 0h2M234 318.5h1m1 0h1m1 0h1m2 0h4m1 0h1m1 0h10m2 0h2m1 0h6m17 0h1m2 0h1m1 0h1m5 0h2m1 0h4m1 0h1m1 0h6m3 0h8m1 0h10m1 0h12m1 0h2m2 0h1m1 0h1m1 0h4m2 0h1m1 0h1m3 0h2m1 0h4m38 0h1m4 0h1m8 0h2m1 0h1m3 0h11m1 0h4m1 0h7m2 0h1m2 0h7m1 0h4M236 319.5h2m2 0h1m2 0h4m1 0h11m2 0h4m1 0h1m5 0h1m16 0h1m2 0h10m1 0h7m1 0h8m2 0h31m1 0h1m1 0h6m3 0h3m1 0h7m1 0h1m32 0h1m9 0h1m5 0h1m3 0h5m1 0h1m4 0h2m1 0h4m2 0h3m1 0h2m1 0h1m1 0h1m1 0h2m1 0h2m2 0h9M235 320.5h2m3 0h3m2 0h1m3 0h1m1 0h4m2 0h3m1 0h5m20 0h1m5 0h3m4 0h8m1 0h6m2 0h38m1 0h3m2 0h6m1 0h2m1 0h3m1 0h2m42 0h3m8 0h3m1 0h1m4 0h1m1 0h2m1 0h1m1 0h3m2 0h2m2 0h1m3 0h3m1 0h1m3 0h2m1 0h1m2 0h3M236 321.5h1m1 0h1m3 0h1m2 0h1m3 0h4m1 0h2m2 0h4m1 0h3m1 0h1m2 0h1m15 0h2m1 0h1m2 0h1m1 0h2m2 0h1m1 0h10m1 0h1m1 0h5m1 0h19m1 0h11m1 0h3m1 0h9m1 0h3m1 0h4m1 0h3m43 0h1m1 0h1m6 0h2m2 0h2m1 0h1m1 0h1m1 0h1m1 0h1m2 0h1m1 0h3m5 0h1m1 0h11m1 0h2m2 0h1m1 0h1M237 322.5h1m2 0h1m1 0h5m4 0h1m4 0h1m1 0h9m1 0h1m16 0h1m2 0h1m2 0h4m2 0h3m1 0h4m1 0h4m1 0h1m1 0h13m1 0h12m1 0h1m1 0h6m1 0h3m4 0h3m1 0h8m1 0h1m2 0h1m1 0h1m45 0h2m6 0h4m1 0h4m1 0h4m1 0h2m1 0h1m1 0h1m8 0h1m1 0h2m2 0h2m1 0h3m1 0h2m1 0h2M236 323.5h1m1 0h3m3 0h3m8 0h1m2 0h3m1 0h1m1 0h2m1 0h1m1 0h1m19 0h11m2 0h12m1 0h21m4 0h6m1 0h4m4 0h4m1 0h2m1 0h5m1 0h3m3 0h2m1 0h1m49 0h2m1 0h2m2 0h1m4 0h1m1 0h4m3 0h1m2 0h1m3 0h1m3 0h3m2 0h1m3 0h1M81 324.5h1m157 0h1m19 0h2m25 0h1m4 0h18m1 0h22m1 0h2m6 0h5m1 0h4m1 0h2m1 0h1m1 0h1m4 0h6m1 0h4m3 0h1m3 0h1m36 0h1m2 0h1m2 0h1m4 0h1m1 0h5m4 0h1m1 0h1m4 0h1m4 0h1m5 0h2m4 0h2m9 0h2M236 325.5h1m1 0h2m1 0h2m16 0h1m5 0h1m1 0h1m23 0h13m1 0h27m10 0h4m2 0h5m1 0h1m1 0h1m4 0h1m1 0h5m2 0h3m1 0h1m1 0h1m3 0h1m30 0h1m10 0h1m4 0h5m1 0h8m3 0h1m3 0h1m5 0h1m3 0h1m1 0h1m3 0h1m1 0h1m1 0h1M58 326.5h1m18 0h1m157 0h4m1 0h1m2 0h1m12 0h1m2 0h1m28 0h3m1 0h5m1 0h5m1 0h18m1 0h2m1 0h2m1 0h1m1 0h4m4 0h1m1 0h5m2 0h3m3 0h1m2 0h3m3 0h2m2 0h1m1 0h2m3 0h1m43 0h1m3 0h1m1 0h1m2 0h3m1 0h2m1 0h1m1 0h2m1 0h4m6 0h1m1 0h2m5 0h3m1 0h1m3 0h1m2 0h1M228 327.5h2m1 0h1m6 0h5m4 0h1m35 0h1m6 0h7m1 0h11m1 0h11m1 0h1m3 0h5m1 0h5m1 0h1m1 0h4m1 0h2m2 0h1m1 0h3m2 0h2m3 0h2m1 0h1m2 0h1m11 0h1m31 0h1m3 0h1m1 0h1m7 0h1m1 0h2m2 0h7m1 0h4m3 0h3m2 0h2m1 0h2m1 0h2m1 0h1m2 0h2M225 328.5h1m12 0h3m1 0h1m45 0h1m2 0h7m2 0h2m2 0h2m1 0h15m2 0h4m1 0h8m2 0h4m1 0h5m2 0h1m4 0h2m1 0h1m3 0h2m2 0h1m6 0h1m38 0h1m17 0h10m2 0h2m1 0h1m3 0h1m2 0h4m1 0h1m2 0h2m4 0h1m7 0h1M221 329.5h1m3 0h1m12 0h2m2 0h1m42 0h1m2 0h1m1 0h10m1 0h3m1 0h18m1 0h1m1 0h1m1 0h8m2 0h6m2 0h4m1 0h1m1 0h1m2 0h1m15 0h1m40 0h1m17 0h2m1 0h5m1 0h1m1 0h1m2 0h1m1 0h1m2 0h2m6 0h2m1 0h3m1 0h1m4 0h1m2 0h1M61 330.5h1m155 0h2m1 0h1m1 0h1m15 0h1m46 0h1m1 0h1m1 0h2m1 0h2m1 0h3m1 0h3m2 0h33m1 0h9m1 0h3m3 0h1m1 0h1m2 0h1m1 0h2m10 0h1m43 0h1m4 0h2m6 0h5m1 0h6m3 0h2m3 0h3m1 0h2m2 0h1m1 0h6M59 331.5h1m179 0h1m1 0h1m2 0h2m39 0h2m2 0h2m1 0h5m1 0h1m5 0h26m1 0h1m1 0h2m2 0h5m1 0h2m2 0h1m1 0h1m2 0h1m4 0h1m1 0h2m1 0h1m2 0h1m51 0h1m1 0h2m6 0h1m3 0h6m2 0h7m2 0h1m1 0h3m1 0h2m1 0h2m2 0h4m5 0h1m1 0h1M73 332.5h1m14 0h1m199 0h7m1 0h3m1 0h1m1 0h1m1 0h1m1 0h10m1 0h14m2 0h1m2 0h5m1 0h1m2 0h2m6 0h1m2 0h1m62 0h1m1 0h4m2 0h1m1 0h1m1 0h2m1 0h3m1 0h1m2 0h2m1 0h4m1 0h1m3 0h1m4 0h1m1 0h5m1 0h1M72 333.5h1m140 0h2m67 0h1m3 0h2m1 0h2m1 0h4m1 0h1m1 0h4m1 0h9m1 0h14m1 0h3m1 0h3m2 0h1m1 0h1m1 0h2m2 0h1m1 0h1m1 0h4m3 0h2m57 0h1m1 0h2m1 0h4m1 0h1m2 0h1m2 0h1m3 0h11m7 0h1m1 0h1m4 0h2m1 0h1m7 0h1M63 334.5h1m15 0h1m207 0h9m3 0h6m1 0h6m1 0h13m1 0h1m1 0h3m1 0h1m9 0h1m1 0h1m2 0h1m1 0h3m5 0h2m58 0h2m3 0h4m8 0h1m3 0h3m2 0h2m1 0h5m1 0h2m1 0h3m1 0h2m2 0h1m1 0h1M208 335.5h1m76 0h1m2 0h9m1 0h3m2 0h2m1 0h5m1 0h5m1 0h3m1 0h2m1 0h4m4 0h1m2 0h1m2 0h1m1 0h1m2 0h2m7 0h3m2 0h1m59 0h3m1 0h5m5 0h1m6 0h1m1 0h2m1 0h4m1 0h1m2 0h1m4 0h8m2 0h1M206 336.5h1m82 0h2m1 0h3m5 0h1m3 0h1m2 0h2m1 0h4m1 0h1m1 0h3m1 0h8m1 0h1m4 0h1m3 0h1m11 0h2m4 0h1m2 0h1m57 0h4m1 0h1m1 0h2m12 0h1m2 0h5m2 0h1m10 0h1m2 0h2M60 337.5h1m14 0h1m129 0h1m82 0h1m1 0h2m4 0h2m1 0h1m4 0h1m3 0h4m2 0h2m2 0h1m1 0h5m3 0h2m5 0h1m2 0h1m2 0h1m2 0h1m6 0h1m68 0h1m5 0h1m3 0h1m7 0h2m6 0h1m1 0h1m11 0h3m2 0h1m3 0h1M70 338.5h1m7 0h1m123 0h2m84 0h2m3 0h2m1 0h2m6 0h4m6 0h1m1 0h2m1 0h1m3 0h2m2 0h1m20 0h2m7 0h1m62 0h2m5 0h1m18 0h1m12 0h1M77 339.5h1m208 0h1m4 0h1m3 0h3m3 0h1m2 0h1m2 0h1m5 0h1m2 0h4m1 0h1m6 0h1m4 0h1m1 0h1m6 0h1m8 0h1m2 0h1m63 0h3m5 0h1m1 0h1m10 0h3m7 0h1m18 0h1M197 340.5h2m85 0h2m2 0h1m5 0h1m1 0h3m6 0h2m1 0h1m3 0h2m2 0h1m1 0h2m1 0h2m4 0h1m4 0h1m4 0h1m79 0h2m8 0h2m11 0h3m7 0h1M194 341.5h2m1 0h1m75 0h1m8 0h1m1 0h3m8 0h2m7 0h1m4 0h1m6 0h1m8 0h1m25 0h1m75 0h2m13 0h1m16 0h1m9 0h1M191 342.5h1m2 0h1m85 0h6m9 0h1m3 0h1m2 0h1m3 0h1m8 0h1m1 0h3m4 0h1m3 0h1m98 0h1m1 0h1m11 0h1m1 0h1m6 0h1M78 343.5h1m110 0h3m86 0h6m4 0h1m4 0h1m1 0h3m3 0h2m1 0h1m2 0h1m1 0h2m1 0h3m1 0h1m1 0h1m1 0h1m6 0h1m4 0h1m6 0h1m88 0h2m12 0h3M59 344.5h2m19 0h1m104 0h2m89 0h2m1 0h4m11 0h2m6 0h1m1 0h1m3 0h2m2 0h1m4 0h1m2 0h4m7 0h1m2 0h1m94 0h1m13 0h2M181 345.5h1m1 0h1m90 0h4m1 0h1m3 0h1m1 0h2m1 0h1m2 0h1m4 0h1m1 0h1m1 0h1m4 0h2m1 0h2m2 0h2m1 0h6m2 0h1m2 0h1m1 0h2m9 0h1m90 0h1m13 0h2M57 346.5h1m4 0h1m9 0h1m104 0h1m1 0h1m92 0h5m7 0h1m2 0h1m9 0h1m2 0h1m4 0h2m3 0h1m2 0h8m2 0h2m1 0h2m101 0h1m1 0h1m12 0h2M59 347.5h1m5 0h1m109 0h1m94 0h5m3 0h1m1 0h1m2 0h3m1 0h2m13 0h1m2 0h5m1 0h10m1 0h1m1 0h1m3 0h1m101 0h1m14 0h1M58 348.5h1m1 0h1m9 0h1m5 0h1m95 0h1m1 0h1m93 0h6m3 0h5m1 0h2m2 0h1m2 0h1m14 0h2m1 0h5m2 0h5m1 0h4m2 0h2m101 0h2m13 0h1m1 0h2M71 349.5h1m98 0h1m95 0h5m4 0h1m1 0h2m2 0h1m1 0h3m2 0h1m17 0h6m1 0h3m1 0h4m1 0h3m106 0h1m14 0h3M76 350.5h1m190 0h1m1 0h1m6 0h2m1 0h3m1 0h1m2 0h1m1 0h1m1 0h1m13 0h1m3 0h6m1 0h3m1 0h2m1 0h3m4 0h1m101 0h3m14 0h3M80 351.5h1m182 0h4m8 0h6m1 0h4m1 0h1m19 0h1m2 0h4m1 0h2m1 0h1m2 0h1m1 0h2m1 0h1m4 0h1m100 0h3m13 0h2M59 352.5h2m201 0h1m1 0h2m5 0h1m3 0h1m1 0h9m2 0h1m21 0h1m3 0h2m5 0h1m1 0h1m6 0h1m2 0h1m73 0h1m6 0h1m18 0h2m14 0h1M58 353.5h1m10 0h1m8 0h1m182 0h5m10 0h1m1 0h1m1 0h4m1 0h1m3 0h1m18 0h1m6 0h1m2 0h1m1 0h1m2 0h2m4 0h1m2 0h1m75 0h1m9 0h1m15 0h2m14 0h1M61 354.5h2m197 0h5m12 0h9m27 0h1m10 0h1m5 0h1m78 0h1m7 0h1m16 0h3m14 0h1m1 0h2M66 355.5h1m193 0h2m1 0h1m13 0h1m1 0h5m2 0h1m22 0h1m4 0h1m1 0h2m4 0h1m1 0h3m1 0h1m86 0h1m2 0h1m17 0h1m15 0h3M61 356.5h1m17 0h1m179 0h3m2 0h1m10 0h1m5 0h2m2 0h4m32 0h3m3 0h1m1 0h1m105 0h3m15 0h1M258 357.5h3m2 0h2m12 0h1m1 0h2m1 0h3m46 0h1m70 0h1m1 0h1m3 0h1m3 0h2m3 0h3m16 0h2m16 0h2M72 358.5h2m183 0h3m3 0h2m12 0h1m2 0h1m1 0h3m39 0h3m5 0h1m80 0h1m5 0h1m16 0h2m17 0h2M69 359.5h1m1 0h1m16 0h1m170 0h1m3 0h2m14 0h1m4 0h1m1 0h1m33 0h2m3 0h1m1 0h1m80 0h1m4 0h1m1 0h2m2 0h1m4 0h1m11 0h2m17 0h2M73 360.5h1m190 0h1m12 0h1m1 0h1m2 0h1m27 0h1m14 0h1m76 0h1m5 0h1m3 0h1m1 0h1m1 0h2m2 0h1m15 0h1m1 0h1M263 361.5h2m17 0h1m37 0h1m1 0h1m6 0h1m77 0h1m3 0h1m1 0h1m2 0h2m1 0h1m1 0h1m15 0h2m17 0h2M78 362.5h1m184 0h2m50 0h1m4 0h1m3 0h1m3 0h1m84 0h2m3 0h1m1 0h1m16 0h2m17 0h3M263 363.5h2m60 0h1m91 0h3m17 0h2m18 0h2M262 364.5h3m58 0h1m87 0h1m5 0h1m1 0h1m2 0h1m14 0h3m17 0h1M262 365.5h2m53 0h1m1 0h1m2 0h1m78 0h1m9 0h3m24 0h1m19 0h1m1 0h1M90 366.5h1m171 0h2m53 0h4m93 0h1m1 0h1m41 0h1m1 0h1M65 367.5h1m19 0h1m176 0h2m57 0h1m93 0h1m2 0h1m2 0h1M58 368.5h1m204 0h1m51 0h1m3 0h1m87 0h1m11 0h1M85 369.5h1m176 0h2m47 0h1m99 0h1m4 0h1m4 0h1M58 370.5h1m202 0h3m51 0h1m3 0h1m81 0h1m3 0h1m3 0h1m2 0h1m2 0h1m1 0h1M307 371.5h1m13 0h1m1 0h2m83 0h1m3 0h1M261 372.5h1m47 0h1m1 0h1m6 0h1m3 0h1m10 0h2m1 0h1m68 0h1m7 0h1M61 373.5h1m29 0h1m169 0h2M261 374.5h2m39 0h1m18 0h1m3 0h1m1 0h1m1 0h1m2 0h1m3 0h2m65 0h1m7 0h2M261 375.5h2m54 0h1m6 0h3m1 0h1m8 0h2m18 0h3m52 0h1m1 0h1m3 0h1M54 376.5h1m206 0h2m34 0h1m1 0h2m1 0h2m4 0h2m7 0h1m8 0h1m2 0h1m4 0h1m1 0h1m2 0h2m18 0h1m51 0h1m1 0h1M58 377.5h1m236 0h1m1 0h2m1 0h1m2 0h2m1 0h1m1 0h1m3 0h1m12 0h1m3 0h1m3 0h1m1 0h1m1 0h1m2 0h1m15 0h1m1 0h1M299 378.5h3m4 0h2m1 0h1m1 0h3m13 0h1m8 0h3m1 0h1m15 0h2m48 0h1M291 379.5h1m3 0h1m3 0h1m1 0h1m1 0h1m1 0h3m1 0h3m16 0h2m5 0h3m1 0h2m14 0h1m1 0h1m60 0h1m6 0h1m5 0h1M296 380.5h2m1 0h1m1 0h3m1 0h1m2 0h1m1 0h2m2 0h1m18 0h6m3 0h1m11 0h2M296 381.5h1m1 0h1m1 0h2m1 0h5m1 0h1m1 0h1m1 0h2m22 0h3m1 0h1m12 0h1m80 0h1M48 382.5h1m246 0h6m4 0h1m2 0h4m1 0h1m10 0h1m1 0h1m6 0h5m14 0h3m72 0h1M42 383.5h1m248 0h1m5 0h5m1 0h1m2 0h1m1 0h2m3 0h1m2 0h1m9 0h1m2 0h3m2 0h6m11 0h4M295 384.5h1m1 0h3m1 0h2m3 0h3m1 0h1m1 0h3m1 0h1m3 0h1m1 0h1m3 0h1m2 0h1m4 0h6m10 0h2m1 0h1M39 385.5h2m20 0h1m236 0h3m5 0h1m3 0h3m1 0h3m2 0h1m4 0h1m1 0h1m2 0h1m1 0h2m1 0h2m1 0h2m11 0h3m84 0h1M296 386.5h1m1 0h1m1 0h1m3 0h2m2 0h2m1 0h2m6 0h1m1 0h1m1 0h1m1 0h2m1 0h3m1 0h1m1 0h6m1 0h1m6 0h4m74 0h1m6 0h1m2 0h1M39 387.5h2m1 0h2m253 0h6m1 0h1m2 0h5m3 0h3m3 0h1m1 0h1m3 0h2m3 0h1m1 0h1m2 0h2m8 0h4m83 0h2m1 0h1M26 388.5h1m6 0h1m10 0h1m252 0h4m4 0h1m3 0h1m1 0h2m1 0h5m1 0h4m1 0h4m1 0h1m3 0h1m7 0h1m4 0h3m81 0h2m1 0h3m3 0h1M26 389.5h1m3 0h1m1 0h1m8 0h1m2 0h1m252 0h3m3 0h1m3 0h1m2 0h1m3 0h3m1 0h1m1 0h3m4 0h3m15 0h1m1 0h2m76 0h1m4 0h2m3 0h1M29 390.5h1m8 0h1m4 0h1m254 0h1m9 0h1m5 0h1m1 0h1m2 0h1m1 0h1m1 0h2m1 0h3m16 0h3m77 0h1m8 0h3m1 0h1m4 0h1M42 391.5h1m260 0h2m4 0h1m6 0h1m1 0h4m2 0h6m14 0h1m1 0h1m78 0h1m2 0h1m1 0h4m7 0h2m5 0h1M299 392.5h1m5 0h1m1 0h2m1 0h2m2 0h1m1 0h1m1 0h3m1 0h2m2 0h1m15 0h4m81 0h1m5 0h1m1 0h5m2 0h1M32 393.5h1m264 0h2m4 0h1m3 0h2m1 0h1m1 0h1m1 0h2m2 0h2m6 0h2m13 0h3m82 0h1m4 0h1m4 0h2M302 394.5h2m3 0h1m6 0h1m1 0h2m3 0h3m2 0h2m12 0h3m88 0h4m2 0h3m4 0h1M304 395.5h1m1 0h2m3 0h1m2 0h1m1 0h1m7 0h2m4 0h2m7 0h2m93 0h1m1 0h1m1 0h1M297 396.5h2m1 0h1m6 0h3m3 0h1m2 0h1m7 0h6m2 0h1m5 0h2m93 0h1m1 0h2m1 0h1M34 397.5h1m250 0h1m3 0h1m2 0h2m3 0h2m2 0h1m14 0h1m3 0h11m2 0h1m3 0h2m1 0h1M26 398.5h1m263 0h1m1 0h1m4 0h1m4 0h1m2 0h1m1 0h1m1 0h2m1 0h1m7 0h1m1 0h1m3 0h9m95 0h1M26 399.5h1m253 0h1m9 0h1m2 0h1m1 0h1m8 0h3m1 0h1m1 0h1m2 0h2m6 0h1m1 0h1m1 0h4m1 0h2m1 0h3m4 0h1M23 400.5h1m258 0h2m10 0h1m1 0h1m7 0h1m1 0h2m1 0h1m3 0h1m2 0h1m7 0h11m1 0h1M18 401.5h1m2 0h1m261 0h4m4 0h1m1 0h2m7 0h1m1 0h3m6 0h1m1 0h2m1 0h1m5 0h6m1 0h1m1 0h2M273 402.5h1m9 0h1m15 0h1m2 0h1m1 0h2m1 0h1m4 0h1m2 0h1m2 0h1m1 0h1m3 0h8m1 0h1M26 403.5h1m254 0h3m3 0h1m1 0h1m7 0h1m17 0h3m6 0h1m1 0h1m1 0h6M264 404.5h2m2 0h1m11 0h1m1 0h4m1 0h1m17 0h1m6 0h1m3 0h2m5 0h2m1 0h9m5 0h1m1 0h1M273 405.5h1m8 0h1m4 0h2m9 0h1m14 0h1m1 0h1m1 0h1m1 0h4m4 0h4m1 0h1m4 0h2m4 0h1M272 406.5h1m1 0h1m7 0h3m1 0h2m6 0h1m18 0h3m3 0h2m2 0h1m3 0h7m2 0h1M263 407.5h1m5 0h1m2 0h1m4 0h1m1 0h1m1 0h7m6 0h1m1 0h1m2 0h1m3 0h1m3 0h1m6 0h1m3 0h2m13 0h1m2 0h1m3 0h1M273 408.5h1m3 0h1m1 0h6m3 0h1m3 0h1m11 0h1m9 0h1m1 0h2m1 0h2m2 0h1m5 0h5m1 0h2m3 0h2M275 409.5h1m4 0h7m1 0h1m2 0h1m8 0h1m3 0h1m2 0h1m2 0h1m2 0h3m1 0h3m1 0h2m5 0h1m1 0h1m1 0h5m29 0h1M250 410.5h1m1 0h1m14 0h1m1 0h1m3 0h1m3 0h2m1 0h3m1 0h4m5 0h1m1 0h1m1 0h1m7 0h1m1 0h3m1 0h2m2 0h4m2 0h3m2 0h1m1 0h4m1 0h1m30 0h3M256 411.5h1m6 0h1m3 0h1m5 0h1m2 0h1m1 0h10m8 0h1m10 0h1m2 0h2m1 0h7m1 0h1m1 0h2m2 0h1m1 0h2m1 0h1m1 0h1m2 0h1M261 412.5h1m4 0h1m8 0h1m1 0h8m1 0h3m5 0h2m11 0h3m1 0h3m1 0h1m3 0h3m2 0h3m1 0h3m3 0h2m28 0h1M248 413.5h1m2 0h2m1 0h1m1 0h1m5 0h1m1 0h1m4 0h1m5 0h2m1 0h1m1 0h8m2 0h1m3 0h2m4 0h1m11 0h3m1 0h1m1 0h1m1 0h6m1 0h4m1 0h1m1 0h1m1 0h1m25 0h3M27 414.5h1m1 0h1m224 0h1m7 0h1m1 0h1m2 0h2m4 0h1m3 0h1m1 0h7m4 0h1m2 0h1m1 0h1m5 0h1m8 0h3m1 0h1m4 0h11m2 0h3m26 0h1M251 415.5h2m1 0h1m1 0h1m8 0h2m1 0h1m7 0h2m1 0h1m1 0h3m1 0h4m6 0h1m6 0h2m3 0h1m2 0h1m4 0h1m4 0h1m2 0h1m2 0h1m1 0h1m3 0h3m25 0h1m1 0h1M66 416.5h2m177 0h1m8 0h1m4 0h1m2 0h1m1 0h1m1 0h1m4 0h2m1 0h1m3 0h6m2 0h1m4 0h1m1 0h1m1 0h1m1 0h1m9 0h1m16 0h1m3 0h1m1 0h2m6 0h2m20 0h2M67 417.5h2m190 0h1m2 0h2m3 0h1m2 0h4m3 0h1m1 0h1m1 0h8m6 0h1m11 0h1m2 0h1m5 0h1m4 0h2m1 0h2m33 0h2M67 418.5h3m189 0h1m1 0h1m5 0h3m1 0h2m2 0h2m1 0h5m2 0h2m1 0h1m1 0h2m2 0h1m1 0h1m2 0h2m5 0h1m15 0h2m9 0h1m25 0h1M68 419.5h3m178 0h1m7 0h4m1 0h1m2 0h9m2 0h5m4 0h6m2 0h1m21 0h3m1 0h1m1 0h1m2 0h3m31 0h2M69 420.5h3m178 0h2m2 0h1m2 0h13m1 0h3m3 0h2m1 0h2m2 0h3m1 0h1m1 0h1m1 0h1m23 0h1m1 0h1m5 0h1m32 0h1M70 421.5h2m176 0h4m1 0h1m2 0h1m1 0h1m1 0h3m1 0h1m1 0h2m1 0h1m1 0h6m2 0h3m1 0h1m3 0h1m4 0h1m1 0h1m1 0h1m1 0h2m18 0h2m5 0h1m2 0h1m29 0h1M72 422.5h1m161 0h1m8 0h1m3 0h1m1 0h1m2 0h1m2 0h2m1 0h4m1 0h1m4 0h2m3 0h2m1 0h10m1 0h6m2 0h2m5 0h1m10 0h2m4 0h2m1 0h1m2 0h1m30 0h2m28 0h1m1 0h4M72 423.5h2m148 0h1m9 0h1m1 0h2m4 0h1m5 0h4m4 0h3m2 0h5m2 0h1m1 0h2m2 0h2m1 0h1m2 0h1m1 0h4m4 0h3m2 0h1m5 0h1m6 0h2m12 0h1m1 0h1m32 0h1m20 0h3m1 0h1m1 0h3m2 0h1m3 0h1M73 424.5h2m162 0h1m8 0h2m1 0h3m2 0h4m1 0h5m4 0h1m1 0h2m2 0h4m1 0h3m2 0h2m1 0h3m1 0h1m2 0h1m1 0h1m7 0h1m7 0h1m1 0h1m1 0h1m1 0h2m35 0h2m13 0h1m1 0h2m3 0h1m1 0h3M73 425.5h1m1 0h1m158 0h1m8 0h1m4 0h4m4 0h8m2 0h1m2 0h2m2 0h2m4 0h1m2 0h1m1 0h1m2 0h2m2 0h1m2 0h1m1 0h2m1 0h1m2 0h1m8 0h1m1 0h1m1 0h2m37 0h2m15 0h1M74 426.5h2m153 0h1m4 0h3m8 0h5m1 0h2m4 0h1m1 0h3m2 0h11m3 0h1m1 0h2m1 0h2m1 0h2m6 0h2m2 0h1m2 0h1m8 0h6m1 0h3m6 0h2m26 0h1M237 427.5h1m7 0h1m1 0h3m4 0h2m1 0h1m2 0h10m1 0h1m1 0h1m3 0h1m1 0h3m1 0h3m1 0h1m2 0h1m2 0h1m1 0h1m2 0h1m10 0h3m1 0h2m1 0h1m1 0h1m2 0h1m32 0h1M80 428.5h2m149 0h3m8 0h1m3 0h1m1 0h7m1 0h16m1 0h1m1 0h3m4 0h2m3 0h2m1 0h1m4 0h2m2 0h1m2 0h1m9 0h1m1 0h1m1 0h1m8 0h1M80 429.5h1m1 0h1m132 0h1m15 0h1m2 0h1m7 0h1m2 0h5m1 0h13m1 0h3m1 0h2m1 0h3m4 0h1m2 0h5m3 0h1m5 0h2m3 0h2m13 0h1m1 0h1M82 430.5h4m140 0h1m1 0h1m3 0h1m1 0h1m8 0h13m5 0h10m2 0h1m7 0h2m3 0h1m7 0h1m1 0h1m1 0h1m1 0h1m8 0h1m1 0h1m2 0h1m3 0h2M83 431.5h2m1 0h1m139 0h2m1 0h1m3 0h1m8 0h9m1 0h5m3 0h1m3 0h1m1 0h6m1 0h1m3 0h1m5 0h1m2 0h2m8 0h1m2 0h3m11 0h1m2 0h3M85 432.5h2m1 0h1m109 0h1m13 0h1m15 0h1m1 0h1m1 0h3m1 0h1m3 0h2m2 0h5m1 0h2m1 0h4m4 0h1m1 0h3m2 0h2m1 0h2m6 0h1m4 0h1m4 0h1m3 0h1m2 0h1m2 0h5m2 0h1m10 0h1m1 0h1m10 0h1M87 433.5h1m1 0h1m105 0h2m1 0h1m13 0h1m9 0h1m6 0h1m7 0h2m3 0h3m1 0h3m1 0h2m1 0h3m4 0h2m2 0h4m2 0h1m1 0h1m2 0h1m1 0h1m1 0h1m11 0h1m1 0h1m4 0h1m1 0h3m2 0h1m10 0h1m2 0h1M88 434.5h2m1 0h1m104 0h4m7 0h1m3 0h1m1 0h2m3 0h1m1 0h1m7 0h1m8 0h1m5 0h2m1 0h2m2 0h2m3 0h1m2 0h1m4 0h2m1 0h1m1 0h1m8 0h2m4 0h1m9 0h3m2 0h3m1 0h1m17 0h1m1 0h1M90 435.5h2m101 0h1m1 0h6m7 0h1m5 0h1m2 0h1m14 0h1m8 0h1m1 0h4m3 0h2m2 0h1m1 0h1m5 0h1m3 0h4m12 0h1m4 0h1m1 0h1m1 0h1m2 0h3m1 0h1m1 0h5m10 0h1m1 0h1m2 0h1M90 436.5h1m71 0h1m25 0h1m8 0h1m1 0h1m7 0h2m1 0h1m1 0h2m2 0h1m6 0h1m2 0h1m2 0h1m1 0h4m7 0h1m1 0h4m3 0h1m5 0h1m5 0h2m22 0h5m5 0h1m2 0h3m1 0h1m5 0h2m3 0h1m6 0h1m1 0h1M186 437.5h1m8 0h2m1 0h3m3 0h1m1 0h1m1 0h2m2 0h7m2 0h1m2 0h1m3 0h1m1 0h1m3 0h3m2 0h1m1 0h4m1 0h1m2 0h3m2 0h1m13 0h1m6 0h1m1 0h4m4 0h2m4 0h2m1 0h1m1 0h1m3 0h2m6 0h2m10 0h3m6 0h2m6 0h1M90 438.5h1m104 0h5m2 0h1m1 0h1m1 0h3m1 0h4m1 0h5m1 0h2m8 0h1m1 0h1m1 0h2m1 0h1m5 0h1m1 0h1m19 0h1m13 0h1m1 0h3m1 0h2m1 0h1m2 0h5m3 0h2m8 0h1m24 0h5M90 439.5h1m106 0h1m1 0h4m1 0h2m1 0h1m1 0h1m1 0h4m1 0h4m1 0h2m3 0h1m1 0h2m1 0h8m1 0h1m4 0h1m17 0h1m1 0h2m10 0h1m8 0h4m1 0h1m1 0h1m4 0h1m1 0h1m2 0h1m13 0h1m2 0h1m1 0h1m10 0h3m1 0h2m120 0h1M179 440.5h1m3 0h1m1 0h2m10 0h3m4 0h1m5 0h2m2 0h1m1 0h4m2 0h1m3 0h1m6 0h2m2 0h1m2 0h1m1 0h1m42 0h1m1 0h1m3 0h1m1 0h2m1 0h1m2 0h2m18 0h1m11 0h2m2 0h1m109 0h1M167 441.5h2m16 0h2m2 0h1m3 0h1m3 0h5m1 0h2m1 0h1m1 0h1m3 0h8m9 0h3m1 0h1m2 0h1m48 0h1m1 0h2m2 0h1m2 0h1m1 0h1m1 0h1m1 0h1m10 0h1m3 0h1m9 0h1m3 0h5m123 0h1m6 0h1M158 442.5h1m8 0h2m8 0h1m7 0h2m5 0h2m1 0h9m2 0h10m3 0h2m1 0h1m2 0h1m1 0h2m2 0h3m3 0h3m1 0h2m10 0h1m32 0h2m4 0h1m1 0h1m4 0h2m24 0h5m1 0h1m115 0h1M90 443.5h1m72 0h1m18 0h3m3 0h2m1 0h12m7 0h7m1 0h5m2 0h1m1 0h1m1 0h2m1 0h3m2 0h5m42 0h1m1 0h2m2 0h1m1 0h5m1 0h1m13 0h1m9 0h3m1 0h4m126 0h1m4 0h1m6 0h1m6 0h1M89 444.5h2m74 0h2m3 0h1m11 0h1m2 0h1m5 0h2m1 0h6m1 0h4m1 0h2m1 0h2m1 0h5m3 0h6m3 0h3m1 0h1m5 0h1m2 0h2m45 0h5m1 0h2m22 0h3m1 0h4m122 0h1m4 0h1m1 0h1m2 0h1m9 0h1M90 445.5h1m74 0h1m11 0h4m1 0h2m1 0h1m1 0h8m1 0h7m4 0h1m1 0h5m1 0h3m1 0h1m8 0h3m1 0h1m2 0h1m1 0h1m3 0h2m2 0h1m38 0h2m1 0h2m4 0h1m2 0h1m20 0h7m8 0h1m117 0h2m4 0h4m1 0h1m5 0h1m1 0h1M89 446.5h2m62 0h1m2 0h1m2 0h2m1 0h2m14 0h3m2 0h4m1 0h1m2 0h1m2 0h1m2 0h1m1 0h1m2 0h3m2 0h10m1 0h2m1 0h2m1 0h2m1 0h1m1 0h2m2 0h3m5 0h3m3 0h1m29 0h1m2 0h1m7 0h2m4 0h1m4 0h1m12 0h1m4 0h4m131 0h1m3 0h1m1 0h1m1 0h1m1 0h1m2 0h1m7 0h1M90 447.5h1m29 0h1m36 0h6m10 0h1m4 0h6m1 0h2m1 0h3m2 0h1m1 0h5m1 0h1m2 0h12m1 0h2m4 0h5m1 0h2m1 0h1m1 0h1m2 0h1m1 0h1m1 0h2m2 0h3m27 0h1m9 0h1m2 0h1m24 0h1m137 0h1m4 0h2m1 0h3m5 0h1m2 0h1m1 0h1M89 448.5h2m31 0h1m35 0h2m12 0h1m6 0h2m1 0h2m1 0h3m1 0h4m1 0h2m1 0h1m3 0h1m1 0h1m1 0h12m1 0h2m2 0h1m5 0h1m4 0h2m2 0h2m5 0h2m29 0h1m3 0h1m1 0h2m1 0h1m1 0h1m1 0h1m2 0h1m1 0h1m160 0h2m1 0h1m3 0h1m6 0h1m3 0h2M157 449.5h5m1 0h1m2 0h3m1 0h1m1 0h5m2 0h17m3 0h1m4 0h1m1 0h10m2 0h1m4 0h1m4 0h1m1 0h1m1 0h1m3 0h1m1 0h1m2 0h2m1 0h1m32 0h1m2 0h7m160 0h1m2 0h1m1 0h1m1 0h3m1 0h1m2 0h2m2 0h2M157 450.5h1m3 0h1m5 0h2m1 0h3m1 0h1m1 0h3m1 0h13m1 0h2m1 0h1m3 0h2m1 0h18m2 0h3m2 0h1m1 0h2m4 0h1m1 0h3m1 0h2m2 0h1m16 0h1m10 0h1m4 0h1m1 0h1m167 0h5m3 0h1m1 0h2m7 0h1m3 0h1M119 451.5h1m4 0h1m33 0h1m1 0h1m1 0h1m5 0h1m1 0h2m1 0h6m1 0h6m1 0h6m2 0h1m2 0h1m5 0h21m1 0h2m2 0h2m1 0h2m2 0h3m1 0h1m4 0h1m4 0h1m24 0h1m1 0h1m3 0h4m11 0h1m154 0h4m1 0h1m5 0h1m7 0h1m3 0h1M122 452.5h1m34 0h1m1 0h1m3 0h1m3 0h2m1 0h1m1 0h4m4 0h13m7 0h1m1 0h19m1 0h2m2 0h1m1 0h2m1 0h2m2 0h1m3 0h3m38 0h2m2 0h2m2 0h2m1 0h1m153 0h2m3 0h2m1 0h5m1 0h2m3 0h1m6 0h1m2 0h1M122 453.5h1m5 0h1m31 0h2m1 0h2m2 0h4m1 0h3m5 0h3m1 0h8m2 0h3m2 0h2m1 0h1m1 0h2m2 0h1m1 0h8m1 0h3m1 0h1m1 0h1m2 0h1m2 0h1m1 0h1m1 0h3m1 0h1m8 0h1m9 0h1m2 0h1m18 0h1m1 0h5m164 0h5m2 0h1m13 0h4M122 454.5h1m3 0h1m31 0h1m1 0h1m3 0h1m2 0h4m1 0h1m10 0h2m1 0h2m1 0h3m1 0h1m1 0h3m6 0h2m2 0h14m4 0h5m2 0h1m2 0h2m15 0h1m4 0h1m1 0h1m5 0h1m10 0h1m2 0h2m1 0h3m7 0h1m24 0h1m129 0h1m4 0h1m12 0h1m4 0h3m1 0h1M126 455.5h2m33 0h1m1 0h1m1 0h2m1 0h2m1 0h2m3 0h2m2 0h7m2 0h4m1 0h1m2 0h1m1 0h1m3 0h2m1 0h17m4 0h5m1 0h4m24 0h1m1 0h1m16 0h11m28 0h1m133 0h2m1 0h2m1 0h1m10 0h1m3 0h2M119 456.5h2m44 0h1m1 0h4m4 0h1m4 0h1m3 0h1m1 0h5m1 0h2m1 0h1m1 0h1m3 0h2m2 0h1m2 0h12m1 0h1m2 0h1m3 0h9m5 0h1m19 0h1m1 0h1m3 0h1m9 0h2m1 0h4m1 0h3m29 0h2m136 0h1m2 0h1m4 0h1m3 0h1m3 0h2m1 0h1M121 457.5h4m3 0h1m33 0h1m2 0h1m1 0h3m5 0h1m7 0h1m4 0h2m2 0h2m4 0h1m4 0h1m4 0h9m2 0h1m6 0h6m2 0h2m15 0h1m1 0h1m7 0h1m1 0h1m2 0h2m9 0h1m2 0h8m33 0h1m1 0h3m122 0h3m2 0h1m5 0h1m2 0h1m1 0h1m1 0h1m5 0h4M55 458.5h1m61 0h2m4 0h2m1 0h1m3 0h1m28 0h1m2 0h1m1 0h3m6 0h1m1 0h1m2 0h3m5 0h1m1 0h1m3 0h1m3 0h2m1 0h1m5 0h1m2 0h9m6 0h5m1 0h1m1 0h5m14 0h1m2 0h3m6 0h1m1 0h1m1 0h1m10 0h2m1 0h11m32 0h1m3 0h2m117 0h2m4 0h1m2 0h3m1 0h1m2 0h1m1 0h2m3 0h2m1 0h1m2 0h1M54 459.5h1m68 0h2m2 0h1m5 0h1m39 0h1m9 0h1m2 0h1m1 0h2m1 0h4m1 0h4m2 0h1m4 0h1m1 0h1m1 0h5m2 0h1m6 0h5m1 0h1m1 0h3m1 0h1m13 0h1m2 0h3m3 0h1m5 0h2m8 0h1m1 0h1m2 0h10m35 0h1m1 0h4m115 0h1m1 0h1m2 0h1m2 0h2m1 0h1m1 0h2m1 0h1m2 0h2m4 0h4M53 460.5h1m2 0h1m55 0h1m4 0h3m1 0h1m1 0h1m2 0h1m2 0h1m31 0h1m1 0h1m1 0h1m5 0h1m9 0h1m1 0h3m1 0h2m1 0h1m1 0h2m1 0h2m1 0h1m1 0h3m1 0h1m2 0h13m1 0h1m4 0h4m3 0h1m5 0h1m7 0h1m6 0h1m2 0h1m1 0h1m2 0h3m2 0h1m14 0h7m39 0h7m108 0h1m1 0h1m2 0h2m3 0h8m1 0h8m1 0h1m1 0h2M118 461.5h1m5 0h1m14 0h1m25 0h1m6 0h1m3 0h1m4 0h1m10 0h1m1 0h11m3 0h9m2 0h1m1 0h1m2 0h1m3 0h1m20 0h1m8 0h2m2 0h3m13 0h2m1 0h1m1 0h2m1 0h1m1 0h1m11 0h1m32 0h6m108 0h1m2 0h1m1 0h1m1 0h1m1 0h7m1 0h4m2 0h4m1 0h1M57 462.5h1m58 0h3m1 0h1m1 0h4m1 0h1m7 0h1m8 0h1m10 0h1m5 0h3m1 0h3m6 0h1m1 0h1m2 0h3m1 0h1m3 0h1m1 0h4m1 0h1m2 0h3m1 0h2m1 0h1m2 0h2m1 0h10m2 0h2m4 0h2m11 0h1m11 0h1m1 0h1m3 0h1m1 0h1m1 0h3m4 0h1m12 0h2m1 0h3m3 0h1m7 0h1m34 0h1m1 0h1m108 0h1m6 0h7m1 0h5m1 0h1m3 0h5M49 463.5h1m67 0h1m2 0h1m1 0h1m1 0h1m1 0h2m1 0h3m4 0h1m1 0h1m2 0h2m13 0h3m2 0h2m1 0h1m14 0h1m1 0h3m9 0h1m1 0h2m1 0h1m4 0h4m2 0h1m1 0h5m1 0h1m1 0h3m1 0h2m28 0h3m2 0h1m2 0h3m1 0h2m9 0h1m3 0h1m2 0h5m1 0h1m164 0h14m2 0h6M52 464.5h1m62 0h1m3 0h1m1 0h1m2 0h1m1 0h3m1 0h1m1 0h2m1 0h2m2 0h2m6 0h1m6 0h9m1 0h1m2 0h1m2 0h1m2 0h1m4 0h6m1 0h1m1 0h1m1 0h2m2 0h1m1 0h1m8 0h1m1 0h1m1 0h3m1 0h4m1 0h1m1 0h2m4 0h3m15 0h1m11 0h1m2 0h1m3 0h1m1 0h3m16 0h6m164 0h12m2 0h1m2 0h2m1 0h3M42 465.5h1m10 0h2m63 0h1m3 0h1m2 0h1m1 0h3m6 0h5m3 0h4m3 0h1m3 0h5m1 0h1m1 0h4m2 0h2m1 0h1m3 0h2m3 0h2m1 0h3m4 0h1m2 0h2m7 0h4m1 0h2m1 0h1m1 0h4m2 0h7m1 0h1m16 0h1m4 0h1m2 0h2m2 0h1m1 0h2m3 0h3m1 0h3m5 0h1m6 0h2m1 0h4m158 0h1m5 0h1m1 0h2m1 0h11m2 0h4M44 466.5h1m3 0h1m4 0h1m62 0h1m1 0h5m1 0h6m1 0h1m1 0h1m3 0h2m1 0h1m2 0h1m2 0h1m3 0h1m1 0h1m1 0h3m3 0h1m1 0h4m2 0h2m1 0h1m3 0h1m3 0h1m1 0h2m1 0h5m1 0h3m1 0h2m7 0h1m1 0h3m6 0h9m1 0h3m2 0h1m15 0h1m3 0h1m3 0h1m1 0h3m6 0h1m7 0h1m1 0h4m4 0h2m1 0h1m1 0h3m1 0h2m1 0h1m155 0h1m6 0h10m1 0h2m1 0h1m2 0h1M119 467.5h3m2 0h4m1 0h1m1 0h2m2 0h12m1 0h1m1 0h2m2 0h3m1 0h1m1 0h4m1 0h3m1 0h3m4 0h1m1 0h1m1 0h3m1 0h1m3 0h1m1 0h3m1 0h1m1 0h1m5 0h4m1 0h2m1 0h8m1 0h1m2 0h3m2 0h2m15 0h2m2 0h2m1 0h4m2 0h3m1 0h1m3 0h1m1 0h1m3 0h4m2 0h2m3 0h1m1 0h2m1 0h1m1 0h1m1 0h1m157 0h1m3 0h2m3 0h8m1 0h3m1 0h2m1 0h1M47 468.5h1m3 0h2m1 0h1m1 0h1m4 0h1m12 0h1m2 0h1m26 0h1m9 0h1m3 0h1m2 0h4m1 0h2m1 0h1m2 0h4m1 0h9m1 0h1m3 0h4m1 0h1m1 0h1m4 0h3m1 0h4m2 0h6m2 0h5m1 0h1m2 0h4m5 0h7m2 0h2m3 0h1m1 0h2m1 0h5m18 0h2m1 0h4m1 0h1m1 0h1m1 0h5m2 0h1m1 0h1m1 0h2m1 0h1m3 0h2m6 0h2m1 0h2m1 0h3m1 0h1m2 0h1m2 0h2m149 0h1m4 0h1m1 0h2m1 0h1m1 0h10m3 0h2M47 469.5h2m1 0h1m1 0h1m1 0h1m1 0h1m39 0h1m19 0h2m2 0h2m1 0h3m3 0h1m3 0h1m1 0h1m1 0h6m1 0h1m1 0h2m2 0h1m1 0h7m1 0h7m1 0h3m1 0h1m1 0h4m1 0h4m2 0h1m1 0h3m2 0h2m3 0h1m1 0h9m1 0h4m1 0h1m2 0h4m3 0h1m1 0h1m4 0h1m9 0h1m1 0h2m1 0h2m2 0h1m2 0h1m1 0h4m1 0h1m1 0h2m1 0h2m1 0h1m1 0h8m1 0h1m6 0h1m1 0h2m1 0h2m158 0h2m1 0h1m1 0h20M50 470.5h5m25 0h1m13 0h1m2 0h1m7 0h1m1 0h2m5 0h1m4 0h2m1 0h2m4 0h1m5 0h6m1 0h4m1 0h2m1 0h1m1 0h1m1 0h2m1 0h3m1 0h2m2 0h7m3 0h10m1 0h3m5 0h1m1 0h14m1 0h4m1 0h4m4 0h1m3 0h1m1 0h1m10 0h1m1 0h3m1 0h1m2 0h1m1 0h1m1 0h15m3 0h4m2 0h2m4 0h1m1 0h4m1 0h1m87 0h1m72 0h1m1 0h3m1 0h16M55 471.5h1m2 0h1m38 0h1m3 0h2m1 0h5m1 0h1m3 0h2m2 0h1m1 0h5m1 0h2m1 0h1m4 0h1m1 0h3m2 0h4m1 0h3m3 0h6m3 0h1m2 0h1m1 0h4m3 0h11m1 0h1m1 0h8m2 0h14m1 0h1m1 0h5m9 0h1m12 0h1m2 0h4m3 0h11m2 0h1m1 0h1m1 0h3m1 0h3m2 0h1m7 0h1m1 0h2m1 0h1m1 0h2m84 0h3m16 0h1m1 0h1m52 0h1m1 0h3m1 0h5m1 0h9M48 472.5h1m1 0h5m42 0h1m4 0h2m1 0h5m3 0h1m2 0h1m1 0h5m1 0h1m2 0h2m1 0h2m4 0h3m2 0h4m1 0h1m1 0h12m2 0h8m2 0h3m1 0h2m1 0h7m1 0h3m1 0h26m2 0h1m4 0h2m1 0h1m12 0h2m2 0h2m1 0h1m1 0h2m1 0h10m1 0h9m1 0h3m5 0h2m3 0h1m3 0h3m1 0h1m19 0h1m64 0h1m19 0h3m39 0h1m9 0h3m1 0h16m1 0h1M48 473.5h2m1 0h1m1 0h2m1 0h1m27 0h1m8 0h3m1 0h1m6 0h3m1 0h3m5 0h2m1 0h6m1 0h3m1 0h1m1 0h5m1 0h2m2 0h3m1 0h1m1 0h2m1 0h8m3 0h1m1 0h1m1 0h3m1 0h7m3 0h2m2 0h4m1 0h2m2 0h14m1 0h11m1 0h1m1 0h1m4 0h1m11 0h1m2 0h2m2 0h1m4 0h10m1 0h5m1 0h3m3 0h1m7 0h3m1 0h1m2 0h2m3 0h2m3 0h1m3 0h1m76 0h2m18 0h4m38 0h1m9 0h2m4 0h14m1 0h1m1 0h1M48 474.5h1m5 0h2m24 0h1m12 0h1m1 0h1m1 0h1m1 0h1m6 0h2m1 0h3m4 0h10m2 0h2m1 0h3m3 0h2m5 0h5m1 0h10m2 0h1m1 0h5m3 0h9m1 0h2m1 0h5m1 0h10m2 0h13m1 0h1m4 0h1m1 0h2m3 0h1m13 0h1m1 0h1m3 0h14m1 0h8m1 0h1m2 0h3m3 0h3m1 0h2m9 0h2m6 0h1m74 0h2m21 0h1m1 0h1m38 0h1m9 0h3m2 0h4m1 0h9m2 0h1M53 475.5h2m3 0h1m13 0h1m8 0h2m9 0h1m1 0h1m1 0h2m1 0h1m2 0h2m2 0h1m1 0h17m1 0h3m1 0h4m1 0h2m2 0h1m1 0h4m1 0h7m2 0h10m1 0h5m1 0h2m1 0h4m1 0h5m1 0h9m1 0h7m1 0h8m3 0h4m2 0h2m3 0h1m17 0h1m1 0h3m1 0h2m1 0h3m1 0h7m2 0h4m1 0h1m10 0h5m1 0h1m4 0h1m10 0h1m1 0h1m74 0h2m21 0h1m48 0h2m3 0h4m1 0h5m1 0h1m1 0h4M49 476.5h2m1 0h4m3 0h1m4 0h1m9 0h1m6 0h4m12 0h1m2 0h1m5 0h8m1 0h2m1 0h8m1 0h14m1 0h5m1 0h11m1 0h2m1 0h15m1 0h3m1 0h3m1 0h13m2 0h15m1 0h1m1 0h1m1 0h3m2 0h1m14 0h2m2 0h14m1 0h2m1 0h5m11 0h3m3 0h3m3 0h1m4 0h1m83 0h2m22 0h1m42 0h1m5 0h1m1 0h1m1 0h8m5 0h2m1 0h2M45 477.5h1m5 0h3m1 0h1m3 0h1m2 0h1m5 0h1m1 0h1m1 0h2m4 0h1m4 0h2m6 0h1m3 0h1m1 0h2m5 0h4m1 0h1m1 0h8m1 0h4m1 0h1m1 0h8m1 0h1m1 0h1m1 0h19m2 0h1m1 0h13m1 0h1m1 0h10m1 0h4m1 0h3m1 0h1m3 0h13m1 0h2m2 0h1m2 0h1m9 0h1m6 0h1m1 0h1m2 0h1m1 0h2m1 0h9m1 0h3m1 0h4m1 0h1m1 0h2m7 0h2m3 0h4m5 0h1m9 0h2m74 0h3m23 0h1m50 0h7m1 0h2m1 0h7M42 478.5h1m8 0h1m2 0h1m6 0h1m1 0h2m1 0h5m2 0h1m4 0h2m4 0h2m6 0h1m1 0h2m2 0h1m2 0h1m2 0h2m1 0h5m1 0h4m1 0h8m1 0h4m1 0h4m1 0h1m2 0h14m1 0h5m3 0h3m1 0h1m1 0h8m2 0h13m1 0h4m2 0h2m1 0h7m1 0h2m1 0h1m1 0h1m1 0h1m1 0h2m1 0h1m6 0h2m12 0h2m1 0h4m2 0h2m1 0h8m1 0h6m8 0h1m2 0h6m9 0h1m1 0h1m1 0h1m73 0h1m2 0h1m1 0h1m1 0h1m1 0h1m51 0h1m13 0h1m1 0h1m2 0h1m4 0h2m1 0h2m1 0h1m1 0h1m1 0h1m1 0h5M55 479.5h2m3 0h1m1 0h1m2 0h2m1 0h5m1 0h3m1 0h5m1 0h1m7 0h1m3 0h2m6 0h7m1 0h1m1 0h23m2 0h4m2 0h15m2 0h15m1 0h6m1 0h16m1 0h4m1 0h8m1 0h1m1 0h3m1 0h1m1 0h1m1 0h2m2 0h1m2 0h1m14 0h1m1 0h1m1 0h9m4 0h4m2 0h1m2 0h1m2 0h2m1 0h2m1 0h4m6 0h1m1 0h1m1 0h1m73 0h1m2 0h4m1 0h2m1 0h3m71 0h1m1 0h3m3 0h4m1 0h7M48 480.5h1m1 0h1m1 0h1m3 0h4m7 0h2m1 0h4m2 0h1m1 0h1m1 0h1m5 0h2m5 0h1m3 0h1m4 0h2m1 0h28m1 0h2m1 0h7m1 0h1m2 0h1m1 0h27m1 0h1m1 0h1m1 0h4m1 0h10m1 0h1m1 0h10m1 0h2m2 0h2m2 0h3m5 0h1m9 0h1m7 0h1m1 0h1m1 0h3m2 0h1m6 0h2m1 0h1m1 0h3m2 0h1m8 0h3m1 0h2m4 0h1m2 0h3m6 0h1m1 0h1m65 0h1m13 0h1m60 0h1m8 0h1m1 0h1m4 0h1m5 0h9M35 481.5h1m5 0h2m2 0h1m3 0h3m2 0h2m3 0h1m7 0h5m1 0h1m1 0h5m3 0h3m1 0h2m1 0h1m3 0h3m2 0h1m1 0h2m1 0h9m1 0h2m1 0h9m1 0h3m1 0h10m1 0h2m3 0h10m1 0h11m1 0h1m1 0h6m3 0h2m4 0h11m1 0h1m3 0h4m1 0h1m1 0h4m1 0h2m1 0h3m1 0h2m2 0h1m9 0h1m9 0h4m2 0h2m2 0h3m1 0h1m2 0h1m1 0h2m2 0h1m1 0h1m1 0h1m4 0h1m1 0h1m1 0h1m12 0h1m140 0h1m15 0h1m1 0h1m1 0h2m2 0h3m2 0h1m2 0h8M38 482.5h1m3 0h1m3 0h1m1 0h1m1 0h2m3 0h2m10 0h6m1 0h1m1 0h2m1 0h2m2 0h1m1 0h1m2 0h2m1 0h4m1 0h2m3 0h21m2 0h8m1 0h4m1 0h7m3 0h2m1 0h16m1 0h6m1 0h7m6 0h6m2 0h1m2 0h13m1 0h6m2 0h2m6 0h1m7 0h2m4 0h1m3 0h3m6 0h2m3 0h2m2 0h2m1 0h1m3 0h1m5 0h1m4 0h5m2 0h2m3 0h2m88 0h1m53 0h1m1 0h2m1 0h1m15 0h2m1 0h1m1 0h1m1 0h2m1 0h6M35 483.5h1m10 0h4m3 0h5m8 0h5m1 0h2m3 0h2m1 0h1m2 0h1m1 0h1m1 0h1m1 0h4m2 0h4m1 0h3m1 0h31m1 0h5m2 0h4m3 0h7m1 0h14m1 0h6m1 0h1m8 0h5m1 0h4m1 0h1m1 0h1m1 0h12m1 0h1m1 0h3m2 0h1m4 0h1m4 0h3m2 0h1m4 0h1m4 0h4m1 0h3m4 0h1m2 0h2m2 0h1m3 0h1m2 0h1m4 0h1m1 0h2m1 0h4m1 0h1m1 0h2m1 0h1m1 0h2m7 0h1m77 0h1m1 0h1m60 0h1m2 0h1m6 0h2m1 0h1m1 0h2m1 0h4m1 0h6M33 484.5h1m3 0h1m1 0h1m1 0h2m4 0h2m2 0h1m2 0h1m2 0h1m2 0h1m4 0h1m1 0h1m1 0h1m2 0h1m1 0h1m2 0h2m4 0h1m1 0h1m1 0h4m1 0h6m1 0h2m1 0h2m1 0h28m1 0h1m1 0h8m1 0h1m1 0h12m1 0h13m1 0h4m1 0h1m8 0h10m1 0h1m1 0h1m1 0h2m1 0h5m1 0h1m6 0h3m1 0h1m7 0h1m2 0h1m2 0h2m3 0h1m3 0h2m1 0h1m1 0h1m1 0h1m1 0h1m6 0h1m4 0h2m2 0h3m3 0h1m1 0h1m1 0h1m1 0h1m2 0h1m4 0h6m4 0h1m2 0h2m1 0h1m77 0h2m54 0h1m16 0h9m1 0h8M39 485.5h1m7 0h3m3 0h2m8 0h1m2 0h1m1 0h4m1 0h1m3 0h2m1 0h2m1 0h3m2 0h1m1 0h1m1 0h51m1 0h2m1 0h4m1 0h3m1 0h8m1 0h5m2 0h1m1 0h3m1 0h1m1 0h4m4 0h11m1 0h2m1 0h10m1 0h1m2 0h2m2 0h1m1 0h1m6 0h1m2 0h1m2 0h1m1 0h1m1 0h1m1 0h1m7 0h5m10 0h1m1 0h2m4 0h1m1 0h1m5 0h1m2 0h2m1 0h2m1 0h1m1 0h2m4 0h1m5 0h2m2 0h2m75 0h3m52 0h1m8 0h1m6 0h7m1 0h3m1 0h8M36 486.5h1m7 0h2m2 0h2m6 0h1m2 0h1m3 0h1m4 0h2m1 0h1m2 0h1m3 0h1m1 0h1m2 0h8m3 0h1m1 0h5m1 0h20m1 0h9m1 0h11m1 0h5m1 0h5m1 0h5m1 0h12m1 0h1m2 0h2m1 0h1m1 0h1m1 0h3m1 0h9m2 0h2m1 0h3m1 0h2m1 0h1m1 0h1m1 0h1m1 0h1m1 0h1m2 0h3m6 0h1m1 0h1m1 0h3m1 0h1m8 0h1m1 0h7m2 0h1m8 0h4m1 0h6m1 0h1m1 0h8m1 0h1m3 0h2m3 0h1m2 0h2m1 0h1m79 0h2m45 0h1m6 0h1m16 0h7m2 0h1m1 0h3m1 0h4M39 487.5h1m2 0h1m1 0h1m1 0h2m1 0h2m1 0h1m2 0h1m7 0h1m1 0h2m1 0h3m1 0h1m4 0h1m3 0h1m1 0h3m1 0h3m1 0h10m1 0h36m1 0h2m1 0h13m2 0h26m2 0h18m1 0h3m1 0h1m1 0h2m2 0h2m2 0h1m4 0h2m6 0h1m1 0h1m1 0h3m2 0h1m7 0h1m1 0h2m1 0h2m2 0h3m3 0h12m1 0h3m1 0h2m2 0h5m5 0h1m1 0h1m6 0h1m1 0h1m1 0h1m1 0h1m76 0h1m49 0h1m1 0h1m11 0h2m3 0h1m3 0h10m1 0h2m1 0h3M38 488.5h2m2 0h1m2 0h5m1 0h1m2 0h1m2 0h1m8 0h1m1 0h1m3 0h1m1 0h1m1 0h5m1 0h6m2 0h2m4 0h1m1 0h34m1 0h24m1 0h1m2 0h4m1 0h1m2 0h6m1 0h8m1 0h1m1 0h12m1 0h2m1 0h5m4 0h1m4 0h1m2 0h6m2 0h1m2 0h6m1 0h2m7 0h2m1 0h1m1 0h1m1 0h1m1 0h3m2 0h1m2 0h1m1 0h10m1 0h2m1 0h2m1 0h4m1 0h1m5 0h1m1 0h1m5 0h1m1 0h1m1 0h1m23 0h1m117 0h1m4 0h1m1 0h1m1 0h10m1 0h7M36 489.5h1m6 0h1m1 0h4m1 0h2m3 0h1m1 0h2m2 0h1m2 0h1m7 0h1m1 0h12m1 0h2m1 0h2m2 0h2m1 0h1m1 0h13m1 0h43m1 0h5m2 0h4m2 0h14m1 0h14m1 0h1m1 0h1m5 0h3m4 0h1m4 0h1m2 0h1m1 0h6m2 0h4m3 0h1m10 0h1m2 0h2m5 0h2m3 0h5m1 0h10m1 0h1m1 0h8m5 0h1m2 0h1m2 0h1m2 0h1m18 0h5m109 0h1m7 0h1m2 0h4m1 0h9m1 0h1m1 0h3m1 0h1m2 0h1M38 490.5h1m4 0h7m1 0h1m1 0h1m4 0h1m3 0h1m1 0h2m6 0h8m2 0h1m1 0h6m1 0h6m1 0h11m1 0h6m1 0h35m1 0h15m1 0h13m2 0h19m4 0h1m3 0h1m9 0h6m3 0h1m2 0h5m5 0h1m1 0h2m3 0h2m3 0h1m3 0h1m1 0h1m4 0h2m1 0h4m1 0h5m2 0h2m1 0h1m1 0h4m1 0h1m1 0h3m3 0h1m3 0h1m19 0h1m1 0h2m126 0h1m3 0h2m1 0h2m1 0h6m1 0h3M35 491.5h1m1 0h2m1 0h2m1 0h1m2 0h5m3 0h1m9 0h4m3 0h1m1 0h23m1 0h2m1 0h5m1 0h3m2 0h27m1 0h29m1 0h1m1 0h3m1 0h8m5 0h1m1 0h15m2 0h1m1 0h1m8 0h1m3 0h2m5 0h2m2 0h4m2 0h1m1 0h1m1 0h1m4 0h4m2 0h3m4 0h2m1 0h2m2 0h3m1 0h11m1 0h2m1 0h1m2 0h6m3 0h2m7 0h1m11 0h1m2 0h1m1 0h1m128 0h7m1 0h11m1 0h1M41 492.5h1m3 0h1m1 0h2m1 0h1m4 0h1m1 0h1m3 0h1m2 0h1m1 0h1m1 0h2m1 0h1m3 0h1m2 0h5m1 0h5m1 0h6m2 0h3m2 0h53m1 0h12m1 0h1m2 0h2m1 0h1m1 0h2m1 0h5m1 0h2m1 0h3m1 0h6m6 0h3m11 0h1m1 0h2m2 0h1m6 0h5m1 0h3m1 0h1m4 0h1m3 0h1m3 0h2m1 0h2m2 0h3m1 0h1m1 0h9m1 0h1m1 0h1m3 0h5m1 0h2m7 0h1m19 0h3m130 0h3m1 0h2m1 0h7m1 0h1m2 0h1m2 0h1M32 493.5h1m12 0h1m1 0h2m1 0h1m1 0h1m1 0h3m7 0h5m3 0h5m1 0h12m1 0h4m1 0h1m1 0h1m2 0h23m1 0h11m3 0h1m1 0h1m3 0h1m1 0h15m1 0h2m1 0h2m1 0h3m1 0h3m3 0h1m1 0h1m1 0h1m1 0h4m1 0h4m1 0h8m1 0h1m1 0h1m1 0h1m5 0h1m10 0h4m5 0h1m4 0h2m2 0h1m4 0h2m3 0h1m3 0h1m3 0h3m3 0h2m2 0h6m1 0h2m2 0h8m1 0h1m1 0h1m2 0h2m3 0h1m15 0h3m109 0h1m23 0h10m1 0h4m1 0h2m2 0h1m1 0h1M36 494.5h1m1 0h1m6 0h2m4 0h1m7 0h3m1 0h2m1 0h6m2 0h4m1 0h3m1 0h15m2 0h2m1 0h13m1 0h1m1 0h17m2 0h1m1 0h1m2 0h2m1 0h1m2 0h10m1 0h3m1 0h1m1 0h1m1 0h2m1 0h3m1 0h3m1 0h4m1 0h2m1 0h16m1 0h1m8 0h1m4 0h1m2 0h1m1 0h1m2 0h3m3 0h1m4 0h1m2 0h1m13 0h2m4 0h2m3 0h4m1 0h7m1 0h5m1 0h1m1 0h1m1 0h3m1 0h1m2 0h1m2 0h1m3 0h1m122 0h2m3 0h1m18 0h1m1 0h1m2 0h4m1 0h4m1 0h4m1 0h1m5 0h1M35 495.5h1m2 0h1m3 0h1m5 0h4m9 0h5m2 0h2m2 0h4m1 0h5m1 0h12m1 0h5m1 0h33m1 0h1m1 0h2m2 0h1m1 0h1m2 0h2m1 0h3m1 0h2m1 0h3m2 0h1m1 0h4m3 0h2m1 0h3m1 0h1m1 0h3m3 0h9m2 0h1m4 0h4m2 0h1m1 0h1m2 0h1m6 0h1m4 0h5m3 0h1m3 0h2m4 0h2m2 0h1m1 0h1m5 0h1m1 0h1m10 0h20m1 0h3m1 0h1m2 0h1m134 0h1m20 0h1m1 0h12m1 0h2m1 0h1m1 0h3M39 496.5h1m7 0h2m5 0h1m2 0h1m4 0h1m1 0h18m1 0h2m1 0h13m2 0h31m1 0h1m1 0h3m3 0h2m1 0h5m2 0h4m1 0h7m1 0h2m2 0h1m1 0h7m2 0h2m3 0h1m1 0h3m1 0h10m2 0h2m1 0h1m1 0h3m9 0h2m2 0h2m2 0h1m1 0h3m2 0h1m5 0h1m1 0h1m1 0h1m2 0h1m3 0h1m1 0h1m1 0h2m3 0h2m2 0h1m3 0h4m1 0h1m1 0h2m1 0h2m1 0h8m1 0h1m2 0h1m132 0h4m2 0h1m2 0h1m14 0h1m1 0h10m1 0h5m1 0h1m4 0h2M39 497.5h1m6 0h1m3 0h2m1 0h2m1 0h1m2 0h1m1 0h8m1 0h15m1 0h14m2 0h1m1 0h1m1 0h11m1 0h7m1 0h9m1 0h1m1 0h1m1 0h2m1 0h1m2 0h2m3 0h4m3 0h7m3 0h3m1 0h5m2 0h7m1 0h12m2 0h1m1 0h5m3 0h1m3 0h1m2 0h1m1 0h1m2 0h1m1 0h3m2 0h2m2 0h1m4 0h1m3 0h4m3 0h1m1 0h2m2 0h1m6 0h1m1 0h1m1 0h11m2 0h9m13 0h1m4 0h1m118 0h1m2 0h1m3 0h1m15 0h13m2 0h2m2 0h3m1 0h1m1 0h1M37 498.5h2m5 0h1m2 0h1m1 0h1m1 0h2m4 0h1m1 0h1m2 0h2m1 0h11m4 0h1m3 0h17m2 0h3m1 0h29m1 0h2m1 0h4m1 0h2m1 0h1m2 0h1m2 0h2m1 0h3m1 0h3m1 0h3m1 0h7m1 0h2m1 0h18m1 0h4m1 0h1m1 0h3m8 0h1m5 0h1m2 0h8m1 0h1m2 0h1m1 0h1m1 0h2m4 0h1m3 0h2m2 0h1m1 0h2m1 0h2m3 0h8m7 0h1m1 0h3m1 0h3m4 0h2m1 0h1m4 0h1m5 0h1m124 0h1m3 0h2m8 0h1m2 0h2m1 0h3m4 0h2m2 0h2m1 0h1m1 0h3m2 0h1M47 499.5h1m1 0h1m8 0h4m1 0h2m1 0h1m1 0h13m3 0h1m1 0h18m3 0h3m1 0h7m1 0h16m4 0h2m1 0h5m7 0h1m1 0h1m2 0h1m2 0h1m1 0h3m5 0h2m1 0h17m1 0h1m1 0h6m1 0h3m2 0h3m2 0h1m5 0h1m8 0h2m1 0h2m1 0h7m1 0h3m1 0h1m2 0h1m3 0h1m1 0h1m2 0h1m1 0h1m1 0h2m1 0h1m2 0h13m3 0h2m1 0h1m1 0h1m5 0h2m1 0h1m1 0h1m2 0h2m2 0h1m4 0h1m117 0h1m2 0h2m1 0h1m1 0h1m12 0h6m5 0h2m1 0h1m1 0h1m4 0h1m2 0h1M47 500.5h1m11 0h5m1 0h1m1 0h10m1 0h1m1 0h3m2 0h7m1 0h10m4 0h16m1 0h1m1 0h4m1 0h5m1 0h6m5 0h1m2 0h1m1 0h2m3 0h4m2 0h1m5 0h1m1 0h4m1 0h14m1 0h13m1 0h1m1 0h3m2 0h1m12 0h1m2 0h3m1 0h3m1 0h3m3 0h2m1 0h1m2 0h3m1 0h1m3 0h1m2 0h2m3 0h1m2 0h2m2 0h2m1 0h1m1 0h3m1 0h7m1 0h1m1 0h1m1 0h8m4 0h1m119 0h1m11 0h1m11 0h4m1 0h1m1 0h1m4 0h4m1 0h1m6 0h2M44 501.5h1m3 0h1m2 0h1m9 0h1m3 0h2m1 0h1m1 0h9m1 0h1m2 0h20m5 0h17m1 0h1m1 0h6m2 0h5m1 0h5m4 0h1m1 0h2m1 0h5m5 0h1m2 0h2m1 0h3m1 0h5m1 0h23m4 0h2m5 0h1m9 0h2m2 0h1m1 0h5m1 0h3m1 0h2m1 0h2m2 0h2m3 0h2m3 0h5m2 0h1m1 0h10m2 0h6m2 0h1m5 0h3m1 0h4m3 0h1m15 0h1m2 0h1m75 0h1m3 0h1m30 0h1m1 0h1m11 0h1m1 0h3m1 0h2m4 0h4m2 0h1m1 0h1m1 0h1M49 502.5h1m1 0h1m5 0h1m1 0h1m1 0h3m1 0h1m2 0h4m1 0h4m1 0h1m1 0h15m1 0h7m3 0h5m1 0h15m1 0h2m1 0h6m1 0h1m1 0h7m1 0h2m1 0h1m2 0h1m2 0h2m2 0h2m6 0h13m1 0h2m1 0h8m1 0h2m1 0h8m1 0h1m2 0h1m1 0h1m4 0h1m10 0h1m2 0h1m2 0h2m2 0h3m1 0h3m1 0h2m12 0h1m1 0h1m1 0h8m3 0h1m2 0h6m1 0h3m2 0h1m3 0h5m1 0h1m1 0h1m3 0h1m10 0h2m4 0h1m3 0h1m66 0h1m9 0h1m5 0h1m20 0h1m1 0h1m1 0h2m12 0h8m1 0h7m6 0h1m2 0h1M18 503.5h1m30 0h2m7 0h1m3 0h16m2 0h24m3 0h1m1 0h14m1 0h1m2 0h2m1 0h1m1 0h1m2 0h2m1 0h3m1 0h1m1 0h2m1 0h1m2 0h3m1 0h1m1 0h2m2 0h3m3 0h3m1 0h13m1 0h21m1 0h1m2 0h1m2 0h1m8 0h1m8 0h2m1 0h1m1 0h1m1 0h3m1 0h3m1 0h1m1 0h2m1 0h2m1 0h3m3 0h6m1 0h5m2 0h1m1 0h5m1 0h1m1 0h1m2 0h1m9 0h3m4 0h1m13 0h1m1 0h1m82 0h1m7 0h3m1 0h1m17 0h2m1 0h1m15 0h3m1 0h1m3 0h3m2 0h1m3 0h1m1 0h4M19 504.5h1m30 0h1m13 0h2m1 0h1m1 0h5m1 0h48m2 0h2m1 0h1m2 0h1m3 0h2m3 0h2m1 0h1m3 0h4m1 0h2m1 0h2m5 0h4m1 0h14m1 0h4m1 0h4m1 0h3m1 0h11m3 0h1m14 0h1m1 0h1m3 0h2m1 0h2m2 0h1m2 0h9m1 0h5m1 0h1m1 0h2m1 0h1m2 0h4m1 0h1m4 0h1m3 0h2m2 0h2m3 0h2m5 0h4m2 0h1m3 0h1m15 0h1m3 0h1m1 0h3m72 0h1m3 0h1m5 0h3m2 0h1m9 0h7m1 0h1m12 0h2m1 0h2m2 0h5m1 0h1m1 0h2m1 0h3m1 0h1m1 0h1M21 505.5h1m1 0h1m4 0h2m1 0h1m13 0h1m4 0h2m1 0h1m8 0h1m1 0h6m1 0h2m1 0h1m1 0h1m1 0h13m1 0h1m1 0h13m1 0h16m1 0h2m1 0h2m2 0h1m3 0h3m3 0h3m2 0h6m4 0h1m2 0h1m2 0h2m1 0h1m1 0h4m1 0h2m1 0h1m1 0h7m1 0h14m1 0h5m1 0h2m14 0h1m2 0h1m1 0h4m3 0h1m3 0h1m4 0h1m1 0h1m1 0h1m1 0h1m2 0h6m1 0h5m1 0h1m1 0h2m2 0h2m7 0h1m2 0h1m1 0h1m8 0h6m1 0h1m14 0h1m2 0h1m2 0h2m1 0h2m3 0h1m71 0h1m2 0h1m1 0h1m4 0h2m1 0h1m11 0h1m1 0h4m5 0h1m13 0h1m3 0h11m1 0h2m2 0h1M22 506.5h1m26 0h2m1 0h1m1 0h2m1 0h1m6 0h2m1 0h5m1 0h1m1 0h1m1 0h11m1 0h1m1 0h2m1 0h6m1 0h36m1 0h2m2 0h5m1 0h6m3 0h1m1 0h1m1 0h14m1 0h28m1 0h2m1 0h1m16 0h4m3 0h1m2 0h1m4 0h1m1 0h1m2 0h5m1 0h2m1 0h8m3 0h1m1 0h5m1 0h2m4 0h3m1 0h1m8 0h1m2 0h6m1 0h2m4 0h1m10 0h3m1 0h1m2 0h3m2 0h1m64 0h2m3 0h1m5 0h1m2 0h4m1 0h1m4 0h1m8 0h3m1 0h3m13 0h2m2 0h1m3 0h1m1 0h3m1 0h6m2 0h4M51 507.5h4m5 0h2m1 0h5m1 0h2m1 0h3m2 0h1m2 0h4m1 0h10m1 0h1m1 0h10m2 0h14m1 0h5m1 0h10m1 0h3m1 0h4m3 0h1m1 0h1m5 0h11m1 0h3m1 0h2m1 0h4m1 0h7m1 0h8m1 0h3m8 0h1m12 0h3m1 0h2m1 0h1m4 0h3m1 0h1m1 0h3m1 0h16m1 0h3m1 0h2m4 0h1m2 0h1m4 0h1m7 0h2m1 0h1m1 0h3m1 0h1m3 0h1m6 0h1m4 0h1m1 0h1m3 0h1m1 0h2m1 0h1m1 0h2m65 0h1m1 0h1m2 0h1m1 0h1m1 0h1m1 0h1m4 0h1m2 0h2m12 0h1m1 0h1m3 0h1m8 0h1m5 0h1m8 0h4m1 0h3m1 0h3m1 0h1M18 508.5h2m3 0h1m3 0h1m19 0h1m3 0h4m7 0h5m1 0h6m1 0h2m2 0h7m1 0h6m1 0h12m1 0h2m1 0h18m1 0h3m3 0h5m1 0h4m3 0h2m2 0h1m1 0h2m5 0h2m1 0h25m1 0h15m3 0h1m1 0h1m15 0h2m2 0h2m2 0h1m6 0h2m3 0h2m1 0h3m1 0h2m1 0h4m1 0h9m2 0h1m1 0h1m19 0h7m1 0h4m1 0h1m14 0h5m1 0h2m63 0h1m6 0h3m5 0h1m2 0h3m2 0h3m1 0h1m1 0h1m7 0h1m1 0h1m3 0h1m6 0h1m3 0h1m4 0h2m4 0h3m1 0h1m1 0h8m1 0h1M18 509.5h2m2 0h2m1 0h1m22 0h4m1 0h1m6 0h2m1 0h35m1 0h2m2 0h1m1 0h1m5 0h7m1 0h3m1 0h8m1 0h4m3 0h1m2 0h3m1 0h2m1 0h2m1 0h1m2 0h5m1 0h12m1 0h16m1 0h1m1 0h2m1 0h6m1 0h1m1 0h2m8 0h1m11 0h1m6 0h1m1 0h1m5 0h2m3 0h4m1 0h3m1 0h5m1 0h1m4 0h3m2 0h1m19 0h1m1 0h1m1 0h5m1 0h1m2 0h2m15 0h6m2 0h1m67 0h1m2 0h3m4 0h1m1 0h2m3 0h1m14 0h1m6 0h1m8 0h2m2 0h1m5 0h2m1 0h6m3 0h6M22 510.5h2m7 0h1m17 0h3m1 0h1m6 0h2m1 0h8m1 0h32m2 0h2m1 0h5m1 0h4m1 0h5m1 0h7m1 0h2m1 0h1m1 0h1m1 0h2m1 0h9m3 0h2m1 0h1m1 0h8m1 0h2m1 0h4m1 0h2m1 0h3m1 0h1m1 0h3m3 0h2m1 0h11m2 0h2m18 0h1m3 0h1m3 0h1m7 0h6m1 0h10m1 0h2m2 0h5m23 0h4m1 0h9m2 0h1m2 0h1m5 0h3m2 0h1m3 0h1m70 0h5m1 0h2m1 0h4m2 0h1m2 0h1m2 0h1m7 0h1m5 0h1m4 0h1m7 0h2m11 0h6m1 0h1m1 0h2M19 511.5h1m5 0h1m22 0h1m1 0h1m3 0h1m2 0h6m1 0h33m1 0h3m1 0h3m2 0h1m2 0h4m1 0h5m1 0h13m2 0h1m1 0h3m2 0h2m2 0h1m2 0h2m1 0h1m1 0h1m1 0h1m1 0h22m1 0h5m1 0h3m1 0h15m2 0h2m1 0h1m12 0h1m12 0h4m4 0h2m1 0h2m1 0h11m3 0h1m22 0h1m6 0h5m1 0h6m1 0h1m7 0h1m7 0h2m75 0h1m1 0h3m1 0h8m6 0h1m2 0h1m13 0h3m3 0h1m10 0h1m1 0h2m3 0h1m1 0h1m1 0h1m2 0h6M19 512.5h1m3 0h1m22 0h1m3 0h1m1 0h1m1 0h1m1 0h1m1 0h3m2 0h3m2 0h5m1 0h4m1 0h2m1 0h11m1 0h12m3 0h1m4 0h1m2 0h2m1 0h1m1 0h2m2 0h7m1 0h3m3 0h1m3 0h1m2 0h2m1 0h2m1 0h20m1 0h1m1 0h9m2 0h4m1 0h14m6 0h1m13 0h1m1 0h1m1 0h2m4 0h1m2 0h1m7 0h2m1 0h7m2 0h2m2 0h4m1 0h1m27 0h7m1 0h5m1 0h1m17 0h2m67 0h2m5 0h4m1 0h2m1 0h1m1 0h1m28 0h1m1 0h1m3 0h1m2 0h1m3 0h1m1 0h1m8 0h2m1 0h2m2 0h2M18 513.5h3m1 0h1m1 0h2m14 0h1m6 0h1m1 0h2m2 0h2m2 0h5m2 0h4m1 0h38m1 0h2m3 0h1m1 0h7m1 0h12m1 0h1m1 0h2m2 0h2m1 0h3m1 0h5m1 0h1m1 0h18m1 0h9m1 0h5m1 0h1m1 0h5m1 0h1m3 0h4m2 0h1m23 0h2m11 0h11m1 0h4m4 0h3m26 0h6m2 0h6m11 0h2m1 0h1m3 0h1m64 0h3m2 0h1m3 0h1m1 0h3m2 0h1m1 0h4m5 0h1m1 0h1m2 0h3m13 0h5m3 0h1m4 0h1m1 0h1m3 0h2m1 0h1m5 0h1m1 0h1m2 0h2M19 514.5h2m9 0h1m4 0h1m10 0h4m1 0h2m2 0h1m5 0h1m3 0h1m1 0h5m1 0h2m1 0h1m1 0h2m2 0h1m1 0h1m2 0h3m1 0h14m2 0h3m1 0h4m1 0h3m2 0h12m3 0h1m1 0h2m1 0h2m1 0h3m1 0h1m2 0h20m1 0h12m1 0h16m1 0h2m1 0h1m3 0h2m36 0h6m4 0h1m1 0h2m7 0h2m27 0h5m1 0h2m1 0h1m2 0h1m13 0h2m1 0h1m69 0h3m4 0h1m3 0h1m1 0h6m1 0h1m4 0h1m19 0h1m1 0h1m1 0h2m4 0h1m10 0h2m2 0h1m3 0h1M18 515.5h5m1 0h3m1 0h1m1 0h2m3 0h1m3 0h1m4 0h1m4 0h1m2 0h2m3 0h1m2 0h2m3 0h1m1 0h6m1 0h2m1 0h2m1 0h4m2 0h5m1 0h5m2 0h6m1 0h4m1 0h2m1 0h8m1 0h6m1 0h7m1 0h2m6 0h1m2 0h1m1 0h2m1 0h3m1 0h14m1 0h10m1 0h13m2 0h1m1 0h1m3 0h1m3 0h1m1 0h1m19 0h1m3 0h1m1 0h1m9 0h2m1 0h2m1 0h1m3 0h1m3 0h2m32 0h1m1 0h8m2 0h1m1 0h1m4 0h1m8 0h1m73 0h1m4 0h2m3 0h3m1 0h1m1 0h1m3 0h1m1 0h3m19 0h1m3 0h1m1 0h1m15 0h1m5 0h2m1 0h1M18 516.5h1m1 0h3m1 0h1m6 0h1m1 0h2m3 0h1m4 0h2m2 0h2m1 0h1m1 0h5m2 0h1m4 0h7m3 0h6m1 0h3m1 0h6m1 0h7m1 0h7m1 0h2m1 0h19m1 0h6m1 0h2m5 0h2m2 0h5m1 0h2m1 0h6m1 0h10m3 0h17m1 0h2m1 0h3m1 0h2m20 0h1m4 0h2m7 0h2m2 0h1m1 0h3m1 0h3m1 0h1m6 0h1m36 0h5m1 0h2m1 0h3m7 0h1m1 0h1m4 0h1m73 0h1m3 0h1m5 0h1m2 0h1m2 0h1m3 0h4m16 0h1m2 0h2m1 0h1m3 0h1m14 0h1m6 0h2M18 517.5h3m1 0h3m1 0h1m1 0h8m2 0h7m2 0h1m2 0h1m1 0h2m1 0h4m2 0h1m4 0h10m1 0h5m5 0h1m1 0h9m1 0h7m1 0h8m1 0h2m1 0h18m1 0h1m1 0h1m1 0h2m2 0h1m4 0h3m1 0h1m2 0h3m1 0h1m1 0h1m1 0h6m1 0h4m1 0h15m1 0h2m5 0h1m1 0h1m3 0h1m4 0h1m20 0h1m4 0h1m3 0h1m1 0h1m1 0h4m1 0h2m1 0h5m3 0h2m8 0h1m20 0h1m3 0h10m1 0h2m7 0h1m10 0h1m78 0h1m2 0h1m1 0h1m1 0h1m1 0h2m1 0h1m20 0h5m3 0h3m1 0h1m21 0h1M18 518.5h3m2 0h3m1 0h6m1 0h1m4 0h1m1 0h2m2 0h2m2 0h2m1 0h2m1 0h2m1 0h1m1 0h1m5 0h11m1 0h3m1 0h2m1 0h1m1 0h22m1 0h1m1 0h7m1 0h3m1 0h10m1 0h5m1 0h3m1 0h2m1 0h1m2 0h2m1 0h10m1 0h18m1 0h12m2 0h2m8 0h1m3 0h1m16 0h1m1 0h1m7 0h3m2 0h5m1 0h3m1 0h7m3 0h1m7 0h1m19 0h1m4 0h10m1 0h1m11 0h2m2 0h1m84 0h1m1 0h1m1 0h3m1 0h1m20 0h1m4 0h2m1 0h1m3 0h1M18 519.5h9m1 0h1m2 0h1m3 0h1m4 0h1m1 0h2m1 0h2m1 0h2m1 0h1m2 0h4m1 0h1m3 0h1m3 0h14m1 0h2m1 0h6m1 0h7m1 0h3m1 0h1m2 0h16m1 0h16m1 0h3m1 0h1m2 0h1m2 0h1m1 0h11m1 0h5m1 0h3m2 0h19m1 0h1m37 0h1m4 0h1m4 0h5m1 0h1m1 0h7m1 0h3m35 0h4m1 0h6m1 0h1m102 0h1m2 0h3m3 0h1m18 0h1m1 0h2m7 0h1m1 0h1m3 0h2m14 0h1M19 520.5h9m1 0h4m1 0h1m2 0h1m2 0h1m1 0h2m1 0h6m2 0h2m2 0h1m2 0h1m3 0h1m1 0h3m1 0h15m3 0h3m1 0h7m1 0h1m2 0h1m1 0h27m1 0h9m1 0h1m1 0h1m3 0h12m2 0h1m1 0h8m3 0h20m6 0h1m3 0h1m29 0h3m3 0h1m3 0h3m2 0h1m1 0h5m1 0h2m36 0h5m1 0h3m1 0h1m2 0h1m104 0h2m7 0h1m13 0h1m1 0h1m1 0h1m2 0h1m2 0h1m2 0h1m1 0h1m5 0h1m1 0h1M18 521.5h13m1 0h2m5 0h1m3 0h1m1 0h1m4 0h2m5 0h10m1 0h1m1 0h16m2 0h1m1 0h2m1 0h7m1 0h3m1 0h22m1 0h10m1 0h2m1 0h1m1 0h3m2 0h1m1 0h2m1 0h3m1 0h3m2 0h5m2 0h3m1 0h12m1 0h4m1 0h3m2 0h1m39 0h1m2 0h1m3 0h1m8 0h1m1 0h2m2 0h2m32 0h1m4 0h6m3 0h2m87 0h1m16 0h4m5 0h1m2 0h2m12 0h2m3 0h1m1 0h2m1 0h6m4 0h1M18 522.5h8m1 0h5m7 0h1m2 0h2m1 0h1m1 0h1m5 0h1m2 0h1m3 0h1m1 0h2m1 0h1m1 0h5m1 0h14m1 0h4m1 0h22m1 0h7m1 0h15m1 0h2m1 0h5m2 0h1m1 0h6m1 0h2m4 0h1m2 0h2m2 0h1m2 0h23m1 0h1m7 0h1m1 0h1m36 0h1m2 0h1m2 0h2m2 0h4m7 0h1m27 0h1m1 0h9m14 0h1m92 0h1m4 0h3m3 0h1m4 0h1m2 0h1m9 0h1m7 0h1m2 0h2m1 0h1m1 0h1"/>
<path stroke="#e6a000" fill="none" d="M116 316.5h2m119 0h1m76 0h1m5 0h1m12 0h1m15 0h1M70 317.5h1m43 0h4m190 0h2m38 0h1m3 0h1M114 318.5h4m127 0h1m60 0h1m7 0h2m35 0h2M319 319.5h1m122 0h1m5 0h1M79 320.5h2m157 0h1m49 0h1m25 0h2m43 0h1M79 321.5h1m230 0h1M56 322.5h1m18 0h1m234 0h1m1 0h1m134 0h1M57 323.5h2m2 0h1m11 0h1m4 0h2m12 0h1m31 0h1m123 0h1m65 0h1m36 0h1M46 324.5h1m8 0h3m18 0h1m1 0h1m44 0h5m181 0h1M54 325.5h2m2 0h1m5 0h2m7 0h1m2 0h1m11 0h1m7 0h1m1 0h1m29 0h2M56 326.5h1m3 0h1m1 0h1m2 0h1m2 0h1m4 0h1m1 0h2m1 0h1m3 0h1m1 0h1m12 0h1m31 0h2m166 0h1M52 327.5h3m1 0h2m5 0h3m1 0h1m1 0h1m1 0h1m1 0h2m2 0h1m3 0h1m1 0h1m2 0h1m4 0h1m3 0h1m201 0h1M53 328.5h3m1 0h1m5 0h2m1 0h7m2 0h2m1 0h1m1 0h1m1 0h1m8 0h1m1 0h2m1 0h1m1 0h1m199 0h1M52 329.5h1m1 0h3m1 0h5m1 0h8m3 0h7m2 0h2m1 0h1m5 0h5m1 0h2M50 330.5h1m2 0h1m1 0h1m2 0h1m1 0h1m3 0h4m2 0h1m3 0h3m1 0h1m1 0h1m6 0h1m3 0h3m1 0h1m2 0h2m191 0h1m2 0h1m3 0h1M43 331.5h1m8 0h1m1 0h1m1 0h1m1 0h1m1 0h1m4 0h1m2 0h1m1 0h3m1 0h12m4 0h1m1 0h1m159 0h1m38 0h1M52 332.5h2m1 0h6m4 0h2m1 0h1m1 0h2m2 0h7m1 0h5m5 0h1m1 0h4m3 0h1m193 0h1M55 333.5h12m1 0h4m1 0h8m1 0h3m1 0h12m5 0h1M53 334.5h2m1 0h2m1 0h1m1 0h1m2 0h5m2 0h1m1 0h1m1 0h4m1 0h1m1 0h9m2 0h1m218 0h1M52 335.5h3m1 0h4m1 0h1m1 0h9m4 0h13m6 0h1m6 0h3M56 336.5h2m2 0h2m1 0h2m1 0h1m2 0h3m4 0h7m1 0h9m3 0h1m4 0h1m1 0h1M57 337.5h2m2 0h1m1 0h7m1 0h3m3 0h5m3 0h5M52 338.5h1m3 0h3m1 0h1m1 0h2m4 0h2m1 0h4m4 0h4m1 0h6m2 0h1m7 0h1m199 0h1M52 339.5h1m1 0h1m1 0h1m1 0h3m1 0h1m1 0h1m1 0h1m3 0h5m1 0h1m1 0h1m1 0h13m3 0h3M53 340.5h1m4 0h2m1 0h3m6 0h2m2 0h3m1 0h2m1 0h7m5 0h1M51 341.5h2m4 0h1m4 0h2m2 0h1m4 0h8m3 0h3m1 0h3m6 0h1m2 0h2M54 342.5h1m1 0h1m7 0h1m3 0h2m1 0h9m1 0h3m1 0h2m8 0h1m1 0h1M56 343.5h11m2 0h3m1 0h1m1 0h3m1 0h2m1 0h7m1 0h1m1 0h1m4 0h1M56 344.5h1m4 0h4m1 0h4m1 0h9m1 0h5m7 0h6M60 345.5h1m1 0h5m1 0h15m10 0h3m1 0h1M55 346.5h1m2 0h1m4 0h9m1 0h8m1 0h2m3 0h1m3 0h1m1 0h5M57 347.5h1m2 0h1m2 0h2m1 0h3m1 0h1m1 0h13m6 0h1m2 0h5M61 348.5h1m1 0h2m1 0h3m5 0h2m1 0h6m2 0h4m1 0h1m1 0h1m1 0h6m1 0h1m1 0h1M59 349.5h12m1 0h1m1 0h8m2 0h2m1 0h1m4 0h1m1 0h6m3 0h1M57 350.5h4m1 0h2m1 0h1m1 0h1m1 0h2m3 0h2m1 0h6m1 0h2m1 0h3m3 0h6M51 351.5h1m1 0h1m3 0h3m2 0h4m1 0h2m1 0h3m1 0h6m1 0h5m1 0h2m5 0h3m3 0h1M62 352.5h4m2 0h2m1 0h2m1 0h6m1 0h1m2 0h3m1 0h1m1 0h1m3 0h1m2 0h1M57 353.5h1m1 0h9m4 0h6m1 0h3m1 0h1m2 0h3m1 0h2m1 0h1m1 0h3m186 0h1M57 354.5h4m2 0h2m1 0h1m1 0h1m1 0h11m1 0h1m1 0h2m1 0h1m2 0h3m1 0h1m1 0h2m2 0h1M53 355.5h1m3 0h3m1 0h5m4 0h8m1 0h4m1 0h1m1 0h1m1 0h4m4 0h1m187 0h1M57 356.5h1m1 0h2m1 0h3m1 0h12m2 0h5m1 0h1m1 0h4m1 0h1m1 0h1m2 0h1m8 0h1M55 357.5h1m1 0h1m2 0h5m1 0h1m3 0h3m2 0h12m1 0h2m2 0h1m1 0h1M48 358.5h1m8 0h1m1 0h13m2 0h4m1 0h9m1 0h2M55 359.5h1m3 0h8m3 0h1m1 0h3m1 0h10m1 0h1m1 0h1m1 0h2m6 0h1M53 360.5h1m1 0h1m4 0h7m3 0h3m1 0h2m1 0h16m1 0h1m3 0h1M54 361.5h3m1 0h4m1 0h1m1 0h29M57 362.5h1m1 0h1m1 0h1m2 0h2m1 0h1m1 0h9m1 0h8m1 0h3m6 0h1M52 363.5h1m3 0h8m1 0h2m2 0h15m1 0h7m4 0h1M55 364.5h9m1 0h1m1 0h2m1 0h23m5 0h1M54 365.5h1m2 0h7m4 0h20m2 0h1m1 0h2m9 0h1M51 366.5h1m3 0h1m2 0h7m2 0h15m1 0h7m1 0h2m1 0h1m6 0h1M56 367.5h9m3 0h9m1 0h5m3 0h7m5 0h1M45 368.5h1m6 0h2m1 0h1m1 0h1m1 0h23m1 0h11m4 0h1M46 369.5h3m4 0h1m1 0h1m1 0h8m1 0h14m1 0h1m1 0h2m1 0h6m1 0h2m2 0h2m2 0h1M49 370.5h1m1 0h2m2 0h3m1 0h6m1 0h5m1 0h5m1 0h7m2 0h6m1 0h4m2 0h1M43 371.5h1m7 0h1m1 0h3m1 0h10m1 0h2m1 0h2m1 0h9m1 0h8m1 0h2m1 0h1M23 372.5h1m1 0h1m18 0h1m1 0h1m3 0h3m1 0h2m1 0h1m1 0h9m1 0h2m1 0h5m1 0h5m1 0h2m2 0h1m1 0h3m1 0h3m3 0h1M36 373.5h1m9 0h2m1 0h1m2 0h9m1 0h4m1 0h2m1 0h7m2 0h5m1 0h1m1 0h1m1 0h1m3 0h5m1 0h1M29 374.5h1m14 0h1m1 0h1m3 0h2m1 0h2m1 0h5m1 0h1m1 0h2m3 0h4m1 0h11m1 0h1m1 0h1m1 0h5m1 0h2m210 0h1M25 375.5h1m2 0h1m4 0h1m5 0h1m3 0h1m5 0h5m1 0h9m1 0h8m1 0h4m1 0h3m3 0h1m6 0h3m4 0h1m2 0h1M33 376.5h1m1 0h3m1 0h1m2 0h1m1 0h3m6 0h1m1 0h8m2 0h14m1 0h2m1 0h1m8 0h1m2 0h2M28 377.5h1m2 0h1m1 0h6m3 0h1m3 0h4m2 0h3m1 0h2m1 0h5m2 0h4m1 0h2m1 0h7m1 0h1m2 0h1m4 0h1m9 0h1M26 378.5h1m7 0h5m1 0h4m1 0h3m1 0h2m1 0h15m1 0h8m1 0h5m4 0h1m2 0h2m227 0h1M29 379.5h1m2 0h1m1 0h1m1 0h3m1 0h2m1 0h2m2 0h9m1 0h24m5 0h3M23 380.5h1m6 0h3m1 0h3m3 0h3m1 0h18m1 0h2m2 0h10m7 0h2M26 381.5h2m3 0h8m3 0h5m1 0h3m1 0h7m1 0h4m2 0h11m1 0h1M23 382.5h1m4 0h3m2 0h3m1 0h2m1 0h2m1 0h5m1 0h7m1 0h2m4 0h3m1 0h10m3 0h1M26 383.5h1m1 0h5m1 0h1m2 0h2m2 0h1m3 0h5m1 0h7m1 0h3m6 0h8M27 384.5h8m1 0h1m1 0h10m1 0h10m1 0h1m1 0h1m3 0h1m2 0h2m1 0h1m1 0h1m1 0h1m6 0h1M24 385.5h1m2 0h2m2 0h8m2 0h8m1 0h2m2 0h2m9 0h1m1 0h1m1 0h1m1 0h2m1 0h3M26 386.5h1m1 0h9m1 0h5m1 0h1m1 0h4m1 0h2m1 0h2m1 0h2m11 0h5m2 0h1M27 387.5h3m1 0h1m1 0h6m2 0h1m2 0h5m1 0h1m4 0h1m1 0h1m1 0h2m2 0h1m1 0h3m6 0h1m1 0h1M29 388.5h2m1 0h1m1 0h6m1 0h3m1 0h4m1 0h1m1 0h4m2 0h1m1 0h1m2 0h1m4 0h1m1 0h1M27 389.5h1m5 0h5m1 0h2m2 0h1m3 0h3m1 0h1m6 0h1m2 0h2m2 0h1m1 0h1m1 0h2M28 390.5h1m3 0h1m1 0h1m1 0h2m1 0h4m1 0h1m1 0h2m3 0h2m1 0h1m1 0h1m3 0h2m6 0h2m3 0h1M27 391.5h1m1 0h3m1 0h7m1 0h1m1 0h5m2 0h5m6 0h1m5 0h1M27 392.5h3m1 0h7m1 0h2m1 0h4m1 0h4m12 0h2M20 393.5h1m7 0h4m1 0h8m1 0h9m1 0h1m5 0h1M20 394.5h1m2 0h2m1 0h3m1 0h10m1 0h2m1 0h1m1 0h1m3 0h1m3 0h2m21 0h1M21 395.5h1m5 0h7m1 0h2m1 0h3m2 0h2m5 0h3m1 0h1m1 0h2M21 396.5h2m1 0h1m2 0h8m1 0h4m1 0h3m5 0h1m2 0h2m1 0h1m1 0h1M18 397.5h2m1 0h4m2 0h7m1 0h3m9 0h1m8 0h2M18 398.5h2m4 0h1m2 0h1m1 0h4m1 0h2m3 0h1m1 0h1m17 0h1M20 399.5h4m1 0h1m1 0h1m1 0h8m18 0h2M18 400.5h1m1 0h3m1 0h1m1 0h2m1 0h7m1 0h1m16 0h1M20 401.5h1m1 0h1m1 0h1m2 0h3m1 0h5m2 0h1M19 402.5h3m1 0h2m1 0h1m3 0h1m1 0h3m6 0h1M18 403.5h1m1 0h6m2 0h2m1 0h1m2 0h3m288 0h1M18 404.5h1m1 0h7m2 0h1m1 0h2m1 0h2m1 0h1M18 405.5h7m1 0h4m1 0h2m1 0h1M18 406.5h5m1 0h2m1 0h1m4 0h2M18 407.5h7m6 0h1m281 0h1M18 408.5h3m1 0h1m1 0h1m2 0h1m7 0h1M21 409.5h6m3 0h1m4 0h1M21 410.5h7m2 0h1M21 411.5h2m2 0h2m2 0h2M22 412.5h2m1 0h1m1 0h1m1 0h1m246 0h1M18 413.5h1m2 0h1m2 0h5m236 0h1m13 0h1M18 414.5h1m1 0h1m1 0h1m3 0h1M18 415.5h2m1 0h2m3 0h1m5 0h1m1 0h1M18 416.5h5m1 0h1m244 0h1M19 417.5h2m1 0h1m1 0h1m239 0h1m1 0h1m157 0h5M22 418.5h2m397 0h11M18 419.5h1m2 0h1m1 0h1m6 0h1m230 0h1m158 0h2m4 0h1m1 0h3m1 0h1M19 420.5h4m1 0h1m394 0h1m7 0h3m1 0h3M18 421.5h1m1 0h1m4 0h2m392 0h1m8 0h4m1 0h1M19 422.5h1m2 0h1m3 0h1m392 0h1m10 0h4M21 423.5h1m5 0h1m2 0h1m219 0h1m168 0h2m6 0h1m1 0h3m1 0h1M252 424.5h1m168 0h1m4 0h3m1 0h3M21 425.5h1m8 0h1m392 0h5m1 0h1m1 0h1M19 426.5h1m2 0h2m1 0h1m6 0h1m390 0h7M21 427.5h1m11 0h1M258 431.5h1M252 434.5h2M230 440.5h1M211 444.5h1M184 445.5h1M192 447.5h1M184 448.5h1M177 452.5h1M179 453.5h1m18 0h1M217 459.5h1M199 460.5h1M469 463.5h1M186 464.5h1M152 465.5h1M466 467.5h1M159 468.5h1m26 0h1m2 0h1m279 0h1M183 469.5h1m2 0h1m4 0h1M184 470.5h1m9 0h1M150 471.5h1m21 0h1m11 0h1M251 472.5h1M111 473.5h1m38 0h1m14 0h1M115 474.5h1m33 0h1m31 0h1m37 0h1M154 475.5h1m57 0h1M147 476.5h1m30 0h1m3 0h1m3 0h1m76 0h1M124 477.5h1m135 0h1m204 0h1M102 478.5h1m51 0h1m22 0h1m14 0h1m5 0h1M103 479.5h1m111 0h1m1 0h1m43 0h1m201 0h1M96 480.5h1m4 0h1m31 0h1m63 0h1m15 0h2m48 0h1M198 481.5h1M195 482.5h1M203 483.5h1M66 484.5h1m31 0h1m5 0h1m97 0h1M173 485.5h1m3 0h1m21 0h1M76 486.5h1m15 0h1m2 0h1m5 0h1m73 0h1m2 0h1m20 0h1m60 0h1m206 0h1M80 487.5h1m1 0h1m73 0h1m26 0h2M132 488.5h1m24 0h1m1 0h2M86 489.5h1M81 490.5h1m86 0h1M96 491.5h1m71 0h1m1 0h1m3 0h1m286 0h1M180 492.5h1m47 0h1m240 0h1M140 493.5h1m39 0h1M174 494.5h1M101 495.5h1m67 0h2m6 0h1m1 0h1m5 0h1M99 496.5h2m361 0h1M85 497.5h1m85 0h1m6 0h1M79 498.5h1m22 0h1m33 0h1m39 0h1m2 0h1m44 0h1M148 499.5h1m22 0h1m2 0h1m17 0h1m1 0h1M84 500.5h1m106 0h1M175 501.5h1M127 502.5h1m2 0h1m177 0h1M126 503.5h1m2 0h1m13 0h1M129 504.5h2m125 0h1M93 505.5h1m36 0h1M100 506.5h1m36 0h1M95 507.5h1m1 0h1m26 0h1m5 0h1m61 0h1M128 508.5h1M98 509.5h1m2 0h2m1 0h1m17 0h1M71 510.5h1m42 0h1m4 0h1m72 0h1m51 0h1M97 511.5h1m22 0h1m60 0h1m119 0h1M93 512.5h1m12 0h1m12 0h1m1 0h1m3 0h1M193 513.5h1M77 514.5h1m28 0h1m8 0h1m186 0h1M85 515.5h1m5 0h1m13 0h1m150 0h1M107 516.5h1m149 0h1M76 517.5h1m8 0h2m1 0h1m104 0h1M86 518.5h1m22 0h1m9 0h1m30 0h1m46 0h1M105 519.5h2M99 520.5h1m32 0h1m41 0h1M104 521.5h1m48 0h1m32 0h1M115 522.5h1"/>
<path stroke="#ff0000" fill="none" d="M263 316.5h1m1 0h3m85 0h1M264 317.5h3m23 0h1M348 318.5h1m12 0h2M361 319.5h3M289 320.5h1M241 322.5h1m111 0h2m4 0h1M336 323.5h4m13 0h2M246 324.5h1m88 0h6M335 325.5h6M336 326.5h3m1 0h1M289 328.5h1m136 0h1M327 329.5h1m97 0h4M62 330.5h2m360 0h6M61 331.5h4m359 0h3m1 0h2M61 332.5h4m361 0h1M313 333.5h1M72 335.5h4m221 0h1M72 336.5h4m7 0h1m211 0h3M82 337.5h3m207 0h4M83 338.5h1m206 0h3M119 339.5h1m167 0h4M118 340.5h5m163 0h2M58 341.5h1m1 0h2m57 0h3m199 0h1M58 342.5h3M180 346.5h2M180 347.5h2m195 0h2M378 348.5h3M380 349.5h2M264 350.5h2m114 0h3M381 351.5h3M382 352.5h3M125 353.5h1m258 0h1M125 354.5h1M221 355.5h2M221 356.5h4M223 357.5h4M226 358.5h3M311 384.5h1M470 392.5h5M469 393.5h6M470 394.5h4M340 396.5h1m114 0h3M339 397.5h1m1 0h2m109 0h6M337 398.5h6m107 0h8M337 399.5h3m1 0h2m105 0h10M338 400.5h5m104 0h10M443 401.5h14M439 402.5h18M441 403.5h16M443 404.5h15M446 405.5h13M74 406.5h2m372 0h11M324 407.5h1m124 0h9M450 408.5h4M18 409.5h3M18 410.5h3M18 411.5h3M18 412.5h3M19 413.5h2M19 414.5h1M167 415.5h3M168 416.5h5M168 417.5h5m88 0h1M168 418.5h6M168 419.5h7m100 0h1m147 0h3M169 420.5h7m245 0h6M170 421.5h7m86 0h1m145 0h1m11 0h7M171 422.5h6m231 0h3m10 0h7M173 423.5h3m233 0h1m12 0h5M166 424.5h1m1 0h1m5 0h2m248 0h1M166 425.5h3m1 0h2M170 426.5h2m1 0h1m1 0h1M174 427.5h3m1 0h1M178 428.5h2M189 431.5h1M188 432.5h1M236 444.5h1M143 448.5h2M143 449.5h2M143 450.5h3M142 451.5h5M142 452.5h6m79 0h1M82 453.5h2m57 0h8M82 454.5h2m57 0h8m50 0h1m76 0h1M83 455.5h2m56 0h5m129 0h2M83 456.5h3m56 0h3m132 0h1M84 457.5h2m101 0h1m90 0h2M84 458.5h3m192 0h1m132 0h1M85 459.5h2m165 0h1m26 0h1M86 460.5h2m164 0h2m1 0h2m20 0h5M87 461.5h2m164 0h5m18 0h2m2 0h1m1 0h1M87 462.5h3m166 0h2m18 0h7M88 463.5h2m98 0h1m3 0h1m4 0h1m1 0h3m54 0h2m20 0h2m1 0h2M88 464.5h2m106 0h7m2 0h1m10 0h1m39 0h2m18 0h5m1 0h1M89 465.5h1m100 0h1m5 0h7m54 0h1m19 0h1m1 0h3M89 466.5h2m105 0h7m75 0h3M89 467.5h2m96 0h1m9 0h5m16 0h1m237 0h1M89 468.5h2M89 469.5h2M89 470.5h2m156 0h1m36 0h1M89 471.5h2m195 0h1M88 472.5h2M88 473.5h2m79 0h1m117 0h2M88 474.5h2m126 0h1m71 0h2M88 475.5h1m200 0h2m115 0h3M289 476.5h2m116 0h3M290 477.5h2m116 0h3M106 478.5h1m59 0h1m1 0h1m240 0h1m1 0h1M291 479.5h1m118 0h3M255 480.5h1m35 0h2m118 0h3M183 481.5h4m225 0h3M57 482.5h1m124 0h6m104 0h2m119 0h1M81 483.5h1m17 0h1m82 0h7m5 0h1m76 0h1M80 484.5h2m91 0h1m8 0h6M184 485.5h4m106 0h1M93 486.5h1m83 0h1m3 0h1m3 0h1M295 487.5h1m161 0h1m11 0h1M89 488.5h1m77 0h1m7 0h1m119 0h1M296 489.5h2M273 490.5h1m22 0h1M297 491.5h1M83 492.5h1m210 0h5M178 493.5h1m113 0h1m1 0h2m2 0h2m163 0h1M291 494.5h1m1 0h2m1 0h2m1 0h2M135 495.5h1m156 0h1m1 0h2m1 0h4M132 496.5h1m158 0h2m1 0h5m1 0h1M100 497.5h1m24 0h1m166 0h7M78 498.5h1m213 0h2m2 0h1m2 0h1m157 0h3M104 499.5h3m189 0h1m159 0h5M103 500.5h4m350 0h4M79 501.5h1m23 0h5m349 0h3M79 502.5h1m15 0h1m7 0h3M78 503.5h2m24 0h3m1 0h1m25 0h1M91 505.5h1M88 506.5h1m1 0h1M55 507.5h4M55 508.5h5m33 0h1M54 509.5h6m48 0h2m8 0h1M54 510.5h5m125 0h1M116 512.5h1M85 514.5h1M80 516.5h1m83 0h1M163 517.5h1m1 0h1M164 518.5h1M161 520.5h1M72 522.5h1m78 0h1m6 0h1"/>
<path stroke="#00fa9a" fill="none" d="M64 340.5h6m10 0h1M65 341.5h1m2 0h3m8 0h3M65 342.5h3m12 0h1M421 423.5h1M420 424.5h1m1 0h1M422 425.5h1"/></g><path d="M18 440.6H476M18 480.5H476" stroke="#3a3a10" stroke-opacity="0.42" stroke-width="0.9" stroke-dasharray="2 1.6" fill="none" shape-rendering="auto"/>
</g>
<rect x="18.0" y="316.0" width="458.0" height="206.6" fill="none" stroke="#111" stroke-width="1.2" shape-rendering="auto"/>
<text transform="translate(108.2 310.6) scale(1 0.88)" font-size="10" text-anchor="middle">143°E</text>
<text transform="translate(108.2 533.9) scale(1 0.88)" font-size="10" text-anchor="middle">143°E</text>
<text transform="translate(201.6 310.6) scale(1 0.88)" font-size="10" text-anchor="middle">143.3°E</text>
<text transform="translate(201.6 533.9) scale(1 0.88)" font-size="10" text-anchor="middle">143.3°E</text>
<text transform="translate(292.2 310.6) scale(1 0.88)" font-size="10" text-anchor="middle">143.59°E</text>
<text transform="translate(292.2 533.9) scale(1 0.88)" font-size="10" text-anchor="middle">143.59°E</text>
<text transform="translate(385.6 310.6) scale(1 0.88)" font-size="10" text-anchor="middle">143.89°E</text>
<text transform="translate(385.6 533.9) scale(1 0.88)" font-size="10" text-anchor="middle">143.89°E</text>
<text transform="translate(12.0 358.2) scale(1 0.88) rotate(-90)" font-size="10" text-anchor="middle">43.61°N</text>
<text transform="translate(488.2 358.2) scale(1 0.88) rotate(-90)" font-size="10" text-anchor="middle">43.61°N</text>
<text transform="translate(12.0 398.1) scale(1 0.88) rotate(-90)" font-size="10" text-anchor="middle">43.47°N</text>
<text transform="translate(488.2 398.1) scale(1 0.88) rotate(-90)" font-size="10" text-anchor="middle">43.47°N</text>
<text transform="translate(12.0 440.8) scale(1 0.88) rotate(-90)" font-size="10" text-anchor="middle">43.32°N</text>
<text transform="translate(488.2 440.8) scale(1 0.88) rotate(-90)" font-size="10" text-anchor="middle">43.32°N</text>
<text transform="translate(12.0 480.7) scale(1 0.88) rotate(-90)" font-size="10" text-anchor="middle">43.18°N</text>
<text transform="translate(488.2 480.7) scale(1 0.88) rotate(-90)" font-size="10" text-anchor="middle">43.18°N</text>
<text transform="translate(246.7 543.6) scale(1 0.88)" font-size="10" text-anchor="middle">(b)</text>
</svg></body></html>
